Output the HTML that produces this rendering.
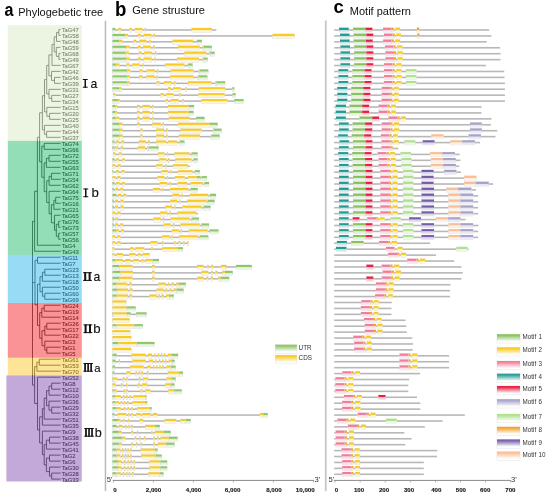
<!DOCTYPE html><html><head><meta charset="utf-8"><style>html,body{margin:0;padding:0;background:#fff;width:550px;height:496px;overflow:hidden}svg{display:block;will-change:transform}text{font-family:"Liberation Sans",sans-serif}</style></head><body>
<svg width="550" height="496" viewBox="0 0 550 496">
<defs>
<linearGradient id="m1" x1="0" y1="0" x2="0" y2="1"><stop offset="0" stop-color="#84c059"/><stop offset="0.4" stop-color="#84c059" stop-opacity="0.95"/><stop offset="0.52" stop-color="#84c059" stop-opacity="0.3"/><stop offset="0.85" stop-color="#84c059" stop-opacity="0.17"/><stop offset="1" stop-color="#84c059" stop-opacity="0.08"/></linearGradient>
<linearGradient id="m2" x1="0" y1="0" x2="0" y2="1"><stop offset="0" stop-color="#f7cb16"/><stop offset="0.4" stop-color="#f7cb16" stop-opacity="0.95"/><stop offset="0.52" stop-color="#f7cb16" stop-opacity="0.3"/><stop offset="0.85" stop-color="#f7cb16" stop-opacity="0.17"/><stop offset="1" stop-color="#f7cb16" stop-opacity="0.08"/></linearGradient>
<linearGradient id="m3" x1="0" y1="0" x2="0" y2="1"><stop offset="0" stop-color="#f07a98"/><stop offset="0.4" stop-color="#f07a98" stop-opacity="0.95"/><stop offset="0.52" stop-color="#f07a98" stop-opacity="0.3"/><stop offset="0.85" stop-color="#f07a98" stop-opacity="0.17"/><stop offset="1" stop-color="#f07a98" stop-opacity="0.08"/></linearGradient>
<linearGradient id="m4" x1="0" y1="0" x2="0" y2="1"><stop offset="0" stop-color="#1e9891"/><stop offset="0.4" stop-color="#1e9891" stop-opacity="0.95"/><stop offset="0.52" stop-color="#1e9891" stop-opacity="0.3"/><stop offset="0.85" stop-color="#1e9891" stop-opacity="0.17"/><stop offset="1" stop-color="#1e9891" stop-opacity="0.08"/></linearGradient>
<linearGradient id="m5" x1="0" y1="0" x2="0" y2="1"><stop offset="0" stop-color="#e8193c"/><stop offset="0.4" stop-color="#e8193c" stop-opacity="0.95"/><stop offset="0.52" stop-color="#e8193c" stop-opacity="0.3"/><stop offset="0.85" stop-color="#e8193c" stop-opacity="0.17"/><stop offset="1" stop-color="#e8193c" stop-opacity="0.08"/></linearGradient>
<linearGradient id="m6" x1="0" y1="0" x2="0" y2="1"><stop offset="0" stop-color="#a3a0c6"/><stop offset="0.4" stop-color="#a3a0c6" stop-opacity="0.95"/><stop offset="0.52" stop-color="#a3a0c6" stop-opacity="0.3"/><stop offset="0.85" stop-color="#a3a0c6" stop-opacity="0.17"/><stop offset="1" stop-color="#a3a0c6" stop-opacity="0.08"/></linearGradient>
<linearGradient id="m7" x1="0" y1="0" x2="0" y2="1"><stop offset="0" stop-color="#ade08a"/><stop offset="0.4" stop-color="#ade08a" stop-opacity="0.95"/><stop offset="0.52" stop-color="#ade08a" stop-opacity="0.3"/><stop offset="0.85" stop-color="#ade08a" stop-opacity="0.17"/><stop offset="1" stop-color="#ade08a" stop-opacity="0.08"/></linearGradient>
<linearGradient id="m8" x1="0" y1="0" x2="0" y2="1"><stop offset="0" stop-color="#f5a020"/><stop offset="0.4" stop-color="#f5a020" stop-opacity="0.95"/><stop offset="0.52" stop-color="#f5a020" stop-opacity="0.3"/><stop offset="0.85" stop-color="#f5a020" stop-opacity="0.17"/><stop offset="1" stop-color="#f5a020" stop-opacity="0.08"/></linearGradient>
<linearGradient id="m9" x1="0" y1="0" x2="0" y2="1"><stop offset="0" stop-color="#7259a8"/><stop offset="0.4" stop-color="#7259a8" stop-opacity="0.95"/><stop offset="0.52" stop-color="#7259a8" stop-opacity="0.3"/><stop offset="0.85" stop-color="#7259a8" stop-opacity="0.17"/><stop offset="1" stop-color="#7259a8" stop-opacity="0.08"/></linearGradient>
<linearGradient id="m10" x1="0" y1="0" x2="0" y2="1"><stop offset="0" stop-color="#fbbd92"/><stop offset="0.4" stop-color="#fbbd92" stop-opacity="0.95"/><stop offset="0.52" stop-color="#fbbd92" stop-opacity="0.3"/><stop offset="0.85" stop-color="#fbbd92" stop-opacity="0.17"/><stop offset="1" stop-color="#fbbd92" stop-opacity="0.08"/></linearGradient>
<linearGradient id="gG" x1="0" y1="0" x2="0" y2="1"><stop offset="0" stop-color="#8ac462"/><stop offset="0.36" stop-color="#8ac462" stop-opacity="0.92"/><stop offset="0.5" stop-color="#8ac462" stop-opacity="0.32"/><stop offset="0.85" stop-color="#8ac462" stop-opacity="0.14"/><stop offset="1" stop-color="#8ac462" stop-opacity="0.06"/></linearGradient>
<linearGradient id="gY" x1="0" y1="0" x2="0" y2="1"><stop offset="0" stop-color="#f8c81c"/><stop offset="0.36" stop-color="#f8c81c" stop-opacity="0.92"/><stop offset="0.5" stop-color="#f8c81c" stop-opacity="0.32"/><stop offset="0.85" stop-color="#f8c81c" stop-opacity="0.14"/><stop offset="1" stop-color="#f8c81c" stop-opacity="0.06"/></linearGradient>
<linearGradient id="l1" x1="0" y1="0" x2="0" y2="1"><stop offset="0" stop-color="#84c059"/><stop offset="0.15" stop-color="#84c059" stop-opacity="0.92"/><stop offset="0.82" stop-color="#84c059" stop-opacity="0.0"/></linearGradient>
<linearGradient id="l2" x1="0" y1="0" x2="0" y2="1"><stop offset="0" stop-color="#f7cb16"/><stop offset="0.15" stop-color="#f7cb16" stop-opacity="0.92"/><stop offset="0.82" stop-color="#f7cb16" stop-opacity="0.0"/></linearGradient>
<linearGradient id="l3" x1="0" y1="0" x2="0" y2="1"><stop offset="0" stop-color="#f07a98"/><stop offset="0.15" stop-color="#f07a98" stop-opacity="0.92"/><stop offset="0.82" stop-color="#f07a98" stop-opacity="0.0"/></linearGradient>
<linearGradient id="l4" x1="0" y1="0" x2="0" y2="1"><stop offset="0" stop-color="#1e9891"/><stop offset="0.15" stop-color="#1e9891" stop-opacity="0.92"/><stop offset="0.82" stop-color="#1e9891" stop-opacity="0.0"/></linearGradient>
<linearGradient id="l5" x1="0" y1="0" x2="0" y2="1"><stop offset="0" stop-color="#e8193c"/><stop offset="0.15" stop-color="#e8193c" stop-opacity="0.92"/><stop offset="0.82" stop-color="#e8193c" stop-opacity="0.0"/></linearGradient>
<linearGradient id="l6" x1="0" y1="0" x2="0" y2="1"><stop offset="0" stop-color="#a3a0c6"/><stop offset="0.15" stop-color="#a3a0c6" stop-opacity="0.92"/><stop offset="0.82" stop-color="#a3a0c6" stop-opacity="0.0"/></linearGradient>
<linearGradient id="l7" x1="0" y1="0" x2="0" y2="1"><stop offset="0" stop-color="#ade08a"/><stop offset="0.15" stop-color="#ade08a" stop-opacity="0.92"/><stop offset="0.82" stop-color="#ade08a" stop-opacity="0.0"/></linearGradient>
<linearGradient id="l8" x1="0" y1="0" x2="0" y2="1"><stop offset="0" stop-color="#f5a020"/><stop offset="0.15" stop-color="#f5a020" stop-opacity="0.92"/><stop offset="0.82" stop-color="#f5a020" stop-opacity="0.0"/></linearGradient>
<linearGradient id="l9" x1="0" y1="0" x2="0" y2="1"><stop offset="0" stop-color="#7259a8"/><stop offset="0.15" stop-color="#7259a8" stop-opacity="0.92"/><stop offset="0.82" stop-color="#7259a8" stop-opacity="0.0"/></linearGradient>
<linearGradient id="l10" x1="0" y1="0" x2="0" y2="1"><stop offset="0" stop-color="#fbbd92"/><stop offset="0.15" stop-color="#fbbd92" stop-opacity="0.92"/><stop offset="0.82" stop-color="#fbbd92" stop-opacity="0.0"/></linearGradient>
<linearGradient id="lgG" x1="0" y1="0" x2="0" y2="1"><stop offset="0" stop-color="#8ac462"/><stop offset="0.15" stop-color="#8ac462" stop-opacity="0.92"/><stop offset="0.82" stop-color="#8ac462" stop-opacity="0.0"/></linearGradient>
<linearGradient id="lgY" x1="0" y1="0" x2="0" y2="1"><stop offset="0" stop-color="#f8c81c"/><stop offset="0.15" stop-color="#f8c81c" stop-opacity="0.92"/><stop offset="0.82" stop-color="#f8c81c" stop-opacity="0.0"/></linearGradient>
</defs>
<text transform="translate(4.5,15.7) scale(0.93,1.06)" font-size="17.3" font-weight="bold" fill="#000">a</text>
<text x="18.2" y="15.9" font-size="11" fill="#111">Phylogebetic tree</text>
<text transform="translate(114.9,15.6) scale(0.98,1.11)" font-size="19" font-weight="bold" fill="#000">b</text>
<text x="132.2" y="13.8" font-size="11" fill="#111">Gene strusture</text>
<text x="333.4" y="12.9" font-size="18.5" font-weight="bold" fill="#000">c</text>
<text x="349.8" y="15.3" font-size="11" fill="#111">Motif pattern</text>
<rect x="104.7" y="20.8" width="1.5" height="470.2" fill="#b9b9b9"/>
<rect x="324.9" y="20.4" width="1.7" height="470.6" fill="#c4c4c4"/>
<line x1="32.50" y1="221.26" x2="32.50" y2="385.11" stroke="#262626" stroke-width="0.85"/>
<line x1="32.50" y1="221.26" x2="34.60" y2="221.26" stroke="#262626" stroke-width="0.85"/>
<line x1="34.60" y1="191.27" x2="34.60" y2="251.25" stroke="#262626" stroke-width="0.85"/>
<line x1="34.60" y1="191.27" x2="37.40" y2="191.27" stroke="#262626" stroke-width="0.85"/>
<line x1="37.40" y1="137.28" x2="37.40" y2="245.26" stroke="#262626" stroke-width="0.85"/>
<line x1="37.40" y1="137.28" x2="39.60" y2="137.28" stroke="#262626" stroke-width="0.85"/>
<line x1="39.60" y1="112.78" x2="39.60" y2="161.78" stroke="#262626" stroke-width="0.85"/>
<line x1="39.60" y1="112.78" x2="42.40" y2="112.78" stroke="#262626" stroke-width="0.85"/>
<line x1="42.40" y1="95.73" x2="42.40" y2="129.83" stroke="#262626" stroke-width="0.85"/>
<line x1="42.40" y1="95.73" x2="44.50" y2="95.73" stroke="#262626" stroke-width="0.85"/>
<line x1="44.50" y1="79.62" x2="44.50" y2="111.84" stroke="#262626" stroke-width="0.85"/>
<line x1="44.50" y1="79.62" x2="46.70" y2="79.62" stroke="#262626" stroke-width="0.85"/>
<line x1="46.70" y1="65.38" x2="46.70" y2="93.86" stroke="#262626" stroke-width="0.85"/>
<line x1="46.70" y1="65.38" x2="48.90" y2="65.38" stroke="#262626" stroke-width="0.85"/>
<line x1="48.90" y1="54.88" x2="48.90" y2="75.87" stroke="#262626" stroke-width="0.85"/>
<line x1="48.90" y1="54.88" x2="52.00" y2="54.88" stroke="#262626" stroke-width="0.85"/>
<line x1="52.00" y1="44.39" x2="52.00" y2="65.38" stroke="#262626" stroke-width="0.85"/>
<line x1="52.00" y1="44.39" x2="54.20" y2="44.39" stroke="#262626" stroke-width="0.85"/>
<line x1="54.20" y1="36.89" x2="54.20" y2="51.89" stroke="#262626" stroke-width="0.85"/>
<line x1="54.20" y1="36.89" x2="56.50" y2="36.89" stroke="#262626" stroke-width="0.85"/>
<line x1="56.50" y1="32.40" x2="56.50" y2="41.39" stroke="#262626" stroke-width="0.85"/>
<line x1="56.50" y1="32.40" x2="58.90" y2="32.40" stroke="#262626" stroke-width="0.85"/>
<line x1="58.90" y1="29.40" x2="58.90" y2="35.40" stroke="#262626" stroke-width="0.85"/>
<line x1="58.90" y1="29.40" x2="60.60" y2="29.40" stroke="#262626" stroke-width="0.85"/>
<line x1="58.90" y1="35.40" x2="60.60" y2="35.40" stroke="#262626" stroke-width="0.85"/>
<line x1="56.50" y1="41.39" x2="60.60" y2="41.39" stroke="#262626" stroke-width="0.85"/>
<line x1="54.20" y1="51.89" x2="56.30" y2="51.89" stroke="#262626" stroke-width="0.85"/>
<line x1="56.30" y1="47.39" x2="56.30" y2="56.38" stroke="#262626" stroke-width="0.85"/>
<line x1="56.30" y1="47.39" x2="60.60" y2="47.39" stroke="#262626" stroke-width="0.85"/>
<line x1="56.30" y1="56.38" x2="58.90" y2="56.38" stroke="#262626" stroke-width="0.85"/>
<line x1="58.90" y1="53.38" x2="58.90" y2="59.38" stroke="#262626" stroke-width="0.85"/>
<line x1="58.90" y1="53.38" x2="60.60" y2="53.38" stroke="#262626" stroke-width="0.85"/>
<line x1="58.90" y1="59.38" x2="60.60" y2="59.38" stroke="#262626" stroke-width="0.85"/>
<line x1="52.00" y1="65.38" x2="60.60" y2="65.38" stroke="#262626" stroke-width="0.85"/>
<line x1="48.90" y1="75.87" x2="51.50" y2="75.87" stroke="#262626" stroke-width="0.85"/>
<line x1="51.50" y1="71.37" x2="51.50" y2="80.37" stroke="#262626" stroke-width="0.85"/>
<line x1="51.50" y1="71.37" x2="60.60" y2="71.37" stroke="#262626" stroke-width="0.85"/>
<line x1="51.50" y1="80.37" x2="54.50" y2="80.37" stroke="#262626" stroke-width="0.85"/>
<line x1="54.50" y1="77.37" x2="54.50" y2="83.36" stroke="#262626" stroke-width="0.85"/>
<line x1="54.50" y1="77.37" x2="60.60" y2="77.37" stroke="#262626" stroke-width="0.85"/>
<line x1="54.50" y1="83.36" x2="60.60" y2="83.36" stroke="#262626" stroke-width="0.85"/>
<line x1="46.70" y1="93.86" x2="49.00" y2="93.86" stroke="#262626" stroke-width="0.85"/>
<line x1="49.00" y1="89.36" x2="49.00" y2="98.35" stroke="#262626" stroke-width="0.85"/>
<line x1="49.00" y1="89.36" x2="60.60" y2="89.36" stroke="#262626" stroke-width="0.85"/>
<line x1="49.00" y1="98.35" x2="51.70" y2="98.35" stroke="#262626" stroke-width="0.85"/>
<line x1="51.70" y1="95.36" x2="51.70" y2="101.35" stroke="#262626" stroke-width="0.85"/>
<line x1="51.70" y1="95.36" x2="60.60" y2="95.36" stroke="#262626" stroke-width="0.85"/>
<line x1="51.70" y1="101.35" x2="60.60" y2="101.35" stroke="#262626" stroke-width="0.85"/>
<line x1="44.50" y1="111.84" x2="46.80" y2="111.84" stroke="#262626" stroke-width="0.85"/>
<line x1="46.80" y1="107.35" x2="46.80" y2="116.34" stroke="#262626" stroke-width="0.85"/>
<line x1="46.80" y1="107.35" x2="60.60" y2="107.35" stroke="#262626" stroke-width="0.85"/>
<line x1="46.80" y1="116.34" x2="49.60" y2="116.34" stroke="#262626" stroke-width="0.85"/>
<line x1="49.60" y1="113.34" x2="49.60" y2="119.34" stroke="#262626" stroke-width="0.85"/>
<line x1="49.60" y1="113.34" x2="60.60" y2="113.34" stroke="#262626" stroke-width="0.85"/>
<line x1="49.60" y1="119.34" x2="60.60" y2="119.34" stroke="#262626" stroke-width="0.85"/>
<line x1="42.40" y1="129.83" x2="44.40" y2="129.83" stroke="#262626" stroke-width="0.85"/>
<line x1="44.40" y1="125.34" x2="44.40" y2="134.33" stroke="#262626" stroke-width="0.85"/>
<line x1="44.40" y1="125.34" x2="60.60" y2="125.34" stroke="#262626" stroke-width="0.85"/>
<line x1="44.40" y1="134.33" x2="46.60" y2="134.33" stroke="#262626" stroke-width="0.85"/>
<line x1="46.60" y1="131.33" x2="46.60" y2="137.33" stroke="#262626" stroke-width="0.85"/>
<line x1="46.60" y1="131.33" x2="60.60" y2="131.33" stroke="#262626" stroke-width="0.85"/>
<line x1="46.60" y1="137.33" x2="60.60" y2="137.33" stroke="#262626" stroke-width="0.85"/>
<line x1="39.60" y1="161.78" x2="41.80" y2="161.78" stroke="#262626" stroke-width="0.85"/>
<line x1="41.80" y1="146.32" x2="41.80" y2="177.24" stroke="#262626" stroke-width="0.85"/>
<line x1="41.80" y1="146.32" x2="44.20" y2="146.32" stroke="#262626" stroke-width="0.85"/>
<line x1="44.20" y1="143.32" x2="44.20" y2="149.32" stroke="#262626" stroke-width="0.85"/>
<line x1="44.20" y1="143.32" x2="60.60" y2="143.32" stroke="#262626" stroke-width="0.85"/>
<line x1="44.20" y1="149.32" x2="60.60" y2="149.32" stroke="#262626" stroke-width="0.85"/>
<line x1="41.80" y1="177.24" x2="44.20" y2="177.24" stroke="#262626" stroke-width="0.85"/>
<line x1="44.20" y1="162.81" x2="44.20" y2="191.67" stroke="#262626" stroke-width="0.85"/>
<line x1="44.20" y1="162.81" x2="46.40" y2="162.81" stroke="#262626" stroke-width="0.85"/>
<line x1="46.40" y1="158.31" x2="46.40" y2="167.31" stroke="#262626" stroke-width="0.85"/>
<line x1="46.40" y1="158.31" x2="49.00" y2="158.31" stroke="#262626" stroke-width="0.85"/>
<line x1="49.00" y1="155.32" x2="49.00" y2="161.31" stroke="#262626" stroke-width="0.85"/>
<line x1="49.00" y1="155.32" x2="60.60" y2="155.32" stroke="#262626" stroke-width="0.85"/>
<line x1="49.00" y1="161.31" x2="60.60" y2="161.31" stroke="#262626" stroke-width="0.85"/>
<line x1="46.40" y1="167.31" x2="60.60" y2="167.31" stroke="#262626" stroke-width="0.85"/>
<line x1="44.20" y1="191.67" x2="46.70" y2="191.67" stroke="#262626" stroke-width="0.85"/>
<line x1="46.70" y1="180.80" x2="46.70" y2="202.53" stroke="#262626" stroke-width="0.85"/>
<line x1="46.70" y1="180.80" x2="49.10" y2="180.80" stroke="#262626" stroke-width="0.85"/>
<line x1="49.10" y1="176.30" x2="49.10" y2="185.30" stroke="#262626" stroke-width="0.85"/>
<line x1="49.10" y1="176.30" x2="51.50" y2="176.30" stroke="#262626" stroke-width="0.85"/>
<line x1="51.50" y1="173.30" x2="51.50" y2="179.30" stroke="#262626" stroke-width="0.85"/>
<line x1="51.50" y1="173.30" x2="60.60" y2="173.30" stroke="#262626" stroke-width="0.85"/>
<line x1="51.50" y1="179.30" x2="60.60" y2="179.30" stroke="#262626" stroke-width="0.85"/>
<line x1="49.10" y1="185.30" x2="60.60" y2="185.30" stroke="#262626" stroke-width="0.85"/>
<line x1="46.70" y1="202.53" x2="49.10" y2="202.53" stroke="#262626" stroke-width="0.85"/>
<line x1="49.10" y1="191.29" x2="49.10" y2="213.78" stroke="#262626" stroke-width="0.85"/>
<line x1="49.10" y1="191.29" x2="60.60" y2="191.29" stroke="#262626" stroke-width="0.85"/>
<line x1="49.10" y1="213.78" x2="51.40" y2="213.78" stroke="#262626" stroke-width="0.85"/>
<line x1="51.40" y1="204.78" x2="51.40" y2="222.77" stroke="#262626" stroke-width="0.85"/>
<line x1="51.40" y1="204.78" x2="53.90" y2="204.78" stroke="#262626" stroke-width="0.85"/>
<line x1="53.90" y1="200.29" x2="53.90" y2="209.28" stroke="#262626" stroke-width="0.85"/>
<line x1="53.90" y1="200.29" x2="55.70" y2="200.29" stroke="#262626" stroke-width="0.85"/>
<line x1="55.70" y1="197.29" x2="55.70" y2="203.28" stroke="#262626" stroke-width="0.85"/>
<line x1="55.70" y1="197.29" x2="60.60" y2="197.29" stroke="#262626" stroke-width="0.85"/>
<line x1="55.70" y1="203.28" x2="60.60" y2="203.28" stroke="#262626" stroke-width="0.85"/>
<line x1="53.90" y1="209.28" x2="60.60" y2="209.28" stroke="#262626" stroke-width="0.85"/>
<line x1="51.40" y1="222.77" x2="54.50" y2="222.77" stroke="#262626" stroke-width="0.85"/>
<line x1="54.50" y1="215.28" x2="54.50" y2="230.27" stroke="#262626" stroke-width="0.85"/>
<line x1="54.50" y1="215.28" x2="60.60" y2="215.28" stroke="#262626" stroke-width="0.85"/>
<line x1="54.50" y1="230.27" x2="56.30" y2="230.27" stroke="#262626" stroke-width="0.85"/>
<line x1="56.30" y1="224.27" x2="56.30" y2="236.26" stroke="#262626" stroke-width="0.85"/>
<line x1="56.30" y1="224.27" x2="58.70" y2="224.27" stroke="#262626" stroke-width="0.85"/>
<line x1="58.70" y1="221.27" x2="58.70" y2="227.27" stroke="#262626" stroke-width="0.85"/>
<line x1="58.70" y1="221.27" x2="60.60" y2="221.27" stroke="#262626" stroke-width="0.85"/>
<line x1="58.70" y1="227.27" x2="60.60" y2="227.27" stroke="#262626" stroke-width="0.85"/>
<line x1="56.30" y1="236.26" x2="58.70" y2="236.26" stroke="#262626" stroke-width="0.85"/>
<line x1="58.70" y1="233.26" x2="58.70" y2="239.26" stroke="#262626" stroke-width="0.85"/>
<line x1="58.70" y1="233.26" x2="60.60" y2="233.26" stroke="#262626" stroke-width="0.85"/>
<line x1="58.70" y1="239.26" x2="60.60" y2="239.26" stroke="#262626" stroke-width="0.85"/>
<line x1="37.40" y1="245.26" x2="60.60" y2="245.26" stroke="#262626" stroke-width="0.85"/>
<line x1="34.60" y1="251.25" x2="60.60" y2="251.25" stroke="#262626" stroke-width="0.85"/>
<line x1="32.50" y1="282.54" x2="35.00" y2="282.54" stroke="#262626" stroke-width="0.85"/>
<line x1="35.00" y1="260.25" x2="35.00" y2="304.84" stroke="#262626" stroke-width="0.85"/>
<line x1="35.00" y1="260.25" x2="37.50" y2="260.25" stroke="#262626" stroke-width="0.85"/>
<line x1="37.50" y1="257.25" x2="37.50" y2="263.24" stroke="#262626" stroke-width="0.85"/>
<line x1="37.50" y1="257.25" x2="60.60" y2="257.25" stroke="#262626" stroke-width="0.85"/>
<line x1="37.50" y1="263.24" x2="60.60" y2="263.24" stroke="#262626" stroke-width="0.85"/>
<line x1="35.00" y1="304.84" x2="37.50" y2="304.84" stroke="#262626" stroke-width="0.85"/>
<line x1="37.50" y1="284.23" x2="37.50" y2="325.45" stroke="#262626" stroke-width="0.85"/>
<line x1="37.50" y1="284.23" x2="40.00" y2="284.23" stroke="#262626" stroke-width="0.85"/>
<line x1="40.00" y1="276.74" x2="40.00" y2="291.73" stroke="#262626" stroke-width="0.85"/>
<line x1="40.00" y1="276.74" x2="42.40" y2="276.74" stroke="#262626" stroke-width="0.85"/>
<line x1="42.40" y1="272.24" x2="42.40" y2="281.23" stroke="#262626" stroke-width="0.85"/>
<line x1="42.40" y1="272.24" x2="44.80" y2="272.24" stroke="#262626" stroke-width="0.85"/>
<line x1="44.80" y1="269.24" x2="44.80" y2="275.24" stroke="#262626" stroke-width="0.85"/>
<line x1="44.80" y1="269.24" x2="60.60" y2="269.24" stroke="#262626" stroke-width="0.85"/>
<line x1="44.80" y1="275.24" x2="60.60" y2="275.24" stroke="#262626" stroke-width="0.85"/>
<line x1="42.40" y1="281.23" x2="60.60" y2="281.23" stroke="#262626" stroke-width="0.85"/>
<line x1="40.00" y1="291.73" x2="42.40" y2="291.73" stroke="#262626" stroke-width="0.85"/>
<line x1="42.40" y1="287.23" x2="42.40" y2="296.22" stroke="#262626" stroke-width="0.85"/>
<line x1="42.40" y1="287.23" x2="60.60" y2="287.23" stroke="#262626" stroke-width="0.85"/>
<line x1="42.40" y1="296.22" x2="44.80" y2="296.22" stroke="#262626" stroke-width="0.85"/>
<line x1="44.80" y1="293.22" x2="44.80" y2="299.22" stroke="#262626" stroke-width="0.85"/>
<line x1="44.80" y1="293.22" x2="60.60" y2="293.22" stroke="#262626" stroke-width="0.85"/>
<line x1="44.80" y1="299.22" x2="60.60" y2="299.22" stroke="#262626" stroke-width="0.85"/>
<line x1="37.50" y1="325.45" x2="39.70" y2="325.45" stroke="#262626" stroke-width="0.85"/>
<line x1="39.70" y1="312.71" x2="39.70" y2="338.19" stroke="#262626" stroke-width="0.85"/>
<line x1="39.70" y1="312.71" x2="41.80" y2="312.71" stroke="#262626" stroke-width="0.85"/>
<line x1="41.80" y1="308.21" x2="41.80" y2="317.21" stroke="#262626" stroke-width="0.85"/>
<line x1="41.80" y1="308.21" x2="44.20" y2="308.21" stroke="#262626" stroke-width="0.85"/>
<line x1="44.20" y1="305.22" x2="44.20" y2="311.21" stroke="#262626" stroke-width="0.85"/>
<line x1="44.20" y1="305.22" x2="60.60" y2="305.22" stroke="#262626" stroke-width="0.85"/>
<line x1="44.20" y1="311.21" x2="60.60" y2="311.21" stroke="#262626" stroke-width="0.85"/>
<line x1="41.80" y1="317.21" x2="60.60" y2="317.21" stroke="#262626" stroke-width="0.85"/>
<line x1="39.70" y1="338.19" x2="42.00" y2="338.19" stroke="#262626" stroke-width="0.85"/>
<line x1="42.00" y1="330.70" x2="42.00" y2="345.69" stroke="#262626" stroke-width="0.85"/>
<line x1="42.00" y1="330.70" x2="44.80" y2="330.70" stroke="#262626" stroke-width="0.85"/>
<line x1="44.80" y1="326.20" x2="44.80" y2="335.20" stroke="#262626" stroke-width="0.85"/>
<line x1="44.80" y1="326.20" x2="46.80" y2="326.20" stroke="#262626" stroke-width="0.85"/>
<line x1="46.80" y1="323.20" x2="46.80" y2="329.20" stroke="#262626" stroke-width="0.85"/>
<line x1="46.80" y1="323.20" x2="60.60" y2="323.20" stroke="#262626" stroke-width="0.85"/>
<line x1="46.80" y1="329.20" x2="60.60" y2="329.20" stroke="#262626" stroke-width="0.85"/>
<line x1="44.80" y1="335.20" x2="60.60" y2="335.20" stroke="#262626" stroke-width="0.85"/>
<line x1="42.00" y1="345.69" x2="44.80" y2="345.69" stroke="#262626" stroke-width="0.85"/>
<line x1="44.80" y1="341.19" x2="44.80" y2="350.19" stroke="#262626" stroke-width="0.85"/>
<line x1="44.80" y1="341.19" x2="60.60" y2="341.19" stroke="#262626" stroke-width="0.85"/>
<line x1="44.80" y1="350.19" x2="46.80" y2="350.19" stroke="#262626" stroke-width="0.85"/>
<line x1="46.80" y1="347.19" x2="46.80" y2="353.18" stroke="#262626" stroke-width="0.85"/>
<line x1="46.80" y1="347.19" x2="60.60" y2="347.19" stroke="#262626" stroke-width="0.85"/>
<line x1="46.80" y1="353.18" x2="60.60" y2="353.18" stroke="#262626" stroke-width="0.85"/>
<line x1="32.50" y1="385.11" x2="34.60" y2="385.11" stroke="#262626" stroke-width="0.85"/>
<line x1="34.60" y1="366.68" x2="34.60" y2="403.54" stroke="#262626" stroke-width="0.85"/>
<line x1="34.60" y1="366.68" x2="36.90" y2="366.68" stroke="#262626" stroke-width="0.85"/>
<line x1="36.90" y1="362.18" x2="36.90" y2="371.17" stroke="#262626" stroke-width="0.85"/>
<line x1="36.90" y1="362.18" x2="39.30" y2="362.18" stroke="#262626" stroke-width="0.85"/>
<line x1="39.30" y1="359.18" x2="39.30" y2="365.18" stroke="#262626" stroke-width="0.85"/>
<line x1="39.30" y1="359.18" x2="60.60" y2="359.18" stroke="#262626" stroke-width="0.85"/>
<line x1="39.30" y1="365.18" x2="60.60" y2="365.18" stroke="#262626" stroke-width="0.85"/>
<line x1="36.90" y1="371.17" x2="60.60" y2="371.17" stroke="#262626" stroke-width="0.85"/>
<line x1="34.60" y1="403.54" x2="37.50" y2="403.54" stroke="#262626" stroke-width="0.85"/>
<line x1="37.50" y1="377.17" x2="37.50" y2="429.91" stroke="#262626" stroke-width="0.85"/>
<line x1="37.50" y1="377.17" x2="60.60" y2="377.17" stroke="#262626" stroke-width="0.85"/>
<line x1="37.50" y1="429.91" x2="39.60" y2="429.91" stroke="#262626" stroke-width="0.85"/>
<line x1="39.60" y1="416.89" x2="39.60" y2="442.94" stroke="#262626" stroke-width="0.85"/>
<line x1="39.60" y1="416.89" x2="42.40" y2="416.89" stroke="#262626" stroke-width="0.85"/>
<line x1="42.40" y1="408.65" x2="42.40" y2="425.14" stroke="#262626" stroke-width="0.85"/>
<line x1="42.40" y1="408.65" x2="44.20" y2="408.65" stroke="#262626" stroke-width="0.85"/>
<line x1="44.20" y1="398.15" x2="44.20" y2="419.14" stroke="#262626" stroke-width="0.85"/>
<line x1="44.20" y1="398.15" x2="46.60" y2="398.15" stroke="#262626" stroke-width="0.85"/>
<line x1="46.60" y1="390.66" x2="46.60" y2="405.65" stroke="#262626" stroke-width="0.85"/>
<line x1="46.60" y1="390.66" x2="49.00" y2="390.66" stroke="#262626" stroke-width="0.85"/>
<line x1="49.00" y1="386.16" x2="49.00" y2="395.16" stroke="#262626" stroke-width="0.85"/>
<line x1="49.00" y1="386.16" x2="51.70" y2="386.16" stroke="#262626" stroke-width="0.85"/>
<line x1="51.70" y1="383.16" x2="51.70" y2="389.16" stroke="#262626" stroke-width="0.85"/>
<line x1="51.70" y1="383.16" x2="60.60" y2="383.16" stroke="#262626" stroke-width="0.85"/>
<line x1="51.70" y1="389.16" x2="60.60" y2="389.16" stroke="#262626" stroke-width="0.85"/>
<line x1="49.00" y1="395.16" x2="60.60" y2="395.16" stroke="#262626" stroke-width="0.85"/>
<line x1="46.60" y1="405.65" x2="49.00" y2="405.65" stroke="#262626" stroke-width="0.85"/>
<line x1="49.00" y1="401.15" x2="49.00" y2="410.15" stroke="#262626" stroke-width="0.85"/>
<line x1="49.00" y1="401.15" x2="60.60" y2="401.15" stroke="#262626" stroke-width="0.85"/>
<line x1="49.00" y1="410.15" x2="51.70" y2="410.15" stroke="#262626" stroke-width="0.85"/>
<line x1="51.70" y1="407.15" x2="51.70" y2="413.14" stroke="#262626" stroke-width="0.85"/>
<line x1="51.70" y1="407.15" x2="60.60" y2="407.15" stroke="#262626" stroke-width="0.85"/>
<line x1="51.70" y1="413.14" x2="60.60" y2="413.14" stroke="#262626" stroke-width="0.85"/>
<line x1="44.20" y1="419.14" x2="60.60" y2="419.14" stroke="#262626" stroke-width="0.85"/>
<line x1="42.40" y1="425.14" x2="60.60" y2="425.14" stroke="#262626" stroke-width="0.85"/>
<line x1="39.60" y1="442.94" x2="42.40" y2="442.94" stroke="#262626" stroke-width="0.85"/>
<line x1="42.40" y1="431.13" x2="42.40" y2="454.74" stroke="#262626" stroke-width="0.85"/>
<line x1="42.40" y1="431.13" x2="60.60" y2="431.13" stroke="#262626" stroke-width="0.85"/>
<line x1="42.40" y1="454.74" x2="44.20" y2="454.74" stroke="#262626" stroke-width="0.85"/>
<line x1="44.20" y1="444.62" x2="44.20" y2="464.86" stroke="#262626" stroke-width="0.85"/>
<line x1="44.20" y1="444.62" x2="46.40" y2="444.62" stroke="#262626" stroke-width="0.85"/>
<line x1="46.40" y1="440.13" x2="46.40" y2="449.12" stroke="#262626" stroke-width="0.85"/>
<line x1="46.40" y1="440.13" x2="49.50" y2="440.13" stroke="#262626" stroke-width="0.85"/>
<line x1="49.50" y1="437.13" x2="49.50" y2="443.12" stroke="#262626" stroke-width="0.85"/>
<line x1="49.50" y1="437.13" x2="60.60" y2="437.13" stroke="#262626" stroke-width="0.85"/>
<line x1="49.50" y1="443.12" x2="60.60" y2="443.12" stroke="#262626" stroke-width="0.85"/>
<line x1="46.40" y1="449.12" x2="60.60" y2="449.12" stroke="#262626" stroke-width="0.85"/>
<line x1="44.20" y1="464.86" x2="46.40" y2="464.86" stroke="#262626" stroke-width="0.85"/>
<line x1="46.40" y1="458.11" x2="46.40" y2="471.61" stroke="#262626" stroke-width="0.85"/>
<line x1="46.40" y1="458.11" x2="49.50" y2="458.11" stroke="#262626" stroke-width="0.85"/>
<line x1="49.50" y1="455.12" x2="49.50" y2="461.11" stroke="#262626" stroke-width="0.85"/>
<line x1="49.50" y1="455.12" x2="60.60" y2="455.12" stroke="#262626" stroke-width="0.85"/>
<line x1="49.50" y1="461.11" x2="60.60" y2="461.11" stroke="#262626" stroke-width="0.85"/>
<line x1="46.40" y1="471.61" x2="49.50" y2="471.61" stroke="#262626" stroke-width="0.85"/>
<line x1="49.50" y1="467.11" x2="49.50" y2="476.10" stroke="#262626" stroke-width="0.85"/>
<line x1="49.50" y1="467.11" x2="60.60" y2="467.11" stroke="#262626" stroke-width="0.85"/>
<line x1="49.50" y1="476.10" x2="51.70" y2="476.10" stroke="#262626" stroke-width="0.85"/>
<line x1="51.70" y1="473.10" x2="51.70" y2="479.10" stroke="#262626" stroke-width="0.85"/>
<line x1="51.70" y1="473.10" x2="60.60" y2="473.10" stroke="#262626" stroke-width="0.85"/>
<line x1="51.70" y1="479.10" x2="60.60" y2="479.10" stroke="#262626" stroke-width="0.85"/>
<text x="61.7" y="32.15" font-size="5.8" fill="#262626" stroke="#262626" stroke-width="0.12">TaG47</text>
<text x="61.7" y="38.15" font-size="5.8" fill="#262626" stroke="#262626" stroke-width="0.12">TaG58</text>
<text x="61.7" y="44.14" font-size="5.8" fill="#262626" stroke="#262626" stroke-width="0.12">TaG48</text>
<text x="61.7" y="50.14" font-size="5.8" fill="#262626" stroke="#262626" stroke-width="0.12">TaG59</text>
<text x="61.7" y="56.13" font-size="5.8" fill="#262626" stroke="#262626" stroke-width="0.12">TaG68</text>
<text x="61.7" y="62.13" font-size="5.8" fill="#262626" stroke="#262626" stroke-width="0.12">TaG49</text>
<text x="61.7" y="68.13" font-size="5.8" fill="#262626" stroke="#262626" stroke-width="0.12">TaG67</text>
<text x="61.7" y="74.12" font-size="5.8" fill="#262626" stroke="#262626" stroke-width="0.12">TaG42</text>
<text x="61.7" y="80.12" font-size="5.8" fill="#262626" stroke="#262626" stroke-width="0.12">TaG46</text>
<text x="61.7" y="86.11" font-size="5.8" fill="#262626" stroke="#262626" stroke-width="0.12">TaG39</text>
<text x="61.7" y="92.11" font-size="5.8" fill="#262626" stroke="#262626" stroke-width="0.12">TaG31</text>
<text x="61.7" y="98.11" font-size="5.8" fill="#262626" stroke="#262626" stroke-width="0.12">TaG27</text>
<text x="61.7" y="104.10" font-size="5.8" fill="#262626" stroke="#262626" stroke-width="0.12">TaG34</text>
<text x="61.7" y="110.10" font-size="5.8" fill="#262626" stroke="#262626" stroke-width="0.12">TaG15</text>
<text x="61.7" y="116.09" font-size="5.8" fill="#262626" stroke="#262626" stroke-width="0.12">TaG20</text>
<text x="61.7" y="122.09" font-size="5.8" fill="#262626" stroke="#262626" stroke-width="0.12">TaG25</text>
<text x="61.7" y="128.09" font-size="5.8" fill="#262626" stroke="#262626" stroke-width="0.12">TaG40</text>
<text x="61.7" y="134.08" font-size="5.8" fill="#262626" stroke="#262626" stroke-width="0.12">TaG44</text>
<text x="61.7" y="140.08" font-size="5.8" fill="#262626" stroke="#262626" stroke-width="0.12">TaG37</text>
<text x="61.7" y="146.07" font-size="5.8" fill="#262626" stroke="#262626" stroke-width="0.12">TaG74</text>
<text x="61.7" y="152.07" font-size="5.8" fill="#262626" stroke="#262626" stroke-width="0.12">TaG66</text>
<text x="61.7" y="158.07" font-size="5.8" fill="#262626" stroke="#262626" stroke-width="0.12">TaG72</text>
<text x="61.7" y="164.06" font-size="5.8" fill="#262626" stroke="#262626" stroke-width="0.12">TaG55</text>
<text x="61.7" y="170.06" font-size="5.8" fill="#262626" stroke="#262626" stroke-width="0.12">TaG63</text>
<text x="61.7" y="176.05" font-size="5.8" fill="#262626" stroke="#262626" stroke-width="0.12">TaG71</text>
<text x="61.7" y="182.05" font-size="5.8" fill="#262626" stroke="#262626" stroke-width="0.12">TaG54</text>
<text x="61.7" y="188.05" font-size="5.8" fill="#262626" stroke="#262626" stroke-width="0.12">TaG62</text>
<text x="61.7" y="194.04" font-size="5.8" fill="#262626" stroke="#262626" stroke-width="0.12">TaG64</text>
<text x="61.7" y="200.04" font-size="5.8" fill="#262626" stroke="#262626" stroke-width="0.12">TaG75</text>
<text x="61.7" y="206.03" font-size="5.8" fill="#262626" stroke="#262626" stroke-width="0.12">TaG16</text>
<text x="61.7" y="212.03" font-size="5.8" fill="#262626" stroke="#262626" stroke-width="0.12">TaG21</text>
<text x="61.7" y="218.03" font-size="5.8" fill="#262626" stroke="#262626" stroke-width="0.12">TaG65</text>
<text x="61.7" y="224.02" font-size="5.8" fill="#262626" stroke="#262626" stroke-width="0.12">TaG76</text>
<text x="61.7" y="230.02" font-size="5.8" fill="#262626" stroke="#262626" stroke-width="0.12">TaG73</text>
<text x="61.7" y="236.01" font-size="5.8" fill="#262626" stroke="#262626" stroke-width="0.12">TaG57</text>
<text x="61.7" y="242.01" font-size="5.8" fill="#262626" stroke="#262626" stroke-width="0.12">TaG56</text>
<text x="61.7" y="248.01" font-size="5.8" fill="#262626" stroke="#262626" stroke-width="0.12">TaG4</text>
<text x="61.7" y="254.00" font-size="5.8" fill="#262626" stroke="#262626" stroke-width="0.12">TaG43</text>
<text x="61.7" y="260.00" font-size="5.8" fill="#262626" stroke="#262626" stroke-width="0.12">TaG11</text>
<text x="61.7" y="265.99" font-size="5.8" fill="#262626" stroke="#262626" stroke-width="0.12">TaG7</text>
<text x="61.7" y="271.99" font-size="5.8" fill="#262626" stroke="#262626" stroke-width="0.12">TaG23</text>
<text x="61.7" y="277.99" font-size="5.8" fill="#262626" stroke="#262626" stroke-width="0.12">TaG13</text>
<text x="61.7" y="283.98" font-size="5.8" fill="#262626" stroke="#262626" stroke-width="0.12">TaG18</text>
<text x="61.7" y="289.98" font-size="5.8" fill="#262626" stroke="#262626" stroke-width="0.12">TaG50</text>
<text x="61.7" y="295.97" font-size="5.8" fill="#262626" stroke="#262626" stroke-width="0.12">TaG60</text>
<text x="61.7" y="301.97" font-size="5.8" fill="#262626" stroke="#262626" stroke-width="0.12">TaG69</text>
<text x="61.7" y="307.97" font-size="5.8" fill="#262626" stroke="#262626" stroke-width="0.12">TaG24</text>
<text x="61.7" y="313.96" font-size="5.8" fill="#262626" stroke="#262626" stroke-width="0.12">TaG19</text>
<text x="61.7" y="319.96" font-size="5.8" fill="#262626" stroke="#262626" stroke-width="0.12">TaG14</text>
<text x="61.7" y="325.95" font-size="5.8" fill="#262626" stroke="#262626" stroke-width="0.12">TaG26</text>
<text x="61.7" y="331.95" font-size="5.8" fill="#262626" stroke="#262626" stroke-width="0.12">TaG17</text>
<text x="61.7" y="337.95" font-size="5.8" fill="#262626" stroke="#262626" stroke-width="0.12">TaG22</text>
<text x="61.7" y="343.94" font-size="5.8" fill="#262626" stroke="#262626" stroke-width="0.12">TaG3</text>
<text x="61.7" y="349.94" font-size="5.8" fill="#262626" stroke="#262626" stroke-width="0.12">TaG1</text>
<text x="61.7" y="355.93" font-size="5.8" fill="#262626" stroke="#262626" stroke-width="0.12">TaG5</text>
<text x="61.7" y="361.93" font-size="5.8" fill="#262626" stroke="#262626" stroke-width="0.12">TaG61</text>
<text x="61.7" y="367.93" font-size="5.8" fill="#262626" stroke="#262626" stroke-width="0.12">TaG53</text>
<text x="61.7" y="373.92" font-size="5.8" fill="#262626" stroke="#262626" stroke-width="0.12">TaG70</text>
<text x="61.7" y="379.92" font-size="5.8" fill="#262626" stroke="#262626" stroke-width="0.12">TaG52</text>
<text x="61.7" y="385.91" font-size="5.8" fill="#262626" stroke="#262626" stroke-width="0.12">TaG8</text>
<text x="61.7" y="391.91" font-size="5.8" fill="#262626" stroke="#262626" stroke-width="0.12">TaG12</text>
<text x="61.7" y="397.91" font-size="5.8" fill="#262626" stroke="#262626" stroke-width="0.12">TaG10</text>
<text x="61.7" y="403.90" font-size="5.8" fill="#262626" stroke="#262626" stroke-width="0.12">TaG36</text>
<text x="61.7" y="409.90" font-size="5.8" fill="#262626" stroke="#262626" stroke-width="0.12">TaG29</text>
<text x="61.7" y="415.89" font-size="5.8" fill="#262626" stroke="#262626" stroke-width="0.12">TaG32</text>
<text x="61.7" y="421.89" font-size="5.8" fill="#262626" stroke="#262626" stroke-width="0.12">TaG51</text>
<text x="61.7" y="427.89" font-size="5.8" fill="#262626" stroke="#262626" stroke-width="0.12">TaG35</text>
<text x="61.7" y="433.88" font-size="5.8" fill="#262626" stroke="#262626" stroke-width="0.12">TaG9</text>
<text x="61.7" y="439.88" font-size="5.8" fill="#262626" stroke="#262626" stroke-width="0.12">TaG38</text>
<text x="61.7" y="445.87" font-size="5.8" fill="#262626" stroke="#262626" stroke-width="0.12">TaG45</text>
<text x="61.7" y="451.87" font-size="5.8" fill="#262626" stroke="#262626" stroke-width="0.12">TaG41</text>
<text x="61.7" y="457.87" font-size="5.8" fill="#262626" stroke="#262626" stroke-width="0.12">TaG2</text>
<text x="61.7" y="463.86" font-size="5.8" fill="#262626" stroke="#262626" stroke-width="0.12">TaG6</text>
<text x="61.7" y="469.86" font-size="5.8" fill="#262626" stroke="#262626" stroke-width="0.12">TaG30</text>
<text x="61.7" y="475.85" font-size="5.8" fill="#262626" stroke="#262626" stroke-width="0.12">TaG28</text>
<text x="61.7" y="481.85" font-size="5.8" fill="#262626" stroke="#262626" stroke-width="0.12">TaG33</text>
<rect x="7.8" y="25.2" width="74.00" height="115.70" fill="#d9ebc3" fill-opacity="0.5"/>
<rect x="7.8" y="140.9" width="74.00" height="114.00" fill="#27bb6f" fill-opacity="0.5"/>
<rect x="7.8" y="254.9" width="74.00" height="48.10" fill="#31b7eb" fill-opacity="0.5"/>
<rect x="7.8" y="303.0" width="74.00" height="54.80" fill="#f5272d" fill-opacity="0.5"/>
<rect x="7.8" y="357.8" width="74.00" height="17.60" fill="#fbc92f" fill-opacity="0.5"/>
<rect x="6.4" y="375.4" width="75.40" height="106.10" fill="#8753b5" fill-opacity="0.5"/>
<rect x="82.80" y="79.00" width="4.90" height="1.0" fill="#111"/><rect x="82.80" y="86.70" width="4.90" height="1.0" fill="#111"/><rect x="84.50" y="79.00" width="1.50" height="8.70" fill="#111"/>
<text x="90.6" y="87.70" font-size="12.2" fill="#111" stroke="#111" stroke-width="0.15">a</text>
<rect x="83.30" y="188.50" width="4.90" height="1.0" fill="#111"/><rect x="83.30" y="196.20" width="4.90" height="1.0" fill="#111"/><rect x="85.00" y="188.50" width="1.50" height="8.70" fill="#111"/>
<text x="91.4" y="197.20" font-size="13.2" fill="#111" stroke="#111" stroke-width="0.15">b</text>
<rect x="83.10" y="272.20" width="8.80" height="1.0" fill="#111"/><rect x="83.10" y="279.90" width="8.80" height="1.0" fill="#111"/><rect x="84.20" y="272.20" width="2.00" height="8.70" fill="#111"/><rect x="88.60" y="272.20" width="2.00" height="8.70" fill="#111"/>
<text x="93.4" y="280.90" font-size="12.2" fill="#111" stroke="#111" stroke-width="0.15">a</text>
<rect x="83.50" y="324.40" width="8.80" height="1.0" fill="#111"/><rect x="83.50" y="332.10" width="8.80" height="1.0" fill="#111"/><rect x="84.60" y="324.40" width="2.00" height="8.70" fill="#111"/><rect x="89.00" y="324.40" width="2.00" height="8.70" fill="#111"/>
<text x="93.2" y="333.10" font-size="13.2" fill="#111" stroke="#111" stroke-width="0.15">b</text>
<rect x="83.40" y="363.00" width="9.50" height="1.0" fill="#111"/><rect x="83.40" y="370.70" width="9.50" height="1.0" fill="#111"/><rect x="84.20" y="363.00" width="1.75" height="8.70" fill="#111"/><rect x="87.30" y="363.00" width="1.65" height="8.70" fill="#111"/><rect x="90.30" y="363.00" width="1.65" height="8.70" fill="#111"/>
<text x="94.3" y="371.70" font-size="11.4" fill="#111" stroke="#111" stroke-width="0.15">a</text>
<rect x="84.30" y="428.00" width="9.50" height="1.0" fill="#111"/><rect x="84.30" y="435.70" width="9.50" height="1.0" fill="#111"/><rect x="85.10" y="428.00" width="1.75" height="8.70" fill="#111"/><rect x="88.20" y="428.00" width="1.65" height="8.70" fill="#111"/><rect x="91.20" y="428.00" width="1.65" height="8.70" fill="#111"/>
<text x="94.8" y="436.70" font-size="12.6" fill="#111" stroke="#111" stroke-width="0.15">b</text>
<rect x="112.50" y="29.25" width="103.90" height="1.5" fill="#b4b4b4"/>
<rect x="112.50" y="28.00" width="2.80" height="4.6" fill="#fff" stroke="#d3d6de" stroke-width="0.35"/>
<rect x="112.50" y="28.00" width="2.80" height="4.6" fill="url(#gG)"/>
<rect x="118.40" y="28.00" width="2.70" height="4.6" fill="#fff" stroke="#d3d6de" stroke-width="0.35"/>
<rect x="118.40" y="28.00" width="2.70" height="4.6" fill="url(#gY)"/>
<rect x="129.50" y="28.00" width="2.50" height="4.6" fill="#fff" stroke="#d3d6de" stroke-width="0.35"/>
<rect x="129.50" y="28.00" width="2.50" height="4.6" fill="url(#gY)"/>
<rect x="134.90" y="28.00" width="7.60" height="4.6" fill="#fff" stroke="#d3d6de" stroke-width="0.35"/>
<rect x="134.90" y="28.00" width="7.60" height="4.6" fill="url(#gY)"/>
<rect x="144.90" y="28.00" width="1.10" height="4.6" fill="#fff" stroke="#d3d6de" stroke-width="0.35"/>
<rect x="144.90" y="28.00" width="1.10" height="4.6" fill="url(#gY)"/>
<rect x="191.60" y="28.00" width="20.20" height="4.6" fill="#fff" stroke="#d3d6de" stroke-width="0.35"/>
<rect x="191.60" y="28.00" width="20.20" height="4.6" fill="url(#gY)"/>
<rect x="112.50" y="35.17" width="182.00" height="1.5" fill="#b4b4b4"/>
<rect x="112.50" y="33.92" width="12.80" height="4.6" fill="#fff" stroke="#d3d6de" stroke-width="0.35"/>
<rect x="112.50" y="33.92" width="12.80" height="4.6" fill="url(#gG)"/>
<rect x="125.30" y="33.92" width="2.70" height="4.6" fill="#fff" stroke="#d3d6de" stroke-width="0.35"/>
<rect x="125.30" y="33.92" width="2.70" height="4.6" fill="url(#gY)"/>
<rect x="138.00" y="33.92" width="2.70" height="4.6" fill="#fff" stroke="#d3d6de" stroke-width="0.35"/>
<rect x="138.00" y="33.92" width="2.70" height="4.6" fill="url(#gY)"/>
<rect x="143.80" y="33.92" width="7.50" height="4.6" fill="#fff" stroke="#d3d6de" stroke-width="0.35"/>
<rect x="143.80" y="33.92" width="7.50" height="4.6" fill="url(#gY)"/>
<rect x="153.50" y="33.92" width="1.50" height="4.6" fill="#fff" stroke="#d3d6de" stroke-width="0.35"/>
<rect x="153.50" y="33.92" width="1.50" height="4.6" fill="url(#gY)"/>
<rect x="272.70" y="33.92" width="21.80" height="4.6" fill="#fff" stroke="#d3d6de" stroke-width="0.35"/>
<rect x="272.70" y="33.92" width="21.80" height="4.6" fill="url(#gY)"/>
<rect x="112.50" y="41.10" width="89.30" height="1.5" fill="#b4b4b4"/>
<rect x="112.50" y="39.85" width="7.30" height="4.6" fill="#fff" stroke="#d3d6de" stroke-width="0.35"/>
<rect x="112.50" y="39.85" width="7.30" height="4.6" fill="url(#gG)"/>
<rect x="119.80" y="39.85" width="2.70" height="4.6" fill="#fff" stroke="#d3d6de" stroke-width="0.35"/>
<rect x="119.80" y="39.85" width="2.70" height="4.6" fill="url(#gY)"/>
<rect x="133.50" y="39.85" width="2.70" height="4.6" fill="#fff" stroke="#d3d6de" stroke-width="0.35"/>
<rect x="133.50" y="39.85" width="2.70" height="4.6" fill="url(#gY)"/>
<rect x="139.30" y="39.85" width="7.20" height="4.6" fill="#fff" stroke="#d3d6de" stroke-width="0.35"/>
<rect x="139.30" y="39.85" width="7.20" height="4.6" fill="url(#gY)"/>
<rect x="149.50" y="39.85" width="1.20" height="4.6" fill="#fff" stroke="#d3d6de" stroke-width="0.35"/>
<rect x="149.50" y="39.85" width="1.20" height="4.6" fill="url(#gY)"/>
<rect x="172.50" y="39.85" width="20.50" height="4.6" fill="#fff" stroke="#d3d6de" stroke-width="0.35"/>
<rect x="172.50" y="39.85" width="20.50" height="4.6" fill="url(#gY)"/>
<rect x="197.00" y="39.85" width="4.80" height="4.6" fill="#fff" stroke="#d3d6de" stroke-width="0.35"/>
<rect x="197.00" y="39.85" width="4.80" height="4.6" fill="url(#gG)"/>
<rect x="112.50" y="47.02" width="99.30" height="1.5" fill="#b4b4b4"/>
<rect x="112.50" y="45.77" width="13.70" height="4.6" fill="#fff" stroke="#d3d6de" stroke-width="0.35"/>
<rect x="112.50" y="45.77" width="13.70" height="4.6" fill="url(#gG)"/>
<rect x="126.20" y="45.77" width="3.60" height="4.6" fill="#fff" stroke="#d3d6de" stroke-width="0.35"/>
<rect x="126.20" y="45.77" width="3.60" height="4.6" fill="url(#gY)"/>
<rect x="138.00" y="45.77" width="2.70" height="4.6" fill="#fff" stroke="#d3d6de" stroke-width="0.35"/>
<rect x="138.00" y="45.77" width="2.70" height="4.6" fill="url(#gY)"/>
<rect x="143.00" y="45.77" width="7.70" height="4.6" fill="#fff" stroke="#d3d6de" stroke-width="0.35"/>
<rect x="143.00" y="45.77" width="7.70" height="4.6" fill="url(#gY)"/>
<rect x="153.00" y="45.77" width="1.50" height="4.6" fill="#fff" stroke="#d3d6de" stroke-width="0.35"/>
<rect x="153.00" y="45.77" width="1.50" height="4.6" fill="url(#gY)"/>
<rect x="178.00" y="45.77" width="21.80" height="4.6" fill="#fff" stroke="#d3d6de" stroke-width="0.35"/>
<rect x="178.00" y="45.77" width="21.80" height="4.6" fill="url(#gY)"/>
<rect x="202.70" y="45.77" width="1.30" height="4.6" fill="#fff" stroke="#d3d6de" stroke-width="0.35"/>
<rect x="202.70" y="45.77" width="1.30" height="4.6" fill="url(#gY)"/>
<rect x="204.00" y="45.77" width="7.80" height="4.6" fill="#fff" stroke="#d3d6de" stroke-width="0.35"/>
<rect x="204.00" y="45.77" width="7.80" height="4.6" fill="url(#gG)"/>
<rect x="112.50" y="52.95" width="102.00" height="1.5" fill="#b4b4b4"/>
<rect x="112.50" y="51.70" width="13.30" height="4.6" fill="#fff" stroke="#d3d6de" stroke-width="0.35"/>
<rect x="112.50" y="51.70" width="13.30" height="4.6" fill="url(#gG)"/>
<rect x="125.80" y="51.70" width="3.10" height="4.6" fill="#fff" stroke="#d3d6de" stroke-width="0.35"/>
<rect x="125.80" y="51.70" width="3.10" height="4.6" fill="url(#gY)"/>
<rect x="138.90" y="51.70" width="2.70" height="4.6" fill="#fff" stroke="#d3d6de" stroke-width="0.35"/>
<rect x="138.90" y="51.70" width="2.70" height="4.6" fill="url(#gY)"/>
<rect x="144.40" y="51.70" width="7.80" height="4.6" fill="#fff" stroke="#d3d6de" stroke-width="0.35"/>
<rect x="144.40" y="51.70" width="7.80" height="4.6" fill="url(#gY)"/>
<rect x="154.90" y="51.70" width="1.30" height="4.6" fill="#fff" stroke="#d3d6de" stroke-width="0.35"/>
<rect x="154.90" y="51.70" width="1.30" height="4.6" fill="url(#gY)"/>
<rect x="184.40" y="51.70" width="22.00" height="4.6" fill="#fff" stroke="#d3d6de" stroke-width="0.35"/>
<rect x="184.40" y="51.70" width="22.00" height="4.6" fill="url(#gY)"/>
<rect x="209.10" y="51.70" width="1.40" height="4.6" fill="#fff" stroke="#d3d6de" stroke-width="0.35"/>
<rect x="209.10" y="51.70" width="1.40" height="4.6" fill="url(#gY)"/>
<rect x="210.50" y="51.70" width="4.00" height="4.6" fill="#fff" stroke="#d3d6de" stroke-width="0.35"/>
<rect x="210.50" y="51.70" width="4.00" height="4.6" fill="url(#gG)"/>
<rect x="112.50" y="58.87" width="95.10" height="1.5" fill="#b4b4b4"/>
<rect x="112.50" y="57.62" width="13.70" height="4.6" fill="#fff" stroke="#d3d6de" stroke-width="0.35"/>
<rect x="112.50" y="57.62" width="13.70" height="4.6" fill="url(#gG)"/>
<rect x="126.20" y="57.62" width="3.60" height="4.6" fill="#fff" stroke="#d3d6de" stroke-width="0.35"/>
<rect x="126.20" y="57.62" width="3.60" height="4.6" fill="url(#gY)"/>
<rect x="138.00" y="57.62" width="2.70" height="4.6" fill="#fff" stroke="#d3d6de" stroke-width="0.35"/>
<rect x="138.00" y="57.62" width="2.70" height="4.6" fill="url(#gY)"/>
<rect x="143.80" y="57.62" width="7.80" height="4.6" fill="#fff" stroke="#d3d6de" stroke-width="0.35"/>
<rect x="143.80" y="57.62" width="7.80" height="4.6" fill="url(#gY)"/>
<rect x="154.40" y="57.62" width="1.20" height="4.6" fill="#fff" stroke="#d3d6de" stroke-width="0.35"/>
<rect x="154.40" y="57.62" width="1.20" height="4.6" fill="url(#gY)"/>
<rect x="177.10" y="57.62" width="21.80" height="4.6" fill="#fff" stroke="#d3d6de" stroke-width="0.35"/>
<rect x="177.10" y="57.62" width="21.80" height="4.6" fill="url(#gY)"/>
<rect x="202.70" y="57.62" width="0.90" height="4.6" fill="#fff" stroke="#d3d6de" stroke-width="0.35"/>
<rect x="202.70" y="57.62" width="0.90" height="4.6" fill="url(#gY)"/>
<rect x="203.60" y="57.62" width="4.00" height="4.6" fill="#fff" stroke="#d3d6de" stroke-width="0.35"/>
<rect x="203.60" y="57.62" width="4.00" height="4.6" fill="url(#gG)"/>
<rect x="112.50" y="64.79" width="80.00" height="1.5" fill="#b4b4b4"/>
<rect x="112.50" y="63.54" width="3.70" height="4.6" fill="#fff" stroke="#d3d6de" stroke-width="0.35"/>
<rect x="112.50" y="63.54" width="3.70" height="4.6" fill="url(#gG)"/>
<rect x="116.20" y="63.54" width="3.10" height="4.6" fill="#fff" stroke="#d3d6de" stroke-width="0.35"/>
<rect x="116.20" y="63.54" width="3.10" height="4.6" fill="url(#gY)"/>
<rect x="126.70" y="63.54" width="2.80" height="4.6" fill="#fff" stroke="#d3d6de" stroke-width="0.35"/>
<rect x="126.70" y="63.54" width="2.80" height="4.6" fill="url(#gY)"/>
<rect x="132.20" y="63.54" width="7.30" height="4.6" fill="#fff" stroke="#d3d6de" stroke-width="0.35"/>
<rect x="132.20" y="63.54" width="7.30" height="4.6" fill="url(#gY)"/>
<rect x="142.20" y="63.54" width="0.90" height="4.6" fill="#fff" stroke="#d3d6de" stroke-width="0.35"/>
<rect x="142.20" y="63.54" width="0.90" height="4.6" fill="url(#gY)"/>
<rect x="165.30" y="63.54" width="19.10" height="4.6" fill="#fff" stroke="#d3d6de" stroke-width="0.35"/>
<rect x="165.30" y="63.54" width="19.10" height="4.6" fill="url(#gY)"/>
<rect x="188.00" y="63.54" width="4.50" height="4.6" fill="#fff" stroke="#d3d6de" stroke-width="0.35"/>
<rect x="188.00" y="63.54" width="4.50" height="4.6" fill="url(#gG)"/>
<rect x="112.50" y="70.72" width="95.70" height="1.5" fill="#b4b4b4"/>
<rect x="112.50" y="69.47" width="15.10" height="4.6" fill="#fff" stroke="#d3d6de" stroke-width="0.35"/>
<rect x="112.50" y="69.47" width="15.10" height="4.6" fill="url(#gG)"/>
<rect x="127.60" y="69.47" width="2.60" height="4.6" fill="#fff" stroke="#d3d6de" stroke-width="0.35"/>
<rect x="127.60" y="69.47" width="2.60" height="4.6" fill="url(#gY)"/>
<rect x="139.80" y="69.47" width="2.70" height="4.6" fill="#fff" stroke="#d3d6de" stroke-width="0.35"/>
<rect x="139.80" y="69.47" width="2.70" height="4.6" fill="url(#gY)"/>
<rect x="146.70" y="69.47" width="8.20" height="4.6" fill="#fff" stroke="#d3d6de" stroke-width="0.35"/>
<rect x="146.70" y="69.47" width="8.20" height="4.6" fill="url(#gY)"/>
<rect x="157.10" y="69.47" width="1.10" height="4.6" fill="#fff" stroke="#d3d6de" stroke-width="0.35"/>
<rect x="157.10" y="69.47" width="1.10" height="4.6" fill="url(#gY)"/>
<rect x="170.70" y="69.47" width="22.80" height="4.6" fill="#fff" stroke="#d3d6de" stroke-width="0.35"/>
<rect x="170.70" y="69.47" width="22.80" height="4.6" fill="url(#gY)"/>
<rect x="198.90" y="69.47" width="0.90" height="4.6" fill="#fff" stroke="#d3d6de" stroke-width="0.35"/>
<rect x="198.90" y="69.47" width="0.90" height="4.6" fill="url(#gY)"/>
<rect x="199.80" y="69.47" width="8.40" height="4.6" fill="#fff" stroke="#d3d6de" stroke-width="0.35"/>
<rect x="199.80" y="69.47" width="8.40" height="4.6" fill="url(#gG)"/>
<rect x="112.50" y="76.64" width="94.80" height="1.5" fill="#b4b4b4"/>
<rect x="112.50" y="75.39" width="14.60" height="4.6" fill="#fff" stroke="#d3d6de" stroke-width="0.35"/>
<rect x="112.50" y="75.39" width="14.60" height="4.6" fill="url(#gG)"/>
<rect x="127.10" y="75.39" width="2.70" height="4.6" fill="#fff" stroke="#d3d6de" stroke-width="0.35"/>
<rect x="127.10" y="75.39" width="2.70" height="4.6" fill="url(#gY)"/>
<rect x="139.30" y="75.39" width="2.90" height="4.6" fill="#fff" stroke="#d3d6de" stroke-width="0.35"/>
<rect x="139.30" y="75.39" width="2.90" height="4.6" fill="url(#gY)"/>
<rect x="146.50" y="75.39" width="7.90" height="4.6" fill="#fff" stroke="#d3d6de" stroke-width="0.35"/>
<rect x="146.50" y="75.39" width="7.90" height="4.6" fill="url(#gY)"/>
<rect x="156.70" y="75.39" width="0.90" height="4.6" fill="#fff" stroke="#d3d6de" stroke-width="0.35"/>
<rect x="156.70" y="75.39" width="0.90" height="4.6" fill="url(#gY)"/>
<rect x="170.40" y="75.39" width="23.10" height="4.6" fill="#fff" stroke="#d3d6de" stroke-width="0.35"/>
<rect x="170.40" y="75.39" width="23.10" height="4.6" fill="url(#gY)"/>
<rect x="197.60" y="75.39" width="1.30" height="4.6" fill="#fff" stroke="#d3d6de" stroke-width="0.35"/>
<rect x="197.60" y="75.39" width="1.30" height="4.6" fill="url(#gY)"/>
<rect x="198.90" y="75.39" width="8.40" height="4.6" fill="#fff" stroke="#d3d6de" stroke-width="0.35"/>
<rect x="198.90" y="75.39" width="8.40" height="4.6" fill="url(#gG)"/>
<rect x="112.50" y="82.57" width="112.60" height="1.5" fill="#b4b4b4"/>
<rect x="112.50" y="81.32" width="15.10" height="4.6" fill="#fff" stroke="#d3d6de" stroke-width="0.35"/>
<rect x="112.50" y="81.32" width="15.10" height="4.6" fill="url(#gG)"/>
<rect x="127.60" y="81.32" width="2.20" height="4.6" fill="#fff" stroke="#d3d6de" stroke-width="0.35"/>
<rect x="127.60" y="81.32" width="2.20" height="4.6" fill="url(#gY)"/>
<rect x="156.70" y="81.32" width="2.80" height="4.6" fill="#fff" stroke="#d3d6de" stroke-width="0.35"/>
<rect x="156.70" y="81.32" width="2.80" height="4.6" fill="url(#gY)"/>
<rect x="164.00" y="81.32" width="7.60" height="4.6" fill="#fff" stroke="#d3d6de" stroke-width="0.35"/>
<rect x="164.00" y="81.32" width="7.60" height="4.6" fill="url(#gY)"/>
<rect x="174.00" y="81.32" width="1.30" height="4.6" fill="#fff" stroke="#d3d6de" stroke-width="0.35"/>
<rect x="174.00" y="81.32" width="1.30" height="4.6" fill="url(#gY)"/>
<rect x="188.00" y="81.32" width="23.30" height="4.6" fill="#fff" stroke="#d3d6de" stroke-width="0.35"/>
<rect x="188.00" y="81.32" width="23.30" height="4.6" fill="url(#gY)"/>
<rect x="215.50" y="81.32" width="0.90" height="4.6" fill="#fff" stroke="#d3d6de" stroke-width="0.35"/>
<rect x="215.50" y="81.32" width="0.90" height="4.6" fill="url(#gY)"/>
<rect x="216.40" y="81.32" width="8.70" height="4.6" fill="#fff" stroke="#d3d6de" stroke-width="0.35"/>
<rect x="216.40" y="81.32" width="8.70" height="4.6" fill="url(#gG)"/>
<rect x="112.50" y="88.49" width="121.70" height="1.5" fill="#b4b4b4"/>
<rect x="112.50" y="87.24" width="6.80" height="4.6" fill="#fff" stroke="#d3d6de" stroke-width="0.35"/>
<rect x="112.50" y="87.24" width="6.80" height="4.6" fill="url(#gG)"/>
<rect x="119.30" y="87.24" width="2.30" height="4.6" fill="#fff" stroke="#d3d6de" stroke-width="0.35"/>
<rect x="119.30" y="87.24" width="2.30" height="4.6" fill="url(#gY)"/>
<rect x="168.00" y="87.24" width="2.70" height="4.6" fill="#fff" stroke="#d3d6de" stroke-width="0.35"/>
<rect x="168.00" y="87.24" width="2.70" height="4.6" fill="url(#gY)"/>
<rect x="173.00" y="87.24" width="7.70" height="4.6" fill="#fff" stroke="#d3d6de" stroke-width="0.35"/>
<rect x="173.00" y="87.24" width="7.70" height="4.6" fill="url(#gY)"/>
<rect x="185.30" y="87.24" width="1.20" height="4.6" fill="#fff" stroke="#d3d6de" stroke-width="0.35"/>
<rect x="185.30" y="87.24" width="1.20" height="4.6" fill="url(#gY)"/>
<rect x="198.90" y="87.24" width="26.20" height="4.6" fill="#fff" stroke="#d3d6de" stroke-width="0.35"/>
<rect x="198.90" y="87.24" width="26.20" height="4.6" fill="url(#gY)"/>
<rect x="232.40" y="87.24" width="1.80" height="4.6" fill="#fff" stroke="#d3d6de" stroke-width="0.35"/>
<rect x="232.40" y="87.24" width="1.80" height="4.6" fill="url(#gG)"/>
<rect x="113.00" y="94.41" width="122.50" height="1.5" fill="#b4b4b4"/>
<rect x="113.00" y="93.16" width="2.30" height="4.6" fill="#fff" stroke="#d3d6de" stroke-width="0.35"/>
<rect x="113.00" y="93.16" width="2.30" height="4.6" fill="url(#gY)"/>
<rect x="160.70" y="93.16" width="2.80" height="4.6" fill="#fff" stroke="#d3d6de" stroke-width="0.35"/>
<rect x="160.70" y="93.16" width="2.80" height="4.6" fill="url(#gY)"/>
<rect x="166.20" y="93.16" width="7.30" height="4.6" fill="#fff" stroke="#d3d6de" stroke-width="0.35"/>
<rect x="166.20" y="93.16" width="7.30" height="4.6" fill="url(#gY)"/>
<rect x="179.50" y="93.16" width="1.20" height="4.6" fill="#fff" stroke="#d3d6de" stroke-width="0.35"/>
<rect x="179.50" y="93.16" width="1.20" height="4.6" fill="url(#gY)"/>
<rect x="198.40" y="93.16" width="26.10" height="4.6" fill="#fff" stroke="#d3d6de" stroke-width="0.35"/>
<rect x="198.40" y="93.16" width="26.10" height="4.6" fill="url(#gY)"/>
<rect x="232.70" y="93.16" width="2.80" height="4.6" fill="#fff" stroke="#d3d6de" stroke-width="0.35"/>
<rect x="232.70" y="93.16" width="2.80" height="4.6" fill="url(#gG)"/>
<rect x="112.50" y="100.34" width="131.10" height="1.5" fill="#b4b4b4"/>
<rect x="112.50" y="99.09" width="5.50" height="4.6" fill="#fff" stroke="#d3d6de" stroke-width="0.35"/>
<rect x="112.50" y="99.09" width="5.50" height="4.6" fill="url(#gG)"/>
<rect x="118.00" y="99.09" width="1.80" height="4.6" fill="#fff" stroke="#d3d6de" stroke-width="0.35"/>
<rect x="118.00" y="99.09" width="1.80" height="4.6" fill="url(#gY)"/>
<rect x="165.60" y="99.09" width="2.40" height="4.6" fill="#fff" stroke="#d3d6de" stroke-width="0.35"/>
<rect x="165.60" y="99.09" width="2.40" height="4.6" fill="url(#gY)"/>
<rect x="170.70" y="99.09" width="7.80" height="4.6" fill="#fff" stroke="#d3d6de" stroke-width="0.35"/>
<rect x="170.70" y="99.09" width="7.80" height="4.6" fill="url(#gY)"/>
<rect x="182.50" y="99.09" width="1.30" height="4.6" fill="#fff" stroke="#d3d6de" stroke-width="0.35"/>
<rect x="182.50" y="99.09" width="1.30" height="4.6" fill="url(#gY)"/>
<rect x="201.50" y="99.09" width="25.80" height="4.6" fill="#fff" stroke="#d3d6de" stroke-width="0.35"/>
<rect x="201.50" y="99.09" width="25.80" height="4.6" fill="url(#gY)"/>
<rect x="234.20" y="99.09" width="9.40" height="4.6" fill="#fff" stroke="#d3d6de" stroke-width="0.35"/>
<rect x="234.20" y="99.09" width="9.40" height="4.6" fill="url(#gG)"/>
<rect x="112.50" y="106.26" width="81.50" height="1.5" fill="#b4b4b4"/>
<rect x="112.50" y="105.01" width="2.80" height="4.6" fill="#fff" stroke="#d3d6de" stroke-width="0.35"/>
<rect x="112.50" y="105.01" width="2.80" height="4.6" fill="url(#gG)"/>
<rect x="115.30" y="105.01" width="1.70" height="4.6" fill="#fff" stroke="#d3d6de" stroke-width="0.35"/>
<rect x="115.30" y="105.01" width="1.70" height="4.6" fill="url(#gY)"/>
<rect x="137.00" y="105.01" width="2.80" height="4.6" fill="#fff" stroke="#d3d6de" stroke-width="0.35"/>
<rect x="137.00" y="105.01" width="2.80" height="4.6" fill="url(#gY)"/>
<rect x="142.50" y="105.01" width="7.30" height="4.6" fill="#fff" stroke="#d3d6de" stroke-width="0.35"/>
<rect x="142.50" y="105.01" width="7.30" height="4.6" fill="url(#gY)"/>
<rect x="152.20" y="105.01" width="1.30" height="4.6" fill="#fff" stroke="#d3d6de" stroke-width="0.35"/>
<rect x="152.20" y="105.01" width="1.30" height="4.6" fill="url(#gY)"/>
<rect x="168.00" y="105.01" width="20.90" height="4.6" fill="#fff" stroke="#d3d6de" stroke-width="0.35"/>
<rect x="168.00" y="105.01" width="20.90" height="4.6" fill="url(#gY)"/>
<rect x="188.90" y="105.01" width="5.10" height="4.6" fill="#fff" stroke="#d3d6de" stroke-width="0.35"/>
<rect x="188.90" y="105.01" width="5.10" height="4.6" fill="url(#gG)"/>
<rect x="112.50" y="112.19" width="81.00" height="1.5" fill="#b4b4b4"/>
<rect x="112.50" y="110.94" width="2.80" height="4.6" fill="#fff" stroke="#d3d6de" stroke-width="0.35"/>
<rect x="112.50" y="110.94" width="2.80" height="4.6" fill="url(#gG)"/>
<rect x="115.30" y="110.94" width="1.70" height="4.6" fill="#fff" stroke="#d3d6de" stroke-width="0.35"/>
<rect x="115.30" y="110.94" width="1.70" height="4.6" fill="url(#gY)"/>
<rect x="137.00" y="110.94" width="2.80" height="4.6" fill="#fff" stroke="#d3d6de" stroke-width="0.35"/>
<rect x="137.00" y="110.94" width="2.80" height="4.6" fill="url(#gY)"/>
<rect x="142.50" y="110.94" width="7.30" height="4.6" fill="#fff" stroke="#d3d6de" stroke-width="0.35"/>
<rect x="142.50" y="110.94" width="7.30" height="4.6" fill="url(#gY)"/>
<rect x="152.20" y="110.94" width="1.30" height="4.6" fill="#fff" stroke="#d3d6de" stroke-width="0.35"/>
<rect x="152.20" y="110.94" width="1.30" height="4.6" fill="url(#gY)"/>
<rect x="168.00" y="110.94" width="20.90" height="4.6" fill="#fff" stroke="#d3d6de" stroke-width="0.35"/>
<rect x="168.00" y="110.94" width="20.90" height="4.6" fill="url(#gY)"/>
<rect x="188.90" y="110.94" width="4.60" height="4.6" fill="#fff" stroke="#d3d6de" stroke-width="0.35"/>
<rect x="188.90" y="110.94" width="4.60" height="4.6" fill="url(#gG)"/>
<rect x="112.50" y="118.11" width="92.00" height="1.5" fill="#b4b4b4"/>
<rect x="112.50" y="116.86" width="2.80" height="4.6" fill="#fff" stroke="#d3d6de" stroke-width="0.35"/>
<rect x="112.50" y="116.86" width="2.80" height="4.6" fill="url(#gG)"/>
<rect x="115.30" y="116.86" width="4.00" height="4.6" fill="#fff" stroke="#d3d6de" stroke-width="0.35"/>
<rect x="115.30" y="116.86" width="4.00" height="4.6" fill="url(#gY)"/>
<rect x="137.00" y="116.86" width="2.80" height="4.6" fill="#fff" stroke="#d3d6de" stroke-width="0.35"/>
<rect x="137.00" y="116.86" width="2.80" height="4.6" fill="url(#gY)"/>
<rect x="142.50" y="116.86" width="7.30" height="4.6" fill="#fff" stroke="#d3d6de" stroke-width="0.35"/>
<rect x="142.50" y="116.86" width="7.30" height="4.6" fill="url(#gY)"/>
<rect x="152.50" y="116.86" width="1.30" height="4.6" fill="#fff" stroke="#d3d6de" stroke-width="0.35"/>
<rect x="152.50" y="116.86" width="1.30" height="4.6" fill="url(#gY)"/>
<rect x="168.90" y="116.86" width="20.90" height="4.6" fill="#fff" stroke="#d3d6de" stroke-width="0.35"/>
<rect x="168.90" y="116.86" width="20.90" height="4.6" fill="url(#gY)"/>
<rect x="196.20" y="116.86" width="8.30" height="4.6" fill="#fff" stroke="#d3d6de" stroke-width="0.35"/>
<rect x="196.20" y="116.86" width="8.30" height="4.6" fill="url(#gG)"/>
<rect x="112.50" y="124.03" width="105.10" height="1.5" fill="#b4b4b4"/>
<rect x="112.50" y="122.78" width="7.30" height="4.6" fill="#fff" stroke="#d3d6de" stroke-width="0.35"/>
<rect x="112.50" y="122.78" width="7.30" height="4.6" fill="url(#gG)"/>
<rect x="119.80" y="122.78" width="2.70" height="4.6" fill="#fff" stroke="#d3d6de" stroke-width="0.35"/>
<rect x="119.80" y="122.78" width="2.70" height="4.6" fill="url(#gY)"/>
<rect x="137.00" y="122.78" width="2.80" height="4.6" fill="#fff" stroke="#d3d6de" stroke-width="0.35"/>
<rect x="137.00" y="122.78" width="2.80" height="4.6" fill="url(#gY)"/>
<rect x="152.50" y="122.78" width="8.20" height="4.6" fill="#fff" stroke="#d3d6de" stroke-width="0.35"/>
<rect x="152.50" y="122.78" width="8.20" height="4.6" fill="url(#gY)"/>
<rect x="162.50" y="122.78" width="1.50" height="4.6" fill="#fff" stroke="#d3d6de" stroke-width="0.35"/>
<rect x="162.50" y="122.78" width="1.50" height="4.6" fill="url(#gY)"/>
<rect x="178.00" y="122.78" width="32.00" height="4.6" fill="#fff" stroke="#d3d6de" stroke-width="0.35"/>
<rect x="178.00" y="122.78" width="32.00" height="4.6" fill="url(#gY)"/>
<rect x="210.00" y="122.78" width="7.60" height="4.6" fill="#fff" stroke="#d3d6de" stroke-width="0.35"/>
<rect x="210.00" y="122.78" width="7.60" height="4.6" fill="url(#gG)"/>
<rect x="112.50" y="129.96" width="109.00" height="1.5" fill="#b4b4b4"/>
<rect x="112.50" y="128.71" width="7.30" height="4.6" fill="#fff" stroke="#d3d6de" stroke-width="0.35"/>
<rect x="112.50" y="128.71" width="7.30" height="4.6" fill="url(#gG)"/>
<rect x="119.80" y="128.71" width="2.70" height="4.6" fill="#fff" stroke="#d3d6de" stroke-width="0.35"/>
<rect x="119.80" y="128.71" width="2.70" height="4.6" fill="url(#gY)"/>
<rect x="140.40" y="128.71" width="2.10" height="4.6" fill="#fff" stroke="#d3d6de" stroke-width="0.35"/>
<rect x="140.40" y="128.71" width="2.10" height="4.6" fill="url(#gY)"/>
<rect x="156.20" y="128.71" width="7.80" height="4.6" fill="#fff" stroke="#d3d6de" stroke-width="0.35"/>
<rect x="156.20" y="128.71" width="7.80" height="4.6" fill="url(#gY)"/>
<rect x="166.20" y="128.71" width="1.30" height="4.6" fill="#fff" stroke="#d3d6de" stroke-width="0.35"/>
<rect x="166.20" y="128.71" width="1.30" height="4.6" fill="url(#gY)"/>
<rect x="180.70" y="128.71" width="20.90" height="4.6" fill="#fff" stroke="#d3d6de" stroke-width="0.35"/>
<rect x="180.70" y="128.71" width="20.90" height="4.6" fill="url(#gY)"/>
<rect x="213.10" y="128.71" width="1.10" height="4.6" fill="#fff" stroke="#d3d6de" stroke-width="0.35"/>
<rect x="213.10" y="128.71" width="1.10" height="4.6" fill="url(#gY)"/>
<rect x="214.20" y="128.71" width="7.30" height="4.6" fill="#fff" stroke="#d3d6de" stroke-width="0.35"/>
<rect x="214.20" y="128.71" width="7.30" height="4.6" fill="url(#gG)"/>
<rect x="112.50" y="135.88" width="107.00" height="1.5" fill="#b4b4b4"/>
<rect x="112.50" y="134.63" width="7.30" height="4.6" fill="#fff" stroke="#d3d6de" stroke-width="0.35"/>
<rect x="112.50" y="134.63" width="7.30" height="4.6" fill="url(#gG)"/>
<rect x="119.80" y="134.63" width="2.70" height="4.6" fill="#fff" stroke="#d3d6de" stroke-width="0.35"/>
<rect x="119.80" y="134.63" width="2.70" height="4.6" fill="url(#gY)"/>
<rect x="140.40" y="134.63" width="2.10" height="4.6" fill="#fff" stroke="#d3d6de" stroke-width="0.35"/>
<rect x="140.40" y="134.63" width="2.10" height="4.6" fill="url(#gY)"/>
<rect x="156.20" y="134.63" width="7.80" height="4.6" fill="#fff" stroke="#d3d6de" stroke-width="0.35"/>
<rect x="156.20" y="134.63" width="7.80" height="4.6" fill="url(#gY)"/>
<rect x="166.20" y="134.63" width="1.30" height="4.6" fill="#fff" stroke="#d3d6de" stroke-width="0.35"/>
<rect x="166.20" y="134.63" width="1.30" height="4.6" fill="url(#gY)"/>
<rect x="178.90" y="134.63" width="21.10" height="4.6" fill="#fff" stroke="#d3d6de" stroke-width="0.35"/>
<rect x="178.90" y="134.63" width="21.10" height="4.6" fill="url(#gY)"/>
<rect x="210.90" y="134.63" width="0.90" height="4.6" fill="#fff" stroke="#d3d6de" stroke-width="0.35"/>
<rect x="210.90" y="134.63" width="0.90" height="4.6" fill="url(#gY)"/>
<rect x="211.80" y="134.63" width="7.70" height="4.6" fill="#fff" stroke="#d3d6de" stroke-width="0.35"/>
<rect x="211.80" y="134.63" width="7.70" height="4.6" fill="url(#gG)"/>
<rect x="112.50" y="141.81" width="71.90" height="1.5" fill="#b4b4b4"/>
<rect x="112.50" y="140.56" width="1.90" height="4.6" fill="#fff" stroke="#d3d6de" stroke-width="0.35"/>
<rect x="112.50" y="140.56" width="1.90" height="4.6" fill="url(#gG)"/>
<rect x="116.20" y="140.56" width="2.70" height="4.6" fill="#fff" stroke="#d3d6de" stroke-width="0.35"/>
<rect x="116.20" y="140.56" width="2.70" height="4.6" fill="url(#gY)"/>
<rect x="121.60" y="140.56" width="2.40" height="4.6" fill="#fff" stroke="#d3d6de" stroke-width="0.35"/>
<rect x="121.60" y="140.56" width="2.40" height="4.6" fill="url(#gY)"/>
<rect x="138.90" y="140.56" width="6.90" height="4.6" fill="#fff" stroke="#d3d6de" stroke-width="0.35"/>
<rect x="138.90" y="140.56" width="6.90" height="4.6" fill="url(#gY)"/>
<rect x="148.00" y="140.56" width="1.50" height="4.6" fill="#fff" stroke="#d3d6de" stroke-width="0.35"/>
<rect x="148.00" y="140.56" width="1.50" height="4.6" fill="url(#gY)"/>
<rect x="156.20" y="140.56" width="10.00" height="4.6" fill="#fff" stroke="#d3d6de" stroke-width="0.35"/>
<rect x="156.20" y="140.56" width="10.00" height="4.6" fill="url(#gY)"/>
<rect x="168.00" y="140.56" width="9.10" height="4.6" fill="#fff" stroke="#d3d6de" stroke-width="0.35"/>
<rect x="168.00" y="140.56" width="9.10" height="4.6" fill="url(#gY)"/>
<rect x="179.80" y="140.56" width="4.60" height="4.6" fill="#fff" stroke="#d3d6de" stroke-width="0.35"/>
<rect x="179.80" y="140.56" width="4.60" height="4.6" fill="url(#gG)"/>
<rect x="112.50" y="147.73" width="46.00" height="1.5" fill="#b4b4b4"/>
<rect x="112.50" y="146.48" width="1.90" height="4.6" fill="#fff" stroke="#d3d6de" stroke-width="0.35"/>
<rect x="112.50" y="146.48" width="1.90" height="4.6" fill="url(#gG)"/>
<rect x="115.30" y="146.48" width="2.70" height="4.6" fill="#fff" stroke="#d3d6de" stroke-width="0.35"/>
<rect x="115.30" y="146.48" width="2.70" height="4.6" fill="url(#gY)"/>
<rect x="120.70" y="146.48" width="2.20" height="4.6" fill="#fff" stroke="#d3d6de" stroke-width="0.35"/>
<rect x="120.70" y="146.48" width="2.20" height="4.6" fill="url(#gY)"/>
<rect x="138.00" y="146.48" width="6.90" height="4.6" fill="#fff" stroke="#d3d6de" stroke-width="0.35"/>
<rect x="138.00" y="146.48" width="6.90" height="4.6" fill="url(#gY)"/>
<rect x="147.10" y="146.48" width="1.30" height="4.6" fill="#fff" stroke="#d3d6de" stroke-width="0.35"/>
<rect x="147.10" y="146.48" width="1.30" height="4.6" fill="url(#gY)"/>
<rect x="148.90" y="146.48" width="9.60" height="4.6" fill="#fff" stroke="#d3d6de" stroke-width="0.35"/>
<rect x="148.90" y="146.48" width="9.60" height="4.6" fill="url(#gG)"/>
<rect x="113.00" y="153.65" width="84.60" height="1.5" fill="#b4b4b4"/>
<rect x="113.00" y="152.40" width="2.30" height="4.6" fill="#fff" stroke="#d3d6de" stroke-width="0.35"/>
<rect x="113.00" y="152.40" width="2.30" height="4.6" fill="url(#gY)"/>
<rect x="118.90" y="152.40" width="2.70" height="4.6" fill="#fff" stroke="#d3d6de" stroke-width="0.35"/>
<rect x="118.90" y="152.40" width="2.70" height="4.6" fill="url(#gY)"/>
<rect x="158.00" y="152.40" width="6.40" height="4.6" fill="#fff" stroke="#d3d6de" stroke-width="0.35"/>
<rect x="158.00" y="152.40" width="6.40" height="4.6" fill="url(#gY)"/>
<rect x="167.10" y="152.40" width="0.90" height="4.6" fill="#fff" stroke="#d3d6de" stroke-width="0.35"/>
<rect x="167.10" y="152.40" width="0.90" height="4.6" fill="url(#gY)"/>
<rect x="174.40" y="152.40" width="15.40" height="4.6" fill="#fff" stroke="#d3d6de" stroke-width="0.35"/>
<rect x="174.40" y="152.40" width="15.40" height="4.6" fill="url(#gY)"/>
<rect x="191.60" y="152.40" width="6.00" height="4.6" fill="#fff" stroke="#d3d6de" stroke-width="0.35"/>
<rect x="191.60" y="152.40" width="6.00" height="4.6" fill="url(#gG)"/>
<rect x="112.50" y="159.58" width="85.10" height="1.5" fill="#b4b4b4"/>
<rect x="112.50" y="158.33" width="1.90" height="4.6" fill="#fff" stroke="#d3d6de" stroke-width="0.35"/>
<rect x="112.50" y="158.33" width="1.90" height="4.6" fill="url(#gG)"/>
<rect x="116.20" y="158.33" width="2.70" height="4.6" fill="#fff" stroke="#d3d6de" stroke-width="0.35"/>
<rect x="116.20" y="158.33" width="2.70" height="4.6" fill="url(#gY)"/>
<rect x="122.20" y="158.33" width="2.50" height="4.6" fill="#fff" stroke="#d3d6de" stroke-width="0.35"/>
<rect x="122.20" y="158.33" width="2.50" height="4.6" fill="url(#gY)"/>
<rect x="159.50" y="158.33" width="6.70" height="4.6" fill="#fff" stroke="#d3d6de" stroke-width="0.35"/>
<rect x="159.50" y="158.33" width="6.70" height="4.6" fill="url(#gY)"/>
<rect x="168.00" y="158.33" width="1.30" height="4.6" fill="#fff" stroke="#d3d6de" stroke-width="0.35"/>
<rect x="168.00" y="158.33" width="1.30" height="4.6" fill="url(#gY)"/>
<rect x="175.30" y="158.33" width="16.30" height="4.6" fill="#fff" stroke="#d3d6de" stroke-width="0.35"/>
<rect x="175.30" y="158.33" width="16.30" height="4.6" fill="url(#gY)"/>
<rect x="193.50" y="158.33" width="4.10" height="4.6" fill="#fff" stroke="#d3d6de" stroke-width="0.35"/>
<rect x="193.50" y="158.33" width="4.10" height="4.6" fill="url(#gG)"/>
<rect x="112.50" y="165.50" width="77.30" height="1.5" fill="#b4b4b4"/>
<rect x="112.50" y="164.25" width="2.80" height="4.6" fill="#fff" stroke="#d3d6de" stroke-width="0.35"/>
<rect x="112.50" y="164.25" width="2.80" height="4.6" fill="url(#gY)"/>
<rect x="118.00" y="164.25" width="2.70" height="4.6" fill="#fff" stroke="#d3d6de" stroke-width="0.35"/>
<rect x="118.00" y="164.25" width="2.70" height="4.6" fill="url(#gY)"/>
<rect x="156.20" y="164.25" width="6.30" height="4.6" fill="#fff" stroke="#d3d6de" stroke-width="0.35"/>
<rect x="156.20" y="164.25" width="6.30" height="4.6" fill="url(#gY)"/>
<rect x="165.30" y="164.25" width="0.90" height="4.6" fill="#fff" stroke="#d3d6de" stroke-width="0.35"/>
<rect x="165.30" y="164.25" width="0.90" height="4.6" fill="url(#gY)"/>
<rect x="173.00" y="164.25" width="14.60" height="4.6" fill="#fff" stroke="#d3d6de" stroke-width="0.35"/>
<rect x="173.00" y="164.25" width="14.60" height="4.6" fill="url(#gY)"/>
<rect x="112.50" y="171.43" width="87.30" height="1.5" fill="#b4b4b4"/>
<rect x="112.50" y="170.18" width="1.00" height="4.6" fill="#fff" stroke="#d3d6de" stroke-width="0.35"/>
<rect x="112.50" y="170.18" width="1.00" height="4.6" fill="url(#gG)"/>
<rect x="116.20" y="170.18" width="2.70" height="4.6" fill="#fff" stroke="#d3d6de" stroke-width="0.35"/>
<rect x="116.20" y="170.18" width="2.70" height="4.6" fill="url(#gY)"/>
<rect x="121.60" y="170.18" width="2.80" height="4.6" fill="#fff" stroke="#d3d6de" stroke-width="0.35"/>
<rect x="121.60" y="170.18" width="2.80" height="4.6" fill="url(#gY)"/>
<rect x="161.30" y="170.18" width="6.70" height="4.6" fill="#fff" stroke="#d3d6de" stroke-width="0.35"/>
<rect x="161.30" y="170.18" width="6.70" height="4.6" fill="url(#gY)"/>
<rect x="170.20" y="170.18" width="1.10" height="4.6" fill="#fff" stroke="#d3d6de" stroke-width="0.35"/>
<rect x="170.20" y="170.18" width="1.10" height="4.6" fill="url(#gY)"/>
<rect x="178.00" y="170.18" width="14.50" height="4.6" fill="#fff" stroke="#d3d6de" stroke-width="0.35"/>
<rect x="178.00" y="170.18" width="14.50" height="4.6" fill="url(#gY)"/>
<rect x="194.90" y="170.18" width="4.90" height="4.6" fill="#fff" stroke="#d3d6de" stroke-width="0.35"/>
<rect x="194.90" y="170.18" width="4.90" height="4.6" fill="url(#gG)"/>
<rect x="112.50" y="177.35" width="94.40" height="1.5" fill="#b4b4b4"/>
<rect x="112.50" y="176.10" width="3.10" height="4.6" fill="#fff" stroke="#d3d6de" stroke-width="0.35"/>
<rect x="112.50" y="176.10" width="3.10" height="4.6" fill="url(#gY)"/>
<rect x="117.50" y="176.10" width="2.90" height="4.6" fill="#fff" stroke="#d3d6de" stroke-width="0.35"/>
<rect x="117.50" y="176.10" width="2.90" height="4.6" fill="url(#gY)"/>
<rect x="157.50" y="176.10" width="6.90" height="4.6" fill="#fff" stroke="#d3d6de" stroke-width="0.35"/>
<rect x="157.50" y="176.10" width="6.90" height="4.6" fill="url(#gY)"/>
<rect x="167.10" y="176.10" width="0.90" height="4.6" fill="#fff" stroke="#d3d6de" stroke-width="0.35"/>
<rect x="167.10" y="176.10" width="0.90" height="4.6" fill="url(#gY)"/>
<rect x="174.90" y="176.10" width="9.80" height="4.6" fill="#fff" stroke="#d3d6de" stroke-width="0.35"/>
<rect x="174.90" y="176.10" width="9.80" height="4.6" fill="url(#gY)"/>
<rect x="188.00" y="176.10" width="9.00" height="4.6" fill="#fff" stroke="#d3d6de" stroke-width="0.35"/>
<rect x="188.00" y="176.10" width="9.00" height="4.6" fill="url(#gY)"/>
<rect x="197.00" y="176.10" width="3.70" height="4.6" fill="#fff" stroke="#d3d6de" stroke-width="0.35"/>
<rect x="197.00" y="176.10" width="3.70" height="4.6" fill="url(#gG)"/>
<rect x="201.80" y="176.10" width="5.10" height="4.6" fill="#fff" stroke="#d3d6de" stroke-width="0.35"/>
<rect x="201.80" y="176.10" width="5.10" height="4.6" fill="url(#gG)"/>
<rect x="112.50" y="183.27" width="96.50" height="1.5" fill="#b4b4b4"/>
<rect x="112.50" y="182.02" width="1.90" height="4.6" fill="#fff" stroke="#d3d6de" stroke-width="0.35"/>
<rect x="112.50" y="182.02" width="1.90" height="4.6" fill="url(#gG)"/>
<rect x="116.20" y="182.02" width="3.10" height="4.6" fill="#fff" stroke="#d3d6de" stroke-width="0.35"/>
<rect x="116.20" y="182.02" width="3.10" height="4.6" fill="url(#gY)"/>
<rect x="122.20" y="182.02" width="2.50" height="4.6" fill="#fff" stroke="#d3d6de" stroke-width="0.35"/>
<rect x="122.20" y="182.02" width="2.50" height="4.6" fill="url(#gY)"/>
<rect x="159.80" y="182.02" width="7.30" height="4.6" fill="#fff" stroke="#d3d6de" stroke-width="0.35"/>
<rect x="159.80" y="182.02" width="7.30" height="4.6" fill="url(#gY)"/>
<rect x="169.50" y="182.02" width="1.20" height="4.6" fill="#fff" stroke="#d3d6de" stroke-width="0.35"/>
<rect x="169.50" y="182.02" width="1.20" height="4.6" fill="url(#gY)"/>
<rect x="177.50" y="182.02" width="9.60" height="4.6" fill="#fff" stroke="#d3d6de" stroke-width="0.35"/>
<rect x="177.50" y="182.02" width="9.60" height="4.6" fill="url(#gY)"/>
<rect x="190.70" y="182.02" width="12.00" height="4.6" fill="#fff" stroke="#d3d6de" stroke-width="0.35"/>
<rect x="190.70" y="182.02" width="12.00" height="4.6" fill="url(#gY)"/>
<rect x="204.50" y="182.02" width="4.50" height="4.6" fill="#fff" stroke="#d3d6de" stroke-width="0.35"/>
<rect x="204.50" y="182.02" width="4.50" height="4.6" fill="url(#gG)"/>
<rect x="112.50" y="189.20" width="85.10" height="1.5" fill="#b4b4b4"/>
<rect x="112.50" y="187.95" width="1.30" height="4.6" fill="#fff" stroke="#d3d6de" stroke-width="0.35"/>
<rect x="112.50" y="187.95" width="1.30" height="4.6" fill="url(#gG)"/>
<rect x="115.30" y="187.95" width="2.70" height="4.6" fill="#fff" stroke="#d3d6de" stroke-width="0.35"/>
<rect x="115.30" y="187.95" width="2.70" height="4.6" fill="url(#gY)"/>
<rect x="120.40" y="187.95" width="2.50" height="4.6" fill="#fff" stroke="#d3d6de" stroke-width="0.35"/>
<rect x="120.40" y="187.95" width="2.50" height="4.6" fill="url(#gY)"/>
<rect x="153.10" y="187.95" width="7.10" height="4.6" fill="#fff" stroke="#d3d6de" stroke-width="0.35"/>
<rect x="153.10" y="187.95" width="7.10" height="4.6" fill="url(#gY)"/>
<rect x="162.20" y="187.95" width="1.10" height="4.6" fill="#fff" stroke="#d3d6de" stroke-width="0.35"/>
<rect x="162.20" y="187.95" width="1.10" height="4.6" fill="url(#gY)"/>
<rect x="170.20" y="187.95" width="18.20" height="4.6" fill="#fff" stroke="#d3d6de" stroke-width="0.35"/>
<rect x="170.20" y="187.95" width="18.20" height="4.6" fill="url(#gY)"/>
<rect x="190.70" y="187.95" width="6.90" height="4.6" fill="#fff" stroke="#d3d6de" stroke-width="0.35"/>
<rect x="190.70" y="187.95" width="6.90" height="4.6" fill="url(#gG)"/>
<rect x="112.50" y="195.12" width="103.50" height="1.5" fill="#b4b4b4"/>
<rect x="112.50" y="193.87" width="3.70" height="4.6" fill="#fff" stroke="#d3d6de" stroke-width="0.35"/>
<rect x="112.50" y="193.87" width="3.70" height="4.6" fill="url(#gG)"/>
<rect x="118.00" y="193.87" width="3.10" height="4.6" fill="#fff" stroke="#d3d6de" stroke-width="0.35"/>
<rect x="118.00" y="193.87" width="3.10" height="4.6" fill="url(#gY)"/>
<rect x="123.50" y="193.87" width="2.70" height="4.6" fill="#fff" stroke="#d3d6de" stroke-width="0.35"/>
<rect x="123.50" y="193.87" width="2.70" height="4.6" fill="url(#gY)"/>
<rect x="172.50" y="193.87" width="6.80" height="4.6" fill="#fff" stroke="#d3d6de" stroke-width="0.35"/>
<rect x="172.50" y="193.87" width="6.80" height="4.6" fill="url(#gY)"/>
<rect x="181.60" y="193.87" width="1.10" height="4.6" fill="#fff" stroke="#d3d6de" stroke-width="0.35"/>
<rect x="181.60" y="193.87" width="1.10" height="4.6" fill="url(#gY)"/>
<rect x="189.80" y="193.87" width="18.40" height="4.6" fill="#fff" stroke="#d3d6de" stroke-width="0.35"/>
<rect x="189.80" y="193.87" width="18.40" height="4.6" fill="url(#gY)"/>
<rect x="210.00" y="193.87" width="6.00" height="4.6" fill="#fff" stroke="#d3d6de" stroke-width="0.35"/>
<rect x="210.00" y="193.87" width="6.00" height="4.6" fill="url(#gG)"/>
<rect x="112.50" y="201.05" width="102.00" height="1.5" fill="#b4b4b4"/>
<rect x="112.50" y="199.80" width="1.30" height="4.6" fill="#fff" stroke="#d3d6de" stroke-width="0.35"/>
<rect x="112.50" y="199.80" width="1.30" height="4.6" fill="url(#gG)"/>
<rect x="115.30" y="199.80" width="2.70" height="4.6" fill="#fff" stroke="#d3d6de" stroke-width="0.35"/>
<rect x="115.30" y="199.80" width="2.70" height="4.6" fill="url(#gY)"/>
<rect x="120.70" y="199.80" width="2.80" height="4.6" fill="#fff" stroke="#d3d6de" stroke-width="0.35"/>
<rect x="120.70" y="199.80" width="2.80" height="4.6" fill="url(#gY)"/>
<rect x="170.40" y="199.80" width="6.70" height="4.6" fill="#fff" stroke="#d3d6de" stroke-width="0.35"/>
<rect x="170.40" y="199.80" width="6.70" height="4.6" fill="url(#gY)"/>
<rect x="179.50" y="199.80" width="1.00" height="4.6" fill="#fff" stroke="#d3d6de" stroke-width="0.35"/>
<rect x="179.50" y="199.80" width="1.00" height="4.6" fill="url(#gY)"/>
<rect x="187.10" y="199.80" width="19.30" height="4.6" fill="#fff" stroke="#d3d6de" stroke-width="0.35"/>
<rect x="187.10" y="199.80" width="19.30" height="4.6" fill="url(#gY)"/>
<rect x="207.60" y="199.80" width="6.90" height="4.6" fill="#fff" stroke="#d3d6de" stroke-width="0.35"/>
<rect x="207.60" y="199.80" width="6.90" height="4.6" fill="url(#gG)"/>
<rect x="112.50" y="206.97" width="98.00" height="1.5" fill="#b4b4b4"/>
<rect x="112.50" y="205.72" width="1.30" height="4.6" fill="#fff" stroke="#d3d6de" stroke-width="0.35"/>
<rect x="112.50" y="205.72" width="1.30" height="4.6" fill="url(#gG)"/>
<rect x="115.30" y="205.72" width="2.70" height="4.6" fill="#fff" stroke="#d3d6de" stroke-width="0.35"/>
<rect x="115.30" y="205.72" width="2.70" height="4.6" fill="url(#gY)"/>
<rect x="120.70" y="205.72" width="2.80" height="4.6" fill="#fff" stroke="#d3d6de" stroke-width="0.35"/>
<rect x="120.70" y="205.72" width="2.80" height="4.6" fill="url(#gY)"/>
<rect x="165.30" y="205.72" width="6.70" height="4.6" fill="#fff" stroke="#d3d6de" stroke-width="0.35"/>
<rect x="165.30" y="205.72" width="6.70" height="4.6" fill="url(#gY)"/>
<rect x="174.40" y="205.72" width="1.10" height="4.6" fill="#fff" stroke="#d3d6de" stroke-width="0.35"/>
<rect x="174.40" y="205.72" width="1.10" height="4.6" fill="url(#gY)"/>
<rect x="182.50" y="205.72" width="19.10" height="4.6" fill="#fff" stroke="#d3d6de" stroke-width="0.35"/>
<rect x="182.50" y="205.72" width="19.10" height="4.6" fill="url(#gY)"/>
<rect x="203.60" y="205.72" width="6.90" height="4.6" fill="#fff" stroke="#d3d6de" stroke-width="0.35"/>
<rect x="203.60" y="205.72" width="6.90" height="4.6" fill="url(#gG)"/>
<rect x="112.50" y="212.89" width="85.50" height="1.5" fill="#b4b4b4"/>
<rect x="112.50" y="211.64" width="2.80" height="4.6" fill="#fff" stroke="#d3d6de" stroke-width="0.35"/>
<rect x="112.50" y="211.64" width="2.80" height="4.6" fill="url(#gY)"/>
<rect x="117.50" y="211.64" width="2.90" height="4.6" fill="#fff" stroke="#d3d6de" stroke-width="0.35"/>
<rect x="117.50" y="211.64" width="2.90" height="4.6" fill="url(#gY)"/>
<rect x="160.20" y="211.64" width="6.90" height="4.6" fill="#fff" stroke="#d3d6de" stroke-width="0.35"/>
<rect x="160.20" y="211.64" width="6.90" height="4.6" fill="url(#gY)"/>
<rect x="169.80" y="211.64" width="0.90" height="4.6" fill="#fff" stroke="#d3d6de" stroke-width="0.35"/>
<rect x="169.80" y="211.64" width="0.90" height="4.6" fill="url(#gY)"/>
<rect x="177.50" y="211.64" width="18.70" height="4.6" fill="#fff" stroke="#d3d6de" stroke-width="0.35"/>
<rect x="177.50" y="211.64" width="18.70" height="4.6" fill="url(#gY)"/>
<rect x="112.50" y="218.82" width="86.40" height="1.5" fill="#b4b4b4"/>
<rect x="112.50" y="217.57" width="1.30" height="4.6" fill="#fff" stroke="#d3d6de" stroke-width="0.35"/>
<rect x="112.50" y="217.57" width="1.30" height="4.6" fill="url(#gG)"/>
<rect x="115.30" y="217.57" width="2.70" height="4.6" fill="#fff" stroke="#d3d6de" stroke-width="0.35"/>
<rect x="115.30" y="217.57" width="2.70" height="4.6" fill="url(#gY)"/>
<rect x="153.80" y="217.57" width="6.90" height="4.6" fill="#fff" stroke="#d3d6de" stroke-width="0.35"/>
<rect x="153.80" y="217.57" width="6.90" height="4.6" fill="url(#gY)"/>
<rect x="162.90" y="217.57" width="1.10" height="4.6" fill="#fff" stroke="#d3d6de" stroke-width="0.35"/>
<rect x="162.90" y="217.57" width="1.10" height="4.6" fill="url(#gY)"/>
<rect x="170.70" y="217.57" width="18.80" height="4.6" fill="#fff" stroke="#d3d6de" stroke-width="0.35"/>
<rect x="170.70" y="217.57" width="18.80" height="4.6" fill="url(#gY)"/>
<rect x="191.60" y="217.57" width="7.30" height="4.6" fill="#fff" stroke="#d3d6de" stroke-width="0.35"/>
<rect x="191.60" y="217.57" width="7.30" height="4.6" fill="url(#gG)"/>
<rect x="112.50" y="224.74" width="96.50" height="1.5" fill="#b4b4b4"/>
<rect x="112.50" y="223.49" width="1.30" height="4.6" fill="#fff" stroke="#d3d6de" stroke-width="0.35"/>
<rect x="112.50" y="223.49" width="1.30" height="4.6" fill="url(#gG)"/>
<rect x="115.30" y="223.49" width="2.70" height="4.6" fill="#fff" stroke="#d3d6de" stroke-width="0.35"/>
<rect x="115.30" y="223.49" width="2.70" height="4.6" fill="url(#gY)"/>
<rect x="120.40" y="223.49" width="2.50" height="4.6" fill="#fff" stroke="#d3d6de" stroke-width="0.35"/>
<rect x="120.40" y="223.49" width="2.50" height="4.6" fill="url(#gY)"/>
<rect x="163.80" y="223.49" width="6.90" height="4.6" fill="#fff" stroke="#d3d6de" stroke-width="0.35"/>
<rect x="163.80" y="223.49" width="6.90" height="4.6" fill="url(#gY)"/>
<rect x="173.10" y="223.49" width="1.10" height="4.6" fill="#fff" stroke="#d3d6de" stroke-width="0.35"/>
<rect x="173.10" y="223.49" width="1.10" height="4.6" fill="url(#gY)"/>
<rect x="180.70" y="223.49" width="19.10" height="4.6" fill="#fff" stroke="#d3d6de" stroke-width="0.35"/>
<rect x="180.70" y="223.49" width="19.10" height="4.6" fill="url(#gY)"/>
<rect x="201.50" y="223.49" width="7.50" height="4.6" fill="#fff" stroke="#d3d6de" stroke-width="0.35"/>
<rect x="201.50" y="223.49" width="7.50" height="4.6" fill="url(#gG)"/>
<rect x="112.50" y="230.67" width="106.00" height="1.5" fill="#b4b4b4"/>
<rect x="112.50" y="229.42" width="3.70" height="4.6" fill="#fff" stroke="#d3d6de" stroke-width="0.35"/>
<rect x="112.50" y="229.42" width="3.70" height="4.6" fill="url(#gG)"/>
<rect x="116.20" y="229.42" width="2.70" height="4.6" fill="#fff" stroke="#d3d6de" stroke-width="0.35"/>
<rect x="116.20" y="229.42" width="2.70" height="4.6" fill="url(#gY)"/>
<rect x="121.10" y="229.42" width="2.90" height="4.6" fill="#fff" stroke="#d3d6de" stroke-width="0.35"/>
<rect x="121.10" y="229.42" width="2.90" height="4.6" fill="url(#gY)"/>
<rect x="172.00" y="229.42" width="6.90" height="4.6" fill="#fff" stroke="#d3d6de" stroke-width="0.35"/>
<rect x="172.00" y="229.42" width="6.90" height="4.6" fill="url(#gY)"/>
<rect x="180.70" y="229.42" width="1.10" height="4.6" fill="#fff" stroke="#d3d6de" stroke-width="0.35"/>
<rect x="180.70" y="229.42" width="1.10" height="4.6" fill="url(#gY)"/>
<rect x="188.90" y="229.42" width="18.70" height="4.6" fill="#fff" stroke="#d3d6de" stroke-width="0.35"/>
<rect x="188.90" y="229.42" width="18.70" height="4.6" fill="url(#gY)"/>
<rect x="209.50" y="229.42" width="9.00" height="4.6" fill="#fff" stroke="#d3d6de" stroke-width="0.35"/>
<rect x="209.50" y="229.42" width="9.00" height="4.6" fill="url(#gG)"/>
<rect x="112.50" y="236.59" width="95.70" height="1.5" fill="#b4b4b4"/>
<rect x="112.50" y="235.34" width="2.80" height="4.6" fill="#fff" stroke="#d3d6de" stroke-width="0.35"/>
<rect x="112.50" y="235.34" width="2.80" height="4.6" fill="url(#gY)"/>
<rect x="117.50" y="235.34" width="2.90" height="4.6" fill="#fff" stroke="#d3d6de" stroke-width="0.35"/>
<rect x="117.50" y="235.34" width="2.90" height="4.6" fill="url(#gY)"/>
<rect x="162.20" y="235.34" width="7.30" height="4.6" fill="#fff" stroke="#d3d6de" stroke-width="0.35"/>
<rect x="162.20" y="235.34" width="7.30" height="4.6" fill="url(#gY)"/>
<rect x="171.60" y="235.34" width="1.10" height="4.6" fill="#fff" stroke="#d3d6de" stroke-width="0.35"/>
<rect x="171.60" y="235.34" width="1.10" height="4.6" fill="url(#gY)"/>
<rect x="179.30" y="235.34" width="18.70" height="4.6" fill="#fff" stroke="#d3d6de" stroke-width="0.35"/>
<rect x="179.30" y="235.34" width="18.70" height="4.6" fill="url(#gY)"/>
<rect x="199.80" y="235.34" width="8.40" height="4.6" fill="#fff" stroke="#d3d6de" stroke-width="0.35"/>
<rect x="199.80" y="235.34" width="8.40" height="4.6" fill="url(#gG)"/>
<rect x="112.50" y="242.51" width="76.00" height="1.5" fill="#b4b4b4"/>
<rect x="112.50" y="241.26" width="2.80" height="4.6" fill="#fff" stroke="#d3d6de" stroke-width="0.35"/>
<rect x="112.50" y="241.26" width="2.80" height="4.6" fill="url(#gY)"/>
<rect x="117.50" y="241.26" width="2.90" height="4.6" fill="#fff" stroke="#d3d6de" stroke-width="0.35"/>
<rect x="117.50" y="241.26" width="2.90" height="4.6" fill="url(#gY)"/>
<rect x="150.20" y="241.26" width="7.30" height="4.6" fill="#fff" stroke="#d3d6de" stroke-width="0.35"/>
<rect x="150.20" y="241.26" width="7.30" height="4.6" fill="url(#gY)"/>
<rect x="162.00" y="241.26" width="1.10" height="4.6" fill="#fff" stroke="#d3d6de" stroke-width="0.35"/>
<rect x="162.00" y="241.26" width="1.10" height="4.6" fill="url(#gY)"/>
<rect x="174.40" y="241.26" width="1.20" height="4.6" fill="#fff" stroke="#d3d6de" stroke-width="0.35"/>
<rect x="174.40" y="241.26" width="1.20" height="4.6" fill="url(#gY)"/>
<rect x="178.50" y="241.26" width="1.90" height="4.6" fill="#fff" stroke="#d3d6de" stroke-width="0.35"/>
<rect x="178.50" y="241.26" width="1.90" height="4.6" fill="url(#gY)"/>
<rect x="183.50" y="241.26" width="0.90" height="4.6" fill="#fff" stroke="#d3d6de" stroke-width="0.35"/>
<rect x="183.50" y="241.26" width="0.90" height="4.6" fill="url(#gY)"/>
<rect x="187.60" y="241.26" width="0.90" height="4.6" fill="#fff" stroke="#d3d6de" stroke-width="0.35"/>
<rect x="187.60" y="241.26" width="0.90" height="4.6" fill="url(#gY)"/>
<rect x="112.50" y="248.44" width="70.40" height="1.5" fill="#b4b4b4"/>
<rect x="112.50" y="247.19" width="1.90" height="4.6" fill="#fff" stroke="#d3d6de" stroke-width="0.35"/>
<rect x="112.50" y="247.19" width="1.90" height="4.6" fill="url(#gY)"/>
<rect x="130.20" y="247.19" width="3.30" height="4.6" fill="#fff" stroke="#d3d6de" stroke-width="0.35"/>
<rect x="130.20" y="247.19" width="3.30" height="4.6" fill="url(#gY)"/>
<rect x="135.30" y="247.19" width="9.10" height="4.6" fill="#fff" stroke="#d3d6de" stroke-width="0.35"/>
<rect x="135.30" y="247.19" width="9.10" height="4.6" fill="url(#gY)"/>
<rect x="151.60" y="247.19" width="1.10" height="4.6" fill="#fff" stroke="#d3d6de" stroke-width="0.35"/>
<rect x="151.60" y="247.19" width="1.10" height="4.6" fill="url(#gY)"/>
<rect x="162.20" y="247.19" width="15.80" height="4.6" fill="#fff" stroke="#d3d6de" stroke-width="0.35"/>
<rect x="162.20" y="247.19" width="15.80" height="4.6" fill="url(#gY)"/>
<rect x="178.00" y="247.19" width="4.90" height="4.6" fill="#fff" stroke="#d3d6de" stroke-width="0.35"/>
<rect x="178.00" y="247.19" width="4.90" height="4.6" fill="url(#gG)"/>
<rect x="112.50" y="254.36" width="37.00" height="1.5" fill="#b4b4b4"/>
<rect x="112.50" y="253.11" width="1.90" height="4.6" fill="#fff" stroke="#d3d6de" stroke-width="0.35"/>
<rect x="112.50" y="253.11" width="1.90" height="4.6" fill="url(#gY)"/>
<rect x="116.70" y="253.11" width="6.20" height="4.6" fill="#fff" stroke="#d3d6de" stroke-width="0.35"/>
<rect x="116.70" y="253.11" width="6.20" height="4.6" fill="url(#gY)"/>
<rect x="129.50" y="253.11" width="6.10" height="4.6" fill="#fff" stroke="#d3d6de" stroke-width="0.35"/>
<rect x="129.50" y="253.11" width="6.10" height="4.6" fill="url(#gY)"/>
<rect x="138.00" y="253.11" width="2.40" height="4.6" fill="#fff" stroke="#d3d6de" stroke-width="0.35"/>
<rect x="138.00" y="253.11" width="2.40" height="4.6" fill="url(#gY)"/>
<rect x="142.50" y="253.11" width="7.00" height="4.6" fill="#fff" stroke="#d3d6de" stroke-width="0.35"/>
<rect x="142.50" y="253.11" width="7.00" height="4.6" fill="url(#gY)"/>
<rect x="112.50" y="260.29" width="46.40" height="1.5" fill="#b4b4b4"/>
<rect x="112.50" y="259.04" width="3.10" height="4.6" fill="#fff" stroke="#d3d6de" stroke-width="0.35"/>
<rect x="112.50" y="259.04" width="3.10" height="4.6" fill="url(#gG)"/>
<rect x="115.60" y="259.04" width="7.30" height="4.6" fill="#fff" stroke="#d3d6de" stroke-width="0.35"/>
<rect x="115.60" y="259.04" width="7.30" height="4.6" fill="url(#gY)"/>
<rect x="125.30" y="259.04" width="5.40" height="4.6" fill="#fff" stroke="#d3d6de" stroke-width="0.35"/>
<rect x="125.30" y="259.04" width="5.40" height="4.6" fill="url(#gY)"/>
<rect x="133.10" y="259.04" width="5.80" height="4.6" fill="#fff" stroke="#d3d6de" stroke-width="0.35"/>
<rect x="133.10" y="259.04" width="5.80" height="4.6" fill="url(#gY)"/>
<rect x="141.60" y="259.04" width="1.90" height="4.6" fill="#fff" stroke="#d3d6de" stroke-width="0.35"/>
<rect x="141.60" y="259.04" width="1.90" height="4.6" fill="url(#gY)"/>
<rect x="145.30" y="259.04" width="7.20" height="4.6" fill="#fff" stroke="#d3d6de" stroke-width="0.35"/>
<rect x="145.30" y="259.04" width="7.20" height="4.6" fill="url(#gY)"/>
<rect x="152.50" y="259.04" width="6.40" height="4.6" fill="#fff" stroke="#d3d6de" stroke-width="0.35"/>
<rect x="152.50" y="259.04" width="6.40" height="4.6" fill="url(#gG)"/>
<rect x="112.50" y="266.21" width="139.30" height="1.5" fill="#b4b4b4"/>
<rect x="112.50" y="264.96" width="7.30" height="4.6" fill="#fff" stroke="#d3d6de" stroke-width="0.35"/>
<rect x="112.50" y="264.96" width="7.30" height="4.6" fill="url(#gG)"/>
<rect x="119.80" y="264.96" width="12.70" height="4.6" fill="#fff" stroke="#d3d6de" stroke-width="0.35"/>
<rect x="119.80" y="264.96" width="12.70" height="4.6" fill="url(#gY)"/>
<rect x="152.20" y="264.96" width="2.50" height="4.6" fill="#fff" stroke="#d3d6de" stroke-width="0.35"/>
<rect x="152.20" y="264.96" width="2.50" height="4.6" fill="url(#gY)"/>
<rect x="197.00" y="264.96" width="6.60" height="4.6" fill="#fff" stroke="#d3d6de" stroke-width="0.35"/>
<rect x="197.00" y="264.96" width="6.60" height="4.6" fill="url(#gY)"/>
<rect x="207.30" y="264.96" width="1.40" height="4.6" fill="#fff" stroke="#d3d6de" stroke-width="0.35"/>
<rect x="207.30" y="264.96" width="1.40" height="4.6" fill="url(#gY)"/>
<rect x="211.30" y="264.96" width="1.80" height="4.6" fill="#fff" stroke="#d3d6de" stroke-width="0.35"/>
<rect x="211.30" y="264.96" width="1.80" height="4.6" fill="url(#gY)"/>
<rect x="220.90" y="264.96" width="4.60" height="4.6" fill="#fff" stroke="#d3d6de" stroke-width="0.35"/>
<rect x="220.90" y="264.96" width="4.60" height="4.6" fill="url(#gY)"/>
<rect x="225.50" y="264.96" width="0.90" height="4.6" fill="#fff" stroke="#d3d6de" stroke-width="0.35"/>
<rect x="225.50" y="264.96" width="0.90" height="4.6" fill="url(#gG)"/>
<rect x="236.00" y="264.96" width="15.80" height="4.6" fill="#fff" stroke="#d3d6de" stroke-width="0.35"/>
<rect x="236.00" y="264.96" width="15.80" height="4.6" fill="url(#gG)"/>
<rect x="112.50" y="272.13" width="120.20" height="1.5" fill="#b4b4b4"/>
<rect x="112.50" y="270.88" width="8.20" height="4.6" fill="#fff" stroke="#d3d6de" stroke-width="0.35"/>
<rect x="112.50" y="270.88" width="8.20" height="4.6" fill="url(#gG)"/>
<rect x="120.70" y="270.88" width="12.20" height="4.6" fill="#fff" stroke="#d3d6de" stroke-width="0.35"/>
<rect x="120.70" y="270.88" width="12.20" height="4.6" fill="url(#gY)"/>
<rect x="152.20" y="270.88" width="2.50" height="4.6" fill="#fff" stroke="#d3d6de" stroke-width="0.35"/>
<rect x="152.20" y="270.88" width="2.50" height="4.6" fill="url(#gY)"/>
<rect x="201.60" y="270.88" width="6.60" height="4.6" fill="#fff" stroke="#d3d6de" stroke-width="0.35"/>
<rect x="201.60" y="270.88" width="6.60" height="4.6" fill="url(#gY)"/>
<rect x="211.30" y="270.88" width="1.40" height="4.6" fill="#fff" stroke="#d3d6de" stroke-width="0.35"/>
<rect x="211.30" y="270.88" width="1.40" height="4.6" fill="url(#gY)"/>
<rect x="215.50" y="270.88" width="1.80" height="4.6" fill="#fff" stroke="#d3d6de" stroke-width="0.35"/>
<rect x="215.50" y="270.88" width="1.80" height="4.6" fill="url(#gY)"/>
<rect x="222.20" y="270.88" width="2.90" height="4.6" fill="#fff" stroke="#d3d6de" stroke-width="0.35"/>
<rect x="222.20" y="270.88" width="2.90" height="4.6" fill="url(#gY)"/>
<rect x="225.10" y="270.88" width="7.60" height="4.6" fill="#fff" stroke="#d3d6de" stroke-width="0.35"/>
<rect x="225.10" y="270.88" width="7.60" height="4.6" fill="url(#gG)"/>
<rect x="112.50" y="278.06" width="116.60" height="1.5" fill="#b4b4b4"/>
<rect x="112.50" y="276.81" width="7.30" height="4.6" fill="#fff" stroke="#d3d6de" stroke-width="0.35"/>
<rect x="112.50" y="276.81" width="7.30" height="4.6" fill="url(#gG)"/>
<rect x="119.80" y="276.81" width="12.70" height="4.6" fill="#fff" stroke="#d3d6de" stroke-width="0.35"/>
<rect x="119.80" y="276.81" width="12.70" height="4.6" fill="url(#gY)"/>
<rect x="152.20" y="276.81" width="2.50" height="4.6" fill="#fff" stroke="#d3d6de" stroke-width="0.35"/>
<rect x="152.20" y="276.81" width="2.50" height="4.6" fill="url(#gY)"/>
<rect x="197.60" y="276.81" width="6.00" height="4.6" fill="#fff" stroke="#d3d6de" stroke-width="0.35"/>
<rect x="197.60" y="276.81" width="6.00" height="4.6" fill="url(#gY)"/>
<rect x="206.40" y="276.81" width="1.80" height="4.6" fill="#fff" stroke="#d3d6de" stroke-width="0.35"/>
<rect x="206.40" y="276.81" width="1.80" height="4.6" fill="url(#gY)"/>
<rect x="210.90" y="276.81" width="1.80" height="4.6" fill="#fff" stroke="#d3d6de" stroke-width="0.35"/>
<rect x="210.90" y="276.81" width="1.80" height="4.6" fill="url(#gY)"/>
<rect x="218.20" y="276.81" width="2.70" height="4.6" fill="#fff" stroke="#d3d6de" stroke-width="0.35"/>
<rect x="218.20" y="276.81" width="2.70" height="4.6" fill="url(#gY)"/>
<rect x="220.90" y="276.81" width="8.20" height="4.6" fill="#fff" stroke="#d3d6de" stroke-width="0.35"/>
<rect x="220.90" y="276.81" width="8.20" height="4.6" fill="url(#gG)"/>
<rect x="112.50" y="283.98" width="73.30" height="1.5" fill="#b4b4b4"/>
<rect x="112.50" y="282.73" width="3.70" height="4.6" fill="#fff" stroke="#d3d6de" stroke-width="0.35"/>
<rect x="112.50" y="282.73" width="3.70" height="4.6" fill="url(#gG)"/>
<rect x="116.20" y="282.73" width="10.90" height="4.6" fill="#fff" stroke="#d3d6de" stroke-width="0.35"/>
<rect x="116.20" y="282.73" width="10.90" height="4.6" fill="url(#gY)"/>
<rect x="129.30" y="282.73" width="2.30" height="4.6" fill="#fff" stroke="#d3d6de" stroke-width="0.35"/>
<rect x="129.30" y="282.73" width="2.30" height="4.6" fill="url(#gY)"/>
<rect x="158.50" y="282.73" width="7.30" height="4.6" fill="#fff" stroke="#d3d6de" stroke-width="0.35"/>
<rect x="158.50" y="282.73" width="7.30" height="4.6" fill="url(#gY)"/>
<rect x="168.00" y="282.73" width="1.10" height="4.6" fill="#fff" stroke="#d3d6de" stroke-width="0.35"/>
<rect x="168.00" y="282.73" width="1.10" height="4.6" fill="url(#gY)"/>
<rect x="171.60" y="282.73" width="2.20" height="4.6" fill="#fff" stroke="#d3d6de" stroke-width="0.35"/>
<rect x="171.60" y="282.73" width="2.20" height="4.6" fill="url(#gY)"/>
<rect x="176.20" y="282.73" width="2.70" height="4.6" fill="#fff" stroke="#d3d6de" stroke-width="0.35"/>
<rect x="176.20" y="282.73" width="2.70" height="4.6" fill="url(#gY)"/>
<rect x="178.90" y="282.73" width="6.90" height="4.6" fill="#fff" stroke="#d3d6de" stroke-width="0.35"/>
<rect x="178.90" y="282.73" width="6.90" height="4.6" fill="url(#gG)"/>
<rect x="112.50" y="289.91" width="71.00" height="1.5" fill="#b4b4b4"/>
<rect x="112.50" y="288.66" width="4.60" height="4.6" fill="#fff" stroke="#d3d6de" stroke-width="0.35"/>
<rect x="112.50" y="288.66" width="4.60" height="4.6" fill="url(#gG)"/>
<rect x="117.10" y="288.66" width="10.90" height="4.6" fill="#fff" stroke="#d3d6de" stroke-width="0.35"/>
<rect x="117.10" y="288.66" width="10.90" height="4.6" fill="url(#gY)"/>
<rect x="129.80" y="288.66" width="2.70" height="4.6" fill="#fff" stroke="#d3d6de" stroke-width="0.35"/>
<rect x="129.80" y="288.66" width="2.70" height="4.6" fill="url(#gY)"/>
<rect x="156.70" y="288.66" width="6.80" height="4.6" fill="#fff" stroke="#d3d6de" stroke-width="0.35"/>
<rect x="156.70" y="288.66" width="6.80" height="4.6" fill="url(#gY)"/>
<rect x="165.80" y="288.66" width="1.30" height="4.6" fill="#fff" stroke="#d3d6de" stroke-width="0.35"/>
<rect x="165.80" y="288.66" width="1.30" height="4.6" fill="url(#gY)"/>
<rect x="169.50" y="288.66" width="1.80" height="4.6" fill="#fff" stroke="#d3d6de" stroke-width="0.35"/>
<rect x="169.50" y="288.66" width="1.80" height="4.6" fill="url(#gY)"/>
<rect x="173.80" y="288.66" width="2.90" height="4.6" fill="#fff" stroke="#d3d6de" stroke-width="0.35"/>
<rect x="173.80" y="288.66" width="2.90" height="4.6" fill="url(#gY)"/>
<rect x="176.70" y="288.66" width="6.80" height="4.6" fill="#fff" stroke="#d3d6de" stroke-width="0.35"/>
<rect x="176.70" y="288.66" width="6.80" height="4.6" fill="url(#gG)"/>
<rect x="112.50" y="295.83" width="61.30" height="1.5" fill="#b4b4b4"/>
<rect x="112.50" y="294.58" width="3.70" height="4.6" fill="#fff" stroke="#d3d6de" stroke-width="0.35"/>
<rect x="112.50" y="294.58" width="3.70" height="4.6" fill="url(#gG)"/>
<rect x="116.20" y="294.58" width="11.80" height="4.6" fill="#fff" stroke="#d3d6de" stroke-width="0.35"/>
<rect x="116.20" y="294.58" width="11.80" height="4.6" fill="url(#gY)"/>
<rect x="129.50" y="294.58" width="2.50" height="4.6" fill="#fff" stroke="#d3d6de" stroke-width="0.35"/>
<rect x="129.50" y="294.58" width="2.50" height="4.6" fill="url(#gY)"/>
<rect x="149.50" y="294.58" width="7.20" height="4.6" fill="#fff" stroke="#d3d6de" stroke-width="0.35"/>
<rect x="149.50" y="294.58" width="7.20" height="4.6" fill="url(#gY)"/>
<rect x="158.50" y="294.58" width="1.30" height="4.6" fill="#fff" stroke="#d3d6de" stroke-width="0.35"/>
<rect x="158.50" y="294.58" width="1.30" height="4.6" fill="url(#gY)"/>
<rect x="161.60" y="294.58" width="1.90" height="4.6" fill="#fff" stroke="#d3d6de" stroke-width="0.35"/>
<rect x="161.60" y="294.58" width="1.90" height="4.6" fill="url(#gY)"/>
<rect x="166.20" y="294.58" width="3.10" height="4.6" fill="#fff" stroke="#d3d6de" stroke-width="0.35"/>
<rect x="166.20" y="294.58" width="3.10" height="4.6" fill="url(#gY)"/>
<rect x="169.30" y="294.58" width="4.50" height="4.6" fill="#fff" stroke="#d3d6de" stroke-width="0.35"/>
<rect x="169.30" y="294.58" width="4.50" height="4.6" fill="url(#gG)"/>
<rect x="112.50" y="301.75" width="13.70" height="1.5" fill="#b4b4b4"/>
<rect x="112.50" y="300.50" width="13.70" height="4.6" fill="#fff" stroke="#d3d6de" stroke-width="0.35"/>
<rect x="112.50" y="300.50" width="13.70" height="4.6" fill="url(#gY)"/>
<rect x="112.50" y="307.68" width="23.10" height="1.5" fill="#b4b4b4"/>
<rect x="112.50" y="306.43" width="14.00" height="4.6" fill="#fff" stroke="#d3d6de" stroke-width="0.35"/>
<rect x="112.50" y="306.43" width="14.00" height="4.6" fill="url(#gY)"/>
<rect x="126.50" y="306.43" width="9.10" height="4.6" fill="#fff" stroke="#d3d6de" stroke-width="0.35"/>
<rect x="126.50" y="306.43" width="9.10" height="4.6" fill="url(#gG)"/>
<rect x="112.50" y="313.60" width="34.00" height="1.5" fill="#b4b4b4"/>
<rect x="112.50" y="312.35" width="1.00" height="4.6" fill="#fff" stroke="#d3d6de" stroke-width="0.35"/>
<rect x="112.50" y="312.35" width="1.00" height="4.6" fill="url(#gG)"/>
<rect x="113.50" y="312.35" width="13.60" height="4.6" fill="#fff" stroke="#d3d6de" stroke-width="0.35"/>
<rect x="113.50" y="312.35" width="13.60" height="4.6" fill="url(#gY)"/>
<rect x="127.10" y="312.35" width="3.60" height="4.6" fill="#fff" stroke="#d3d6de" stroke-width="0.35"/>
<rect x="127.10" y="312.35" width="3.60" height="4.6" fill="url(#gG)"/>
<rect x="136.20" y="312.35" width="10.30" height="4.6" fill="#fff" stroke="#d3d6de" stroke-width="0.35"/>
<rect x="136.20" y="312.35" width="10.30" height="4.6" fill="url(#gG)"/>
<rect x="112.50" y="319.53" width="17.00" height="1.5" fill="#b4b4b4"/>
<rect x="112.50" y="318.28" width="17.00" height="4.6" fill="#fff" stroke="#d3d6de" stroke-width="0.35"/>
<rect x="112.50" y="318.28" width="17.00" height="4.6" fill="url(#gY)"/>
<rect x="112.50" y="325.45" width="30.40" height="1.5" fill="#b4b4b4"/>
<rect x="112.50" y="324.20" width="4.20" height="4.6" fill="#fff" stroke="#d3d6de" stroke-width="0.35"/>
<rect x="112.50" y="324.20" width="4.20" height="4.6" fill="url(#gG)"/>
<rect x="116.70" y="324.20" width="17.70" height="4.6" fill="#fff" stroke="#d3d6de" stroke-width="0.35"/>
<rect x="116.70" y="324.20" width="17.70" height="4.6" fill="url(#gY)"/>
<rect x="134.40" y="324.20" width="8.50" height="4.6" fill="#fff" stroke="#d3d6de" stroke-width="0.35"/>
<rect x="134.40" y="324.20" width="8.50" height="4.6" fill="url(#gG)"/>
<rect x="112.50" y="331.37" width="17.70" height="1.5" fill="#b4b4b4"/>
<rect x="112.50" y="330.12" width="17.70" height="4.6" fill="#fff" stroke="#d3d6de" stroke-width="0.35"/>
<rect x="112.50" y="330.12" width="17.70" height="4.6" fill="url(#gY)"/>
<rect x="112.50" y="337.30" width="18.80" height="1.5" fill="#b4b4b4"/>
<rect x="112.50" y="336.05" width="18.80" height="4.6" fill="#fff" stroke="#d3d6de" stroke-width="0.35"/>
<rect x="112.50" y="336.05" width="18.80" height="4.6" fill="url(#gY)"/>
<rect x="112.50" y="343.22" width="41.90" height="1.5" fill="#b4b4b4"/>
<rect x="112.50" y="341.97" width="6.00" height="4.6" fill="#fff" stroke="#d3d6de" stroke-width="0.35"/>
<rect x="112.50" y="341.97" width="6.00" height="4.6" fill="url(#gG)"/>
<rect x="118.50" y="341.97" width="18.20" height="4.6" fill="#fff" stroke="#d3d6de" stroke-width="0.35"/>
<rect x="118.50" y="341.97" width="18.20" height="4.6" fill="url(#gY)"/>
<rect x="136.70" y="341.97" width="17.70" height="4.6" fill="#fff" stroke="#d3d6de" stroke-width="0.35"/>
<rect x="136.70" y="341.97" width="17.70" height="4.6" fill="url(#gG)"/>
<rect x="112.50" y="349.15" width="18.80" height="1.5" fill="#b4b4b4"/>
<rect x="112.50" y="347.90" width="18.80" height="4.6" fill="#fff" stroke="#d3d6de" stroke-width="0.35"/>
<rect x="112.50" y="347.90" width="18.80" height="4.6" fill="url(#gY)"/>
<rect x="112.50" y="355.07" width="65.50" height="1.5" fill="#b4b4b4"/>
<rect x="112.50" y="353.82" width="4.20" height="4.6" fill="#fff" stroke="#d3d6de" stroke-width="0.35"/>
<rect x="112.50" y="353.82" width="4.20" height="4.6" fill="url(#gG)"/>
<rect x="131.60" y="353.82" width="13.70" height="4.6" fill="#fff" stroke="#d3d6de" stroke-width="0.35"/>
<rect x="131.60" y="353.82" width="13.70" height="4.6" fill="url(#gY)"/>
<rect x="148.00" y="353.82" width="4.00" height="4.6" fill="#fff" stroke="#d3d6de" stroke-width="0.35"/>
<rect x="148.00" y="353.82" width="4.00" height="4.6" fill="url(#gY)"/>
<rect x="154.40" y="353.82" width="1.20" height="4.6" fill="#fff" stroke="#d3d6de" stroke-width="0.35"/>
<rect x="154.40" y="353.82" width="1.20" height="4.6" fill="url(#gY)"/>
<rect x="158.00" y="353.82" width="1.30" height="4.6" fill="#fff" stroke="#d3d6de" stroke-width="0.35"/>
<rect x="158.00" y="353.82" width="1.30" height="4.6" fill="url(#gY)"/>
<rect x="161.10" y="353.82" width="1.10" height="4.6" fill="#fff" stroke="#d3d6de" stroke-width="0.35"/>
<rect x="161.10" y="353.82" width="1.10" height="4.6" fill="url(#gY)"/>
<rect x="164.00" y="353.82" width="1.30" height="4.6" fill="#fff" stroke="#d3d6de" stroke-width="0.35"/>
<rect x="164.00" y="353.82" width="1.30" height="4.6" fill="url(#gY)"/>
<rect x="168.00" y="353.82" width="3.60" height="4.6" fill="#fff" stroke="#d3d6de" stroke-width="0.35"/>
<rect x="168.00" y="353.82" width="3.60" height="4.6" fill="url(#gY)"/>
<rect x="171.60" y="353.82" width="6.40" height="4.6" fill="#fff" stroke="#d3d6de" stroke-width="0.35"/>
<rect x="171.60" y="353.82" width="6.40" height="4.6" fill="url(#gG)"/>
<rect x="112.50" y="360.99" width="61.90" height="1.5" fill="#b4b4b4"/>
<rect x="112.50" y="359.74" width="3.10" height="4.6" fill="#fff" stroke="#d3d6de" stroke-width="0.35"/>
<rect x="112.50" y="359.74" width="3.10" height="4.6" fill="url(#gG)"/>
<rect x="118.90" y="359.74" width="1.10" height="4.6" fill="#fff" stroke="#d3d6de" stroke-width="0.35"/>
<rect x="118.90" y="359.74" width="1.10" height="4.6" fill="url(#gY)"/>
<rect x="132.50" y="359.74" width="13.30" height="4.6" fill="#fff" stroke="#d3d6de" stroke-width="0.35"/>
<rect x="132.50" y="359.74" width="13.30" height="4.6" fill="url(#gY)"/>
<rect x="148.90" y="359.74" width="4.00" height="4.6" fill="#fff" stroke="#d3d6de" stroke-width="0.35"/>
<rect x="148.90" y="359.74" width="4.00" height="4.6" fill="url(#gY)"/>
<rect x="155.30" y="359.74" width="1.20" height="4.6" fill="#fff" stroke="#d3d6de" stroke-width="0.35"/>
<rect x="155.30" y="359.74" width="1.20" height="4.6" fill="url(#gY)"/>
<rect x="158.90" y="359.74" width="1.30" height="4.6" fill="#fff" stroke="#d3d6de" stroke-width="0.35"/>
<rect x="158.90" y="359.74" width="1.30" height="4.6" fill="url(#gY)"/>
<rect x="162.20" y="359.74" width="1.30" height="4.6" fill="#fff" stroke="#d3d6de" stroke-width="0.35"/>
<rect x="162.20" y="359.74" width="1.30" height="4.6" fill="url(#gY)"/>
<rect x="165.30" y="359.74" width="1.20" height="4.6" fill="#fff" stroke="#d3d6de" stroke-width="0.35"/>
<rect x="165.30" y="359.74" width="1.20" height="4.6" fill="url(#gY)"/>
<rect x="168.90" y="359.74" width="3.10" height="4.6" fill="#fff" stroke="#d3d6de" stroke-width="0.35"/>
<rect x="168.90" y="359.74" width="3.10" height="4.6" fill="url(#gY)"/>
<rect x="172.00" y="359.74" width="2.40" height="4.6" fill="#fff" stroke="#d3d6de" stroke-width="0.35"/>
<rect x="172.00" y="359.74" width="2.40" height="4.6" fill="url(#gG)"/>
<rect x="112.50" y="366.92" width="63.10" height="1.5" fill="#b4b4b4"/>
<rect x="112.50" y="365.67" width="2.40" height="4.6" fill="#fff" stroke="#d3d6de" stroke-width="0.35"/>
<rect x="112.50" y="365.67" width="2.40" height="4.6" fill="url(#gG)"/>
<rect x="130.20" y="365.67" width="13.30" height="4.6" fill="#fff" stroke="#d3d6de" stroke-width="0.35"/>
<rect x="130.20" y="365.67" width="13.30" height="4.6" fill="url(#gY)"/>
<rect x="147.10" y="365.67" width="3.60" height="4.6" fill="#fff" stroke="#d3d6de" stroke-width="0.35"/>
<rect x="147.10" y="365.67" width="3.60" height="4.6" fill="url(#gY)"/>
<rect x="153.10" y="365.67" width="1.30" height="4.6" fill="#fff" stroke="#d3d6de" stroke-width="0.35"/>
<rect x="153.10" y="365.67" width="1.30" height="4.6" fill="url(#gY)"/>
<rect x="156.20" y="365.67" width="1.30" height="4.6" fill="#fff" stroke="#d3d6de" stroke-width="0.35"/>
<rect x="156.20" y="365.67" width="1.30" height="4.6" fill="url(#gY)"/>
<rect x="159.50" y="365.67" width="1.20" height="4.6" fill="#fff" stroke="#d3d6de" stroke-width="0.35"/>
<rect x="159.50" y="365.67" width="1.20" height="4.6" fill="url(#gY)"/>
<rect x="162.50" y="365.67" width="1.30" height="4.6" fill="#fff" stroke="#d3d6de" stroke-width="0.35"/>
<rect x="162.50" y="365.67" width="1.30" height="4.6" fill="url(#gY)"/>
<rect x="166.50" y="365.67" width="4.20" height="4.6" fill="#fff" stroke="#d3d6de" stroke-width="0.35"/>
<rect x="166.50" y="365.67" width="4.20" height="4.6" fill="url(#gY)"/>
<rect x="170.70" y="365.67" width="4.90" height="4.6" fill="#fff" stroke="#d3d6de" stroke-width="0.35"/>
<rect x="170.70" y="365.67" width="4.90" height="4.6" fill="url(#gG)"/>
<rect x="112.50" y="372.84" width="70.40" height="1.5" fill="#b4b4b4"/>
<rect x="112.50" y="371.59" width="1.90" height="4.6" fill="#fff" stroke="#d3d6de" stroke-width="0.35"/>
<rect x="112.50" y="371.59" width="1.90" height="4.6" fill="url(#gG)"/>
<rect x="126.50" y="371.59" width="4.20" height="4.6" fill="#fff" stroke="#d3d6de" stroke-width="0.35"/>
<rect x="126.50" y="371.59" width="4.20" height="4.6" fill="url(#gY)"/>
<rect x="135.60" y="371.59" width="1.50" height="4.6" fill="#fff" stroke="#d3d6de" stroke-width="0.35"/>
<rect x="135.60" y="371.59" width="1.50" height="4.6" fill="url(#gY)"/>
<rect x="138.90" y="371.59" width="1.30" height="4.6" fill="#fff" stroke="#d3d6de" stroke-width="0.35"/>
<rect x="138.90" y="371.59" width="1.30" height="4.6" fill="url(#gY)"/>
<rect x="141.60" y="371.59" width="1.30" height="4.6" fill="#fff" stroke="#d3d6de" stroke-width="0.35"/>
<rect x="141.60" y="371.59" width="1.30" height="4.6" fill="url(#gY)"/>
<rect x="147.10" y="371.59" width="1.30" height="4.6" fill="#fff" stroke="#d3d6de" stroke-width="0.35"/>
<rect x="147.10" y="371.59" width="1.30" height="4.6" fill="url(#gY)"/>
<rect x="168.00" y="371.59" width="11.30" height="4.6" fill="#fff" stroke="#d3d6de" stroke-width="0.35"/>
<rect x="168.00" y="371.59" width="11.30" height="4.6" fill="url(#gY)"/>
<rect x="179.30" y="371.59" width="3.60" height="4.6" fill="#fff" stroke="#d3d6de" stroke-width="0.35"/>
<rect x="179.30" y="371.59" width="3.60" height="4.6" fill="url(#gG)"/>
<rect x="112.50" y="378.77" width="63.10" height="1.5" fill="#b4b4b4"/>
<rect x="112.50" y="377.52" width="1.00" height="4.6" fill="#fff" stroke="#d3d6de" stroke-width="0.35"/>
<rect x="112.50" y="377.52" width="1.00" height="4.6" fill="url(#gG)"/>
<rect x="113.50" y="377.52" width="3.60" height="4.6" fill="#fff" stroke="#d3d6de" stroke-width="0.35"/>
<rect x="113.50" y="377.52" width="3.60" height="4.6" fill="url(#gY)"/>
<rect x="122.90" y="377.52" width="1.80" height="4.6" fill="#fff" stroke="#d3d6de" stroke-width="0.35"/>
<rect x="122.90" y="377.52" width="1.80" height="4.6" fill="url(#gY)"/>
<rect x="126.50" y="377.52" width="1.50" height="4.6" fill="#fff" stroke="#d3d6de" stroke-width="0.35"/>
<rect x="126.50" y="377.52" width="1.50" height="4.6" fill="url(#gY)"/>
<rect x="138.90" y="377.52" width="1.50" height="4.6" fill="#fff" stroke="#d3d6de" stroke-width="0.35"/>
<rect x="138.90" y="377.52" width="1.50" height="4.6" fill="url(#gY)"/>
<rect x="143.10" y="377.52" width="4.90" height="4.6" fill="#fff" stroke="#d3d6de" stroke-width="0.35"/>
<rect x="143.10" y="377.52" width="4.90" height="4.6" fill="url(#gY)"/>
<rect x="166.50" y="377.52" width="5.10" height="4.6" fill="#fff" stroke="#d3d6de" stroke-width="0.35"/>
<rect x="166.50" y="377.52" width="5.10" height="4.6" fill="url(#gY)"/>
<rect x="171.60" y="377.52" width="4.00" height="4.6" fill="#fff" stroke="#d3d6de" stroke-width="0.35"/>
<rect x="171.60" y="377.52" width="4.00" height="4.6" fill="url(#gG)"/>
<rect x="112.50" y="384.69" width="61.90" height="1.5" fill="#b4b4b4"/>
<rect x="112.50" y="383.44" width="3.10" height="4.6" fill="#fff" stroke="#d3d6de" stroke-width="0.35"/>
<rect x="112.50" y="383.44" width="3.10" height="4.6" fill="url(#gY)"/>
<rect x="121.10" y="383.44" width="1.40" height="4.6" fill="#fff" stroke="#d3d6de" stroke-width="0.35"/>
<rect x="121.10" y="383.44" width="1.40" height="4.6" fill="url(#gY)"/>
<rect x="126.20" y="383.44" width="0.90" height="4.6" fill="#fff" stroke="#d3d6de" stroke-width="0.35"/>
<rect x="126.20" y="383.44" width="0.90" height="4.6" fill="url(#gY)"/>
<rect x="138.00" y="383.44" width="1.80" height="4.6" fill="#fff" stroke="#d3d6de" stroke-width="0.35"/>
<rect x="138.00" y="383.44" width="1.80" height="4.6" fill="url(#gY)"/>
<rect x="142.20" y="383.44" width="4.90" height="4.6" fill="#fff" stroke="#d3d6de" stroke-width="0.35"/>
<rect x="142.20" y="383.44" width="4.90" height="4.6" fill="url(#gY)"/>
<rect x="165.30" y="383.44" width="5.40" height="4.6" fill="#fff" stroke="#d3d6de" stroke-width="0.35"/>
<rect x="165.30" y="383.44" width="5.40" height="4.6" fill="url(#gY)"/>
<rect x="170.70" y="383.44" width="3.70" height="4.6" fill="#fff" stroke="#d3d6de" stroke-width="0.35"/>
<rect x="170.70" y="383.44" width="3.70" height="4.6" fill="url(#gG)"/>
<rect x="112.50" y="390.61" width="69.10" height="1.5" fill="#b4b4b4"/>
<rect x="112.50" y="389.36" width="1.90" height="4.6" fill="#fff" stroke="#d3d6de" stroke-width="0.35"/>
<rect x="112.50" y="389.36" width="1.90" height="4.6" fill="url(#gG)"/>
<rect x="114.40" y="389.36" width="2.30" height="4.6" fill="#fff" stroke="#d3d6de" stroke-width="0.35"/>
<rect x="114.40" y="389.36" width="2.30" height="4.6" fill="url(#gY)"/>
<rect x="124.00" y="389.36" width="1.30" height="4.6" fill="#fff" stroke="#d3d6de" stroke-width="0.35"/>
<rect x="124.00" y="389.36" width="1.30" height="4.6" fill="url(#gY)"/>
<rect x="126.70" y="389.36" width="1.30" height="4.6" fill="#fff" stroke="#d3d6de" stroke-width="0.35"/>
<rect x="126.70" y="389.36" width="1.30" height="4.6" fill="url(#gY)"/>
<rect x="140.70" y="389.36" width="1.80" height="4.6" fill="#fff" stroke="#d3d6de" stroke-width="0.35"/>
<rect x="140.70" y="389.36" width="1.80" height="4.6" fill="url(#gY)"/>
<rect x="145.30" y="389.36" width="4.90" height="4.6" fill="#fff" stroke="#d3d6de" stroke-width="0.35"/>
<rect x="145.30" y="389.36" width="4.90" height="4.6" fill="url(#gY)"/>
<rect x="168.40" y="389.36" width="6.00" height="4.6" fill="#fff" stroke="#d3d6de" stroke-width="0.35"/>
<rect x="168.40" y="389.36" width="6.00" height="4.6" fill="url(#gY)"/>
<rect x="174.40" y="389.36" width="7.20" height="4.6" fill="#fff" stroke="#d3d6de" stroke-width="0.35"/>
<rect x="174.40" y="389.36" width="7.20" height="4.6" fill="url(#gG)"/>
<rect x="112.50" y="396.54" width="34.00" height="1.5" fill="#b4b4b4"/>
<rect x="112.50" y="395.29" width="2.80" height="4.6" fill="#fff" stroke="#d3d6de" stroke-width="0.35"/>
<rect x="112.50" y="395.29" width="2.80" height="4.6" fill="url(#gG)"/>
<rect x="115.30" y="395.29" width="5.40" height="4.6" fill="#fff" stroke="#d3d6de" stroke-width="0.35"/>
<rect x="115.30" y="395.29" width="5.40" height="4.6" fill="url(#gY)"/>
<rect x="122.90" y="395.29" width="1.50" height="4.6" fill="#fff" stroke="#d3d6de" stroke-width="0.35"/>
<rect x="122.90" y="395.29" width="1.50" height="4.6" fill="url(#gY)"/>
<rect x="126.20" y="395.29" width="1.40" height="4.6" fill="#fff" stroke="#d3d6de" stroke-width="0.35"/>
<rect x="126.20" y="395.29" width="1.40" height="4.6" fill="url(#gY)"/>
<rect x="129.50" y="395.29" width="1.40" height="4.6" fill="#fff" stroke="#d3d6de" stroke-width="0.35"/>
<rect x="129.50" y="395.29" width="1.40" height="4.6" fill="url(#gY)"/>
<rect x="133.50" y="395.29" width="11.80" height="4.6" fill="#fff" stroke="#d3d6de" stroke-width="0.35"/>
<rect x="133.50" y="395.29" width="11.80" height="4.6" fill="url(#gY)"/>
<rect x="145.30" y="395.29" width="1.20" height="4.6" fill="#fff" stroke="#d3d6de" stroke-width="0.35"/>
<rect x="145.30" y="395.29" width="1.20" height="4.6" fill="url(#gG)"/>
<rect x="112.50" y="402.46" width="34.60" height="1.5" fill="#b4b4b4"/>
<rect x="112.50" y="401.21" width="2.80" height="4.6" fill="#fff" stroke="#d3d6de" stroke-width="0.35"/>
<rect x="112.50" y="401.21" width="2.80" height="4.6" fill="url(#gG)"/>
<rect x="115.30" y="401.21" width="3.60" height="4.6" fill="#fff" stroke="#d3d6de" stroke-width="0.35"/>
<rect x="115.30" y="401.21" width="3.60" height="4.6" fill="url(#gY)"/>
<rect x="120.70" y="401.21" width="1.50" height="4.6" fill="#fff" stroke="#d3d6de" stroke-width="0.35"/>
<rect x="120.70" y="401.21" width="1.50" height="4.6" fill="url(#gY)"/>
<rect x="124.00" y="401.21" width="1.30" height="4.6" fill="#fff" stroke="#d3d6de" stroke-width="0.35"/>
<rect x="124.00" y="401.21" width="1.30" height="4.6" fill="url(#gY)"/>
<rect x="127.10" y="401.21" width="1.30" height="4.6" fill="#fff" stroke="#d3d6de" stroke-width="0.35"/>
<rect x="127.10" y="401.21" width="1.30" height="4.6" fill="url(#gY)"/>
<rect x="132.50" y="401.21" width="12.80" height="4.6" fill="#fff" stroke="#d3d6de" stroke-width="0.35"/>
<rect x="132.50" y="401.21" width="12.80" height="4.6" fill="url(#gY)"/>
<rect x="145.30" y="401.21" width="1.80" height="4.6" fill="#fff" stroke="#d3d6de" stroke-width="0.35"/>
<rect x="145.30" y="401.21" width="1.80" height="4.6" fill="url(#gG)"/>
<rect x="112.50" y="408.39" width="39.10" height="1.5" fill="#b4b4b4"/>
<rect x="112.50" y="407.14" width="4.20" height="4.6" fill="#fff" stroke="#d3d6de" stroke-width="0.35"/>
<rect x="112.50" y="407.14" width="4.20" height="4.6" fill="url(#gG)"/>
<rect x="116.70" y="407.14" width="4.00" height="4.6" fill="#fff" stroke="#d3d6de" stroke-width="0.35"/>
<rect x="116.70" y="407.14" width="4.00" height="4.6" fill="url(#gY)"/>
<rect x="124.00" y="407.14" width="1.50" height="4.6" fill="#fff" stroke="#d3d6de" stroke-width="0.35"/>
<rect x="124.00" y="407.14" width="1.50" height="4.6" fill="url(#gY)"/>
<rect x="127.60" y="407.14" width="1.50" height="4.6" fill="#fff" stroke="#d3d6de" stroke-width="0.35"/>
<rect x="127.60" y="407.14" width="1.50" height="4.6" fill="url(#gY)"/>
<rect x="131.30" y="407.14" width="1.40" height="4.6" fill="#fff" stroke="#d3d6de" stroke-width="0.35"/>
<rect x="131.30" y="407.14" width="1.40" height="4.6" fill="url(#gY)"/>
<rect x="137.10" y="407.14" width="12.40" height="4.6" fill="#fff" stroke="#d3d6de" stroke-width="0.35"/>
<rect x="137.10" y="407.14" width="12.40" height="4.6" fill="url(#gY)"/>
<rect x="149.50" y="407.14" width="2.10" height="4.6" fill="#fff" stroke="#d3d6de" stroke-width="0.35"/>
<rect x="149.50" y="407.14" width="2.10" height="4.6" fill="url(#gG)"/>
<rect x="112.50" y="414.31" width="155.10" height="1.5" fill="#b4b4b4"/>
<rect x="112.50" y="413.06" width="1.90" height="4.6" fill="#fff" stroke="#d3d6de" stroke-width="0.35"/>
<rect x="112.50" y="413.06" width="1.90" height="4.6" fill="url(#gG)"/>
<rect x="117.50" y="413.06" width="8.70" height="4.6" fill="#fff" stroke="#d3d6de" stroke-width="0.35"/>
<rect x="117.50" y="413.06" width="8.70" height="4.6" fill="url(#gY)"/>
<rect x="128.40" y="413.06" width="1.40" height="4.6" fill="#fff" stroke="#d3d6de" stroke-width="0.35"/>
<rect x="128.40" y="413.06" width="1.40" height="4.6" fill="url(#gY)"/>
<rect x="131.60" y="413.06" width="1.50" height="4.6" fill="#fff" stroke="#d3d6de" stroke-width="0.35"/>
<rect x="131.60" y="413.06" width="1.50" height="4.6" fill="url(#gY)"/>
<rect x="136.20" y="413.06" width="4.50" height="4.6" fill="#fff" stroke="#d3d6de" stroke-width="0.35"/>
<rect x="136.20" y="413.06" width="4.50" height="4.6" fill="url(#gY)"/>
<rect x="142.20" y="413.06" width="8.50" height="4.6" fill="#fff" stroke="#d3d6de" stroke-width="0.35"/>
<rect x="142.20" y="413.06" width="8.50" height="4.6" fill="url(#gY)"/>
<rect x="153.10" y="413.06" width="4.00" height="4.6" fill="#fff" stroke="#d3d6de" stroke-width="0.35"/>
<rect x="153.10" y="413.06" width="4.00" height="4.6" fill="url(#gY)"/>
<rect x="260.00" y="413.06" width="3.30" height="4.6" fill="#fff" stroke="#d3d6de" stroke-width="0.35"/>
<rect x="260.00" y="413.06" width="3.30" height="4.6" fill="url(#gY)"/>
<rect x="263.30" y="413.06" width="4.30" height="4.6" fill="#fff" stroke="#d3d6de" stroke-width="0.35"/>
<rect x="263.30" y="413.06" width="4.30" height="4.6" fill="url(#gG)"/>
<rect x="112.50" y="420.23" width="78.20" height="1.5" fill="#b4b4b4"/>
<rect x="112.50" y="418.98" width="5.50" height="4.6" fill="#fff" stroke="#d3d6de" stroke-width="0.35"/>
<rect x="112.50" y="418.98" width="5.50" height="4.6" fill="url(#gG)"/>
<rect x="118.00" y="418.98" width="2.40" height="4.6" fill="#fff" stroke="#d3d6de" stroke-width="0.35"/>
<rect x="118.00" y="418.98" width="2.40" height="4.6" fill="url(#gY)"/>
<rect x="122.90" y="418.98" width="1.50" height="4.6" fill="#fff" stroke="#d3d6de" stroke-width="0.35"/>
<rect x="122.90" y="418.98" width="1.50" height="4.6" fill="url(#gY)"/>
<rect x="128.00" y="418.98" width="0.90" height="4.6" fill="#fff" stroke="#d3d6de" stroke-width="0.35"/>
<rect x="128.00" y="418.98" width="0.90" height="4.6" fill="url(#gY)"/>
<rect x="139.80" y="418.98" width="3.30" height="4.6" fill="#fff" stroke="#d3d6de" stroke-width="0.35"/>
<rect x="139.80" y="418.98" width="3.30" height="4.6" fill="url(#gY)"/>
<rect x="164.70" y="418.98" width="11.50" height="4.6" fill="#fff" stroke="#d3d6de" stroke-width="0.35"/>
<rect x="164.70" y="418.98" width="11.50" height="4.6" fill="url(#gY)"/>
<rect x="180.70" y="418.98" width="5.10" height="4.6" fill="#fff" stroke="#d3d6de" stroke-width="0.35"/>
<rect x="180.70" y="418.98" width="5.10" height="4.6" fill="url(#gY)"/>
<rect x="185.80" y="418.98" width="4.90" height="4.6" fill="#fff" stroke="#d3d6de" stroke-width="0.35"/>
<rect x="185.80" y="418.98" width="4.90" height="4.6" fill="url(#gG)"/>
<rect x="112.50" y="426.16" width="47.30" height="1.5" fill="#b4b4b4"/>
<rect x="112.50" y="424.91" width="4.20" height="4.6" fill="#fff" stroke="#d3d6de" stroke-width="0.35"/>
<rect x="112.50" y="424.91" width="4.20" height="4.6" fill="url(#gG)"/>
<rect x="118.90" y="424.91" width="3.60" height="4.6" fill="#fff" stroke="#d3d6de" stroke-width="0.35"/>
<rect x="118.90" y="424.91" width="3.60" height="4.6" fill="url(#gY)"/>
<rect x="125.30" y="424.91" width="1.20" height="4.6" fill="#fff" stroke="#d3d6de" stroke-width="0.35"/>
<rect x="125.30" y="424.91" width="1.20" height="4.6" fill="url(#gY)"/>
<rect x="128.40" y="424.91" width="1.10" height="4.6" fill="#fff" stroke="#d3d6de" stroke-width="0.35"/>
<rect x="128.40" y="424.91" width="1.10" height="4.6" fill="url(#gY)"/>
<rect x="131.30" y="424.91" width="1.20" height="4.6" fill="#fff" stroke="#d3d6de" stroke-width="0.35"/>
<rect x="131.30" y="424.91" width="1.20" height="4.6" fill="url(#gY)"/>
<rect x="145.30" y="424.91" width="10.00" height="4.6" fill="#fff" stroke="#d3d6de" stroke-width="0.35"/>
<rect x="145.30" y="424.91" width="10.00" height="4.6" fill="url(#gY)"/>
<rect x="155.30" y="424.91" width="4.50" height="4.6" fill="#fff" stroke="#d3d6de" stroke-width="0.35"/>
<rect x="155.30" y="424.91" width="4.50" height="4.6" fill="url(#gG)"/>
<rect x="112.50" y="432.08" width="58.20" height="1.5" fill="#b4b4b4"/>
<rect x="112.50" y="430.83" width="6.40" height="4.6" fill="#fff" stroke="#d3d6de" stroke-width="0.35"/>
<rect x="112.50" y="430.83" width="6.40" height="4.6" fill="url(#gG)"/>
<rect x="118.90" y="430.83" width="2.70" height="4.6" fill="#fff" stroke="#d3d6de" stroke-width="0.35"/>
<rect x="118.90" y="430.83" width="2.70" height="4.6" fill="url(#gY)"/>
<rect x="131.30" y="430.83" width="1.80" height="4.6" fill="#fff" stroke="#d3d6de" stroke-width="0.35"/>
<rect x="131.30" y="430.83" width="1.80" height="4.6" fill="url(#gY)"/>
<rect x="137.10" y="430.83" width="0.90" height="4.6" fill="#fff" stroke="#d3d6de" stroke-width="0.35"/>
<rect x="137.10" y="430.83" width="0.90" height="4.6" fill="url(#gY)"/>
<rect x="151.60" y="430.83" width="0.90" height="4.6" fill="#fff" stroke="#d3d6de" stroke-width="0.35"/>
<rect x="151.60" y="430.83" width="0.90" height="4.6" fill="url(#gY)"/>
<rect x="154.90" y="430.83" width="8.60" height="4.6" fill="#fff" stroke="#d3d6de" stroke-width="0.35"/>
<rect x="154.90" y="430.83" width="8.60" height="4.6" fill="url(#gY)"/>
<rect x="163.50" y="430.83" width="7.20" height="4.6" fill="#fff" stroke="#d3d6de" stroke-width="0.35"/>
<rect x="163.50" y="430.83" width="7.20" height="4.6" fill="url(#gG)"/>
<rect x="112.50" y="438.01" width="65.00" height="1.5" fill="#b4b4b4"/>
<rect x="112.50" y="436.76" width="10.00" height="4.6" fill="#fff" stroke="#d3d6de" stroke-width="0.35"/>
<rect x="112.50" y="436.76" width="10.00" height="4.6" fill="url(#gG)"/>
<rect x="122.50" y="436.76" width="2.80" height="4.6" fill="#fff" stroke="#d3d6de" stroke-width="0.35"/>
<rect x="122.50" y="436.76" width="2.80" height="4.6" fill="url(#gY)"/>
<rect x="134.90" y="436.76" width="1.30" height="4.6" fill="#fff" stroke="#d3d6de" stroke-width="0.35"/>
<rect x="134.90" y="436.76" width="1.30" height="4.6" fill="url(#gY)"/>
<rect x="139.30" y="436.76" width="1.10" height="4.6" fill="#fff" stroke="#d3d6de" stroke-width="0.35"/>
<rect x="139.30" y="436.76" width="1.10" height="4.6" fill="url(#gY)"/>
<rect x="144.00" y="436.76" width="1.30" height="4.6" fill="#fff" stroke="#d3d6de" stroke-width="0.35"/>
<rect x="144.00" y="436.76" width="1.30" height="4.6" fill="url(#gY)"/>
<rect x="153.50" y="436.76" width="1.40" height="4.6" fill="#fff" stroke="#d3d6de" stroke-width="0.35"/>
<rect x="153.50" y="436.76" width="1.40" height="4.6" fill="url(#gY)"/>
<rect x="157.10" y="436.76" width="1.30" height="4.6" fill="#fff" stroke="#d3d6de" stroke-width="0.35"/>
<rect x="157.10" y="436.76" width="1.30" height="4.6" fill="url(#gY)"/>
<rect x="160.70" y="436.76" width="8.20" height="4.6" fill="#fff" stroke="#d3d6de" stroke-width="0.35"/>
<rect x="160.70" y="436.76" width="8.20" height="4.6" fill="url(#gY)"/>
<rect x="168.90" y="436.76" width="8.60" height="4.6" fill="#fff" stroke="#d3d6de" stroke-width="0.35"/>
<rect x="168.90" y="436.76" width="8.60" height="4.6" fill="url(#gG)"/>
<rect x="112.50" y="443.93" width="61.90" height="1.5" fill="#b4b4b4"/>
<rect x="112.50" y="442.68" width="6.40" height="4.6" fill="#fff" stroke="#d3d6de" stroke-width="0.35"/>
<rect x="112.50" y="442.68" width="6.40" height="4.6" fill="url(#gG)"/>
<rect x="118.90" y="442.68" width="2.70" height="4.6" fill="#fff" stroke="#d3d6de" stroke-width="0.35"/>
<rect x="118.90" y="442.68" width="2.70" height="4.6" fill="url(#gY)"/>
<rect x="131.60" y="442.68" width="1.30" height="4.6" fill="#fff" stroke="#d3d6de" stroke-width="0.35"/>
<rect x="131.60" y="442.68" width="1.30" height="4.6" fill="url(#gY)"/>
<rect x="136.20" y="442.68" width="1.30" height="4.6" fill="#fff" stroke="#d3d6de" stroke-width="0.35"/>
<rect x="136.20" y="442.68" width="1.30" height="4.6" fill="url(#gY)"/>
<rect x="140.70" y="442.68" width="1.30" height="4.6" fill="#fff" stroke="#d3d6de" stroke-width="0.35"/>
<rect x="140.70" y="442.68" width="1.30" height="4.6" fill="url(#gY)"/>
<rect x="153.50" y="442.68" width="1.40" height="4.6" fill="#fff" stroke="#d3d6de" stroke-width="0.35"/>
<rect x="153.50" y="442.68" width="1.40" height="4.6" fill="url(#gY)"/>
<rect x="158.00" y="442.68" width="8.20" height="4.6" fill="#fff" stroke="#d3d6de" stroke-width="0.35"/>
<rect x="158.00" y="442.68" width="8.20" height="4.6" fill="url(#gY)"/>
<rect x="166.20" y="442.68" width="8.20" height="4.6" fill="#fff" stroke="#d3d6de" stroke-width="0.35"/>
<rect x="166.20" y="442.68" width="8.20" height="4.6" fill="url(#gG)"/>
<rect x="112.50" y="449.85" width="45.00" height="1.5" fill="#b4b4b4"/>
<rect x="112.50" y="448.60" width="4.20" height="4.6" fill="#fff" stroke="#d3d6de" stroke-width="0.35"/>
<rect x="112.50" y="448.60" width="4.20" height="4.6" fill="url(#gG)"/>
<rect x="116.70" y="448.60" width="3.70" height="4.6" fill="#fff" stroke="#d3d6de" stroke-width="0.35"/>
<rect x="116.70" y="448.60" width="3.70" height="4.6" fill="url(#gY)"/>
<rect x="122.20" y="448.60" width="1.40" height="4.6" fill="#fff" stroke="#d3d6de" stroke-width="0.35"/>
<rect x="122.20" y="448.60" width="1.40" height="4.6" fill="url(#gY)"/>
<rect x="124.90" y="448.60" width="1.30" height="4.6" fill="#fff" stroke="#d3d6de" stroke-width="0.35"/>
<rect x="124.90" y="448.60" width="1.30" height="4.6" fill="url(#gY)"/>
<rect x="127.60" y="448.60" width="1.30" height="4.6" fill="#fff" stroke="#d3d6de" stroke-width="0.35"/>
<rect x="127.60" y="448.60" width="1.30" height="4.6" fill="url(#gY)"/>
<rect x="130.40" y="448.60" width="1.20" height="4.6" fill="#fff" stroke="#d3d6de" stroke-width="0.35"/>
<rect x="130.40" y="448.60" width="1.20" height="4.6" fill="url(#gY)"/>
<rect x="140.70" y="448.60" width="14.20" height="4.6" fill="#fff" stroke="#d3d6de" stroke-width="0.35"/>
<rect x="140.70" y="448.60" width="14.20" height="4.6" fill="url(#gY)"/>
<rect x="154.90" y="448.60" width="2.60" height="4.6" fill="#fff" stroke="#d3d6de" stroke-width="0.35"/>
<rect x="154.90" y="448.60" width="2.60" height="4.6" fill="url(#gG)"/>
<rect x="112.50" y="455.78" width="49.10" height="1.5" fill="#b4b4b4"/>
<rect x="112.50" y="454.53" width="4.20" height="4.6" fill="#fff" stroke="#d3d6de" stroke-width="0.35"/>
<rect x="112.50" y="454.53" width="4.20" height="4.6" fill="url(#gG)"/>
<rect x="116.70" y="454.53" width="3.70" height="4.6" fill="#fff" stroke="#d3d6de" stroke-width="0.35"/>
<rect x="116.70" y="454.53" width="3.70" height="4.6" fill="url(#gY)"/>
<rect x="122.20" y="454.53" width="1.40" height="4.6" fill="#fff" stroke="#d3d6de" stroke-width="0.35"/>
<rect x="122.20" y="454.53" width="1.40" height="4.6" fill="url(#gY)"/>
<rect x="124.90" y="454.53" width="1.30" height="4.6" fill="#fff" stroke="#d3d6de" stroke-width="0.35"/>
<rect x="124.90" y="454.53" width="1.30" height="4.6" fill="url(#gY)"/>
<rect x="127.60" y="454.53" width="1.30" height="4.6" fill="#fff" stroke="#d3d6de" stroke-width="0.35"/>
<rect x="127.60" y="454.53" width="1.30" height="4.6" fill="url(#gY)"/>
<rect x="130.40" y="454.53" width="1.20" height="4.6" fill="#fff" stroke="#d3d6de" stroke-width="0.35"/>
<rect x="130.40" y="454.53" width="1.20" height="4.6" fill="url(#gY)"/>
<rect x="141.30" y="454.53" width="14.30" height="4.6" fill="#fff" stroke="#d3d6de" stroke-width="0.35"/>
<rect x="141.30" y="454.53" width="14.30" height="4.6" fill="url(#gY)"/>
<rect x="155.60" y="454.53" width="6.00" height="4.6" fill="#fff" stroke="#d3d6de" stroke-width="0.35"/>
<rect x="155.60" y="454.53" width="6.00" height="4.6" fill="url(#gG)"/>
<rect x="112.50" y="461.70" width="54.60" height="1.5" fill="#b4b4b4"/>
<rect x="112.50" y="460.45" width="5.50" height="4.6" fill="#fff" stroke="#d3d6de" stroke-width="0.35"/>
<rect x="112.50" y="460.45" width="5.50" height="4.6" fill="url(#gG)"/>
<rect x="118.00" y="460.45" width="3.60" height="4.6" fill="#fff" stroke="#d3d6de" stroke-width="0.35"/>
<rect x="118.00" y="460.45" width="3.60" height="4.6" fill="url(#gY)"/>
<rect x="124.00" y="460.45" width="1.30" height="4.6" fill="#fff" stroke="#d3d6de" stroke-width="0.35"/>
<rect x="124.00" y="460.45" width="1.30" height="4.6" fill="url(#gY)"/>
<rect x="127.60" y="460.45" width="1.30" height="4.6" fill="#fff" stroke="#d3d6de" stroke-width="0.35"/>
<rect x="127.60" y="460.45" width="1.30" height="4.6" fill="url(#gY)"/>
<rect x="130.70" y="460.45" width="1.30" height="4.6" fill="#fff" stroke="#d3d6de" stroke-width="0.35"/>
<rect x="130.70" y="460.45" width="1.30" height="4.6" fill="url(#gY)"/>
<rect x="133.50" y="460.45" width="1.40" height="4.6" fill="#fff" stroke="#d3d6de" stroke-width="0.35"/>
<rect x="133.50" y="460.45" width="1.40" height="4.6" fill="url(#gY)"/>
<rect x="149.50" y="460.45" width="10.90" height="4.6" fill="#fff" stroke="#d3d6de" stroke-width="0.35"/>
<rect x="149.50" y="460.45" width="10.90" height="4.6" fill="url(#gY)"/>
<rect x="160.40" y="460.45" width="6.70" height="4.6" fill="#fff" stroke="#d3d6de" stroke-width="0.35"/>
<rect x="160.40" y="460.45" width="6.70" height="4.6" fill="url(#gG)"/>
<rect x="112.50" y="467.63" width="54.60" height="1.5" fill="#b4b4b4"/>
<rect x="112.50" y="466.38" width="5.50" height="4.6" fill="#fff" stroke="#d3d6de" stroke-width="0.35"/>
<rect x="112.50" y="466.38" width="5.50" height="4.6" fill="url(#gG)"/>
<rect x="118.00" y="466.38" width="3.60" height="4.6" fill="#fff" stroke="#d3d6de" stroke-width="0.35"/>
<rect x="118.00" y="466.38" width="3.60" height="4.6" fill="url(#gY)"/>
<rect x="124.00" y="466.38" width="1.30" height="4.6" fill="#fff" stroke="#d3d6de" stroke-width="0.35"/>
<rect x="124.00" y="466.38" width="1.30" height="4.6" fill="url(#gY)"/>
<rect x="127.60" y="466.38" width="1.30" height="4.6" fill="#fff" stroke="#d3d6de" stroke-width="0.35"/>
<rect x="127.60" y="466.38" width="1.30" height="4.6" fill="url(#gY)"/>
<rect x="130.70" y="466.38" width="1.30" height="4.6" fill="#fff" stroke="#d3d6de" stroke-width="0.35"/>
<rect x="130.70" y="466.38" width="1.30" height="4.6" fill="url(#gY)"/>
<rect x="133.50" y="466.38" width="1.40" height="4.6" fill="#fff" stroke="#d3d6de" stroke-width="0.35"/>
<rect x="133.50" y="466.38" width="1.40" height="4.6" fill="url(#gY)"/>
<rect x="149.50" y="466.38" width="10.90" height="4.6" fill="#fff" stroke="#d3d6de" stroke-width="0.35"/>
<rect x="149.50" y="466.38" width="10.90" height="4.6" fill="url(#gY)"/>
<rect x="160.40" y="466.38" width="6.70" height="4.6" fill="#fff" stroke="#d3d6de" stroke-width="0.35"/>
<rect x="160.40" y="466.38" width="6.70" height="4.6" fill="url(#gG)"/>
<rect x="112.50" y="473.55" width="51.00" height="1.5" fill="#b4b4b4"/>
<rect x="112.50" y="472.30" width="4.20" height="4.6" fill="#fff" stroke="#d3d6de" stroke-width="0.35"/>
<rect x="112.50" y="472.30" width="4.20" height="4.6" fill="url(#gG)"/>
<rect x="116.70" y="472.30" width="4.00" height="4.6" fill="#fff" stroke="#d3d6de" stroke-width="0.35"/>
<rect x="116.70" y="472.30" width="4.00" height="4.6" fill="url(#gY)"/>
<rect x="122.90" y="472.30" width="1.50" height="4.6" fill="#fff" stroke="#d3d6de" stroke-width="0.35"/>
<rect x="122.90" y="472.30" width="1.50" height="4.6" fill="url(#gY)"/>
<rect x="126.20" y="472.30" width="1.30" height="4.6" fill="#fff" stroke="#d3d6de" stroke-width="0.35"/>
<rect x="126.20" y="472.30" width="1.30" height="4.6" fill="url(#gY)"/>
<rect x="128.90" y="472.30" width="1.30" height="4.6" fill="#fff" stroke="#d3d6de" stroke-width="0.35"/>
<rect x="128.90" y="472.30" width="1.30" height="4.6" fill="url(#gY)"/>
<rect x="132.00" y="472.30" width="1.50" height="4.6" fill="#fff" stroke="#d3d6de" stroke-width="0.35"/>
<rect x="132.00" y="472.30" width="1.50" height="4.6" fill="url(#gY)"/>
<rect x="148.40" y="472.30" width="11.40" height="4.6" fill="#fff" stroke="#d3d6de" stroke-width="0.35"/>
<rect x="148.40" y="472.30" width="11.40" height="4.6" fill="url(#gY)"/>
<rect x="159.80" y="472.30" width="3.70" height="4.6" fill="#fff" stroke="#d3d6de" stroke-width="0.35"/>
<rect x="159.80" y="472.30" width="3.70" height="4.6" fill="url(#gG)"/>
<rect x="112.6" y="479.9" width="201.4" height="1.0" fill="#8a8a8a"/>
<rect x="113.00" y="480.4" width="0.8" height="2.0" fill="#999"/>
<rect x="153.00" y="480.4" width="0.8" height="2.0" fill="#999"/>
<rect x="193.00" y="480.4" width="0.8" height="2.0" fill="#999"/>
<rect x="233.00" y="480.4" width="0.8" height="2.0" fill="#999"/>
<rect x="273.00" y="480.4" width="0.8" height="2.0" fill="#999"/>
<rect x="313.00" y="480.4" width="0.8" height="2.0" fill="#999"/>
<text x="115.00" y="492.4" font-size="6.2" font-weight="bold" fill="#222" stroke="#222" stroke-width="0.16" text-anchor="middle">0</text>
<text x="153.50" y="492.4" font-size="6.2" font-weight="bold" fill="#222" stroke="#222" stroke-width="0.16" text-anchor="middle">2,000</text>
<text x="193.50" y="492.4" font-size="6.2" font-weight="bold" fill="#222" stroke="#222" stroke-width="0.16" text-anchor="middle">4,000</text>
<text x="232.60" y="492.4" font-size="6.2" font-weight="bold" fill="#222" stroke="#222" stroke-width="0.16" text-anchor="middle">6,000</text>
<text x="273.90" y="492.4" font-size="6.2" font-weight="bold" fill="#222" stroke="#222" stroke-width="0.16" text-anchor="middle">8,000</text>
<text x="305.30" y="492.4" font-size="6.2" font-weight="bold" fill="#222" stroke="#222" stroke-width="0.16" text-anchor="middle">10,000</text>
<text x="106.7" y="481.6" font-size="7.6" fill="#333">5'</text>
<text x="314.6" y="481.6" font-size="7.6" fill="#333">3'</text>
<rect x="334.20" y="29.20" width="154.90" height="1.6" fill="#b8b8b8"/>
<rect x="339.10" y="27.70" width="9.60" height="4.7" fill="#fff" stroke="#d8dae0" stroke-width="0.3"/>
<rect x="339.10" y="27.70" width="9.60" height="4.7" fill="url(#m4)"/>
<rect x="353.10" y="27.70" width="12.40" height="4.7" fill="#fff" stroke="#d8dae0" stroke-width="0.3"/>
<rect x="353.10" y="27.70" width="12.40" height="4.7" fill="url(#m1)"/>
<rect x="365.50" y="27.70" width="6.90" height="4.7" fill="#fff" stroke="#d8dae0" stroke-width="0.3"/>
<rect x="365.50" y="27.70" width="6.90" height="4.7" fill="url(#m5)"/>
<rect x="383.10" y="27.70" width="8.70" height="4.7" fill="#fff" stroke="#d8dae0" stroke-width="0.3"/>
<rect x="383.10" y="27.70" width="8.70" height="4.7" fill="url(#m3)"/>
<rect x="391.80" y="27.70" width="2.00" height="4.7" fill="#fff" stroke="#d8dae0" stroke-width="0.3"/>
<rect x="391.80" y="27.70" width="2.00" height="4.7" fill="url(#m8)"/>
<rect x="395.50" y="27.70" width="4.50" height="4.7" fill="#fff" stroke="#d8dae0" stroke-width="0.3"/>
<rect x="395.50" y="27.70" width="4.50" height="4.7" fill="url(#m2)"/>
<rect x="416.90" y="27.70" width="2.20" height="4.7" fill="#fff" stroke="#d8dae0" stroke-width="0.3"/>
<rect x="416.90" y="27.70" width="2.20" height="4.7" fill="url(#m8)"/>
<rect x="334.20" y="35.12" width="157.30" height="1.6" fill="#b8b8b8"/>
<rect x="340.00" y="33.62" width="9.60" height="4.7" fill="#fff" stroke="#d8dae0" stroke-width="0.3"/>
<rect x="340.00" y="33.62" width="9.60" height="4.7" fill="url(#m4)"/>
<rect x="353.60" y="33.62" width="12.80" height="4.7" fill="#fff" stroke="#d8dae0" stroke-width="0.3"/>
<rect x="353.60" y="33.62" width="12.80" height="4.7" fill="url(#m1)"/>
<rect x="366.40" y="33.62" width="6.90" height="4.7" fill="#fff" stroke="#d8dae0" stroke-width="0.3"/>
<rect x="366.40" y="33.62" width="6.90" height="4.7" fill="url(#m5)"/>
<rect x="384.00" y="33.62" width="8.70" height="4.7" fill="#fff" stroke="#d8dae0" stroke-width="0.3"/>
<rect x="384.00" y="33.62" width="8.70" height="4.7" fill="url(#m3)"/>
<rect x="392.70" y="33.62" width="2.00" height="4.7" fill="#fff" stroke="#d8dae0" stroke-width="0.3"/>
<rect x="392.70" y="33.62" width="2.00" height="4.7" fill="url(#m8)"/>
<rect x="396.20" y="33.62" width="4.70" height="4.7" fill="#fff" stroke="#d8dae0" stroke-width="0.3"/>
<rect x="396.20" y="33.62" width="4.70" height="4.7" fill="url(#m2)"/>
<rect x="417.30" y="33.62" width="2.20" height="4.7" fill="#fff" stroke="#d8dae0" stroke-width="0.3"/>
<rect x="417.30" y="33.62" width="2.20" height="4.7" fill="url(#m8)"/>
<rect x="334.20" y="41.05" width="152.50" height="1.6" fill="#b8b8b8"/>
<rect x="340.00" y="39.55" width="9.60" height="4.7" fill="#fff" stroke="#d8dae0" stroke-width="0.3"/>
<rect x="340.00" y="39.55" width="9.60" height="4.7" fill="url(#m4)"/>
<rect x="353.60" y="39.55" width="12.40" height="4.7" fill="#fff" stroke="#d8dae0" stroke-width="0.3"/>
<rect x="353.60" y="39.55" width="12.40" height="4.7" fill="url(#m1)"/>
<rect x="366.00" y="39.55" width="6.70" height="4.7" fill="#fff" stroke="#d8dae0" stroke-width="0.3"/>
<rect x="366.00" y="39.55" width="6.70" height="4.7" fill="url(#m5)"/>
<rect x="383.10" y="39.55" width="8.70" height="4.7" fill="#fff" stroke="#d8dae0" stroke-width="0.3"/>
<rect x="383.10" y="39.55" width="8.70" height="4.7" fill="url(#m3)"/>
<rect x="391.80" y="39.55" width="2.00" height="4.7" fill="#fff" stroke="#d8dae0" stroke-width="0.3"/>
<rect x="391.80" y="39.55" width="2.00" height="4.7" fill="url(#m8)"/>
<rect x="395.30" y="39.55" width="4.70" height="4.7" fill="#fff" stroke="#d8dae0" stroke-width="0.3"/>
<rect x="395.30" y="39.55" width="4.70" height="4.7" fill="url(#m2)"/>
<rect x="334.20" y="46.97" width="165.80" height="1.6" fill="#b8b8b8"/>
<rect x="340.50" y="45.47" width="9.50" height="4.7" fill="#fff" stroke="#d8dae0" stroke-width="0.3"/>
<rect x="340.50" y="45.47" width="9.50" height="4.7" fill="url(#m4)"/>
<rect x="354.20" y="45.47" width="12.20" height="4.7" fill="#fff" stroke="#d8dae0" stroke-width="0.3"/>
<rect x="354.20" y="45.47" width="12.20" height="4.7" fill="url(#m1)"/>
<rect x="366.40" y="45.47" width="6.90" height="4.7" fill="#fff" stroke="#d8dae0" stroke-width="0.3"/>
<rect x="366.40" y="45.47" width="6.90" height="4.7" fill="url(#m5)"/>
<rect x="385.10" y="45.47" width="8.50" height="4.7" fill="#fff" stroke="#d8dae0" stroke-width="0.3"/>
<rect x="385.10" y="45.47" width="8.50" height="4.7" fill="url(#m3)"/>
<rect x="393.60" y="45.47" width="2.00" height="4.7" fill="#fff" stroke="#d8dae0" stroke-width="0.3"/>
<rect x="393.60" y="45.47" width="2.00" height="4.7" fill="url(#m8)"/>
<rect x="397.30" y="45.47" width="5.10" height="4.7" fill="#fff" stroke="#d8dae0" stroke-width="0.3"/>
<rect x="397.30" y="45.47" width="5.10" height="4.7" fill="url(#m2)"/>
<rect x="334.20" y="52.90" width="166.30" height="1.6" fill="#b8b8b8"/>
<rect x="340.50" y="51.40" width="9.50" height="4.7" fill="#fff" stroke="#d8dae0" stroke-width="0.3"/>
<rect x="340.50" y="51.40" width="9.50" height="4.7" fill="url(#m4)"/>
<rect x="354.20" y="51.40" width="12.20" height="4.7" fill="#fff" stroke="#d8dae0" stroke-width="0.3"/>
<rect x="354.20" y="51.40" width="12.20" height="4.7" fill="url(#m1)"/>
<rect x="366.40" y="51.40" width="6.90" height="4.7" fill="#fff" stroke="#d8dae0" stroke-width="0.3"/>
<rect x="366.40" y="51.40" width="6.90" height="4.7" fill="url(#m5)"/>
<rect x="385.50" y="51.40" width="8.50" height="4.7" fill="#fff" stroke="#d8dae0" stroke-width="0.3"/>
<rect x="385.50" y="51.40" width="8.50" height="4.7" fill="url(#m3)"/>
<rect x="394.00" y="51.40" width="2.00" height="4.7" fill="#fff" stroke="#d8dae0" stroke-width="0.3"/>
<rect x="394.00" y="51.40" width="2.00" height="4.7" fill="url(#m8)"/>
<rect x="397.70" y="51.40" width="5.00" height="4.7" fill="#fff" stroke="#d8dae0" stroke-width="0.3"/>
<rect x="397.70" y="51.40" width="5.00" height="4.7" fill="url(#m2)"/>
<rect x="334.20" y="58.82" width="166.30" height="1.6" fill="#b8b8b8"/>
<rect x="340.50" y="57.32" width="9.50" height="4.7" fill="#fff" stroke="#d8dae0" stroke-width="0.3"/>
<rect x="340.50" y="57.32" width="9.50" height="4.7" fill="url(#m4)"/>
<rect x="354.20" y="57.32" width="12.20" height="4.7" fill="#fff" stroke="#d8dae0" stroke-width="0.3"/>
<rect x="354.20" y="57.32" width="12.20" height="4.7" fill="url(#m1)"/>
<rect x="366.40" y="57.32" width="6.90" height="4.7" fill="#fff" stroke="#d8dae0" stroke-width="0.3"/>
<rect x="366.40" y="57.32" width="6.90" height="4.7" fill="url(#m5)"/>
<rect x="385.50" y="57.32" width="8.50" height="4.7" fill="#fff" stroke="#d8dae0" stroke-width="0.3"/>
<rect x="385.50" y="57.32" width="8.50" height="4.7" fill="url(#m3)"/>
<rect x="394.00" y="57.32" width="2.00" height="4.7" fill="#fff" stroke="#d8dae0" stroke-width="0.3"/>
<rect x="394.00" y="57.32" width="2.00" height="4.7" fill="url(#m8)"/>
<rect x="397.70" y="57.32" width="5.00" height="4.7" fill="#fff" stroke="#d8dae0" stroke-width="0.3"/>
<rect x="397.70" y="57.32" width="5.00" height="4.7" fill="url(#m2)"/>
<rect x="334.20" y="64.74" width="151.60" height="1.6" fill="#b8b8b8"/>
<rect x="340.50" y="63.24" width="9.50" height="4.7" fill="#fff" stroke="#d8dae0" stroke-width="0.3"/>
<rect x="340.50" y="63.24" width="9.50" height="4.7" fill="url(#m4)"/>
<rect x="354.20" y="63.24" width="12.20" height="4.7" fill="#fff" stroke="#d8dae0" stroke-width="0.3"/>
<rect x="354.20" y="63.24" width="12.20" height="4.7" fill="url(#m1)"/>
<rect x="366.40" y="63.24" width="6.90" height="4.7" fill="#fff" stroke="#d8dae0" stroke-width="0.3"/>
<rect x="366.40" y="63.24" width="6.90" height="4.7" fill="url(#m5)"/>
<rect x="384.00" y="63.24" width="8.70" height="4.7" fill="#fff" stroke="#d8dae0" stroke-width="0.3"/>
<rect x="384.00" y="63.24" width="8.70" height="4.7" fill="url(#m3)"/>
<rect x="392.70" y="63.24" width="2.00" height="4.7" fill="#fff" stroke="#d8dae0" stroke-width="0.3"/>
<rect x="392.70" y="63.24" width="2.00" height="4.7" fill="url(#m8)"/>
<rect x="396.40" y="63.24" width="4.90" height="4.7" fill="#fff" stroke="#d8dae0" stroke-width="0.3"/>
<rect x="396.40" y="63.24" width="4.90" height="4.7" fill="url(#m2)"/>
<rect x="334.20" y="70.67" width="170.00" height="1.6" fill="#b8b8b8"/>
<rect x="338.50" y="69.17" width="9.70" height="4.7" fill="#fff" stroke="#d8dae0" stroke-width="0.3"/>
<rect x="338.50" y="69.17" width="9.70" height="4.7" fill="url(#m4)"/>
<rect x="352.40" y="69.17" width="12.10" height="4.7" fill="#fff" stroke="#d8dae0" stroke-width="0.3"/>
<rect x="352.40" y="69.17" width="12.10" height="4.7" fill="url(#m1)"/>
<rect x="364.50" y="69.17" width="7.00" height="4.7" fill="#fff" stroke="#d8dae0" stroke-width="0.3"/>
<rect x="364.50" y="69.17" width="7.00" height="4.7" fill="url(#m5)"/>
<rect x="384.00" y="69.17" width="8.70" height="4.7" fill="#fff" stroke="#d8dae0" stroke-width="0.3"/>
<rect x="384.00" y="69.17" width="8.70" height="4.7" fill="url(#m3)"/>
<rect x="392.70" y="69.17" width="2.00" height="4.7" fill="#fff" stroke="#d8dae0" stroke-width="0.3"/>
<rect x="392.70" y="69.17" width="2.00" height="4.7" fill="url(#m8)"/>
<rect x="396.40" y="69.17" width="4.90" height="4.7" fill="#fff" stroke="#d8dae0" stroke-width="0.3"/>
<rect x="396.40" y="69.17" width="4.90" height="4.7" fill="url(#m2)"/>
<rect x="406.00" y="69.17" width="10.40" height="4.7" fill="#fff" stroke="#d8dae0" stroke-width="0.3"/>
<rect x="406.00" y="69.17" width="10.40" height="4.7" fill="url(#m7)"/>
<rect x="334.20" y="76.59" width="170.30" height="1.6" fill="#b8b8b8"/>
<rect x="338.50" y="75.09" width="9.70" height="4.7" fill="#fff" stroke="#d8dae0" stroke-width="0.3"/>
<rect x="338.50" y="75.09" width="9.70" height="4.7" fill="url(#m4)"/>
<rect x="352.40" y="75.09" width="12.10" height="4.7" fill="#fff" stroke="#d8dae0" stroke-width="0.3"/>
<rect x="352.40" y="75.09" width="12.10" height="4.7" fill="url(#m1)"/>
<rect x="364.50" y="75.09" width="7.00" height="4.7" fill="#fff" stroke="#d8dae0" stroke-width="0.3"/>
<rect x="364.50" y="75.09" width="7.00" height="4.7" fill="url(#m5)"/>
<rect x="384.00" y="75.09" width="8.70" height="4.7" fill="#fff" stroke="#d8dae0" stroke-width="0.3"/>
<rect x="384.00" y="75.09" width="8.70" height="4.7" fill="url(#m3)"/>
<rect x="392.70" y="75.09" width="2.00" height="4.7" fill="#fff" stroke="#d8dae0" stroke-width="0.3"/>
<rect x="392.70" y="75.09" width="2.00" height="4.7" fill="url(#m8)"/>
<rect x="396.40" y="75.09" width="4.90" height="4.7" fill="#fff" stroke="#d8dae0" stroke-width="0.3"/>
<rect x="396.40" y="75.09" width="4.90" height="4.7" fill="url(#m2)"/>
<rect x="406.00" y="75.09" width="10.40" height="4.7" fill="#fff" stroke="#d8dae0" stroke-width="0.3"/>
<rect x="406.00" y="75.09" width="10.40" height="4.7" fill="url(#m7)"/>
<rect x="334.20" y="82.52" width="170.70" height="1.6" fill="#b8b8b8"/>
<rect x="338.50" y="81.02" width="9.70" height="4.7" fill="#fff" stroke="#d8dae0" stroke-width="0.3"/>
<rect x="338.50" y="81.02" width="9.70" height="4.7" fill="url(#m4)"/>
<rect x="352.40" y="81.02" width="12.10" height="4.7" fill="#fff" stroke="#d8dae0" stroke-width="0.3"/>
<rect x="352.40" y="81.02" width="12.10" height="4.7" fill="url(#m1)"/>
<rect x="364.50" y="81.02" width="7.00" height="4.7" fill="#fff" stroke="#d8dae0" stroke-width="0.3"/>
<rect x="364.50" y="81.02" width="7.00" height="4.7" fill="url(#m5)"/>
<rect x="384.00" y="81.02" width="8.70" height="4.7" fill="#fff" stroke="#d8dae0" stroke-width="0.3"/>
<rect x="384.00" y="81.02" width="8.70" height="4.7" fill="url(#m3)"/>
<rect x="392.70" y="81.02" width="2.00" height="4.7" fill="#fff" stroke="#d8dae0" stroke-width="0.3"/>
<rect x="392.70" y="81.02" width="2.00" height="4.7" fill="url(#m8)"/>
<rect x="396.40" y="81.02" width="4.90" height="4.7" fill="#fff" stroke="#d8dae0" stroke-width="0.3"/>
<rect x="396.40" y="81.02" width="4.90" height="4.7" fill="url(#m2)"/>
<rect x="406.00" y="81.02" width="10.40" height="4.7" fill="#fff" stroke="#d8dae0" stroke-width="0.3"/>
<rect x="406.00" y="81.02" width="10.40" height="4.7" fill="url(#m7)"/>
<rect x="334.20" y="88.44" width="170.70" height="1.6" fill="#b8b8b8"/>
<rect x="337.30" y="86.94" width="10.00" height="4.7" fill="#fff" stroke="#d8dae0" stroke-width="0.3"/>
<rect x="337.30" y="86.94" width="10.00" height="4.7" fill="url(#m4)"/>
<rect x="351.30" y="86.94" width="12.00" height="4.7" fill="#fff" stroke="#d8dae0" stroke-width="0.3"/>
<rect x="351.30" y="86.94" width="12.00" height="4.7" fill="url(#m1)"/>
<rect x="363.30" y="86.94" width="7.10" height="4.7" fill="#fff" stroke="#d8dae0" stroke-width="0.3"/>
<rect x="363.30" y="86.94" width="7.10" height="4.7" fill="url(#m5)"/>
<rect x="381.80" y="86.94" width="8.60" height="4.7" fill="#fff" stroke="#d8dae0" stroke-width="0.3"/>
<rect x="381.80" y="86.94" width="8.60" height="4.7" fill="url(#m3)"/>
<rect x="390.40" y="86.94" width="2.00" height="4.7" fill="#fff" stroke="#d8dae0" stroke-width="0.3"/>
<rect x="390.40" y="86.94" width="2.00" height="4.7" fill="url(#m8)"/>
<rect x="394.10" y="86.94" width="4.60" height="4.7" fill="#fff" stroke="#d8dae0" stroke-width="0.3"/>
<rect x="394.10" y="86.94" width="4.60" height="4.7" fill="url(#m2)"/>
<rect x="334.20" y="94.36" width="170.70" height="1.6" fill="#b8b8b8"/>
<rect x="337.30" y="92.86" width="10.00" height="4.7" fill="#fff" stroke="#d8dae0" stroke-width="0.3"/>
<rect x="337.30" y="92.86" width="10.00" height="4.7" fill="url(#m4)"/>
<rect x="351.30" y="92.86" width="12.00" height="4.7" fill="#fff" stroke="#d8dae0" stroke-width="0.3"/>
<rect x="351.30" y="92.86" width="12.00" height="4.7" fill="url(#m1)"/>
<rect x="363.30" y="92.86" width="7.10" height="4.7" fill="#fff" stroke="#d8dae0" stroke-width="0.3"/>
<rect x="363.30" y="92.86" width="7.10" height="4.7" fill="url(#m5)"/>
<rect x="381.80" y="92.86" width="8.60" height="4.7" fill="#fff" stroke="#d8dae0" stroke-width="0.3"/>
<rect x="381.80" y="92.86" width="8.60" height="4.7" fill="url(#m3)"/>
<rect x="390.40" y="92.86" width="2.00" height="4.7" fill="#fff" stroke="#d8dae0" stroke-width="0.3"/>
<rect x="390.40" y="92.86" width="2.00" height="4.7" fill="url(#m8)"/>
<rect x="394.10" y="92.86" width="4.60" height="4.7" fill="#fff" stroke="#d8dae0" stroke-width="0.3"/>
<rect x="394.10" y="92.86" width="4.60" height="4.7" fill="url(#m2)"/>
<rect x="334.20" y="100.29" width="170.70" height="1.6" fill="#b8b8b8"/>
<rect x="337.30" y="98.79" width="10.00" height="4.7" fill="#fff" stroke="#d8dae0" stroke-width="0.3"/>
<rect x="337.30" y="98.79" width="10.00" height="4.7" fill="url(#m4)"/>
<rect x="351.30" y="98.79" width="12.00" height="4.7" fill="#fff" stroke="#d8dae0" stroke-width="0.3"/>
<rect x="351.30" y="98.79" width="12.00" height="4.7" fill="url(#m1)"/>
<rect x="363.30" y="98.79" width="7.10" height="4.7" fill="#fff" stroke="#d8dae0" stroke-width="0.3"/>
<rect x="363.30" y="98.79" width="7.10" height="4.7" fill="url(#m5)"/>
<rect x="381.80" y="98.79" width="8.60" height="4.7" fill="#fff" stroke="#d8dae0" stroke-width="0.3"/>
<rect x="381.80" y="98.79" width="8.60" height="4.7" fill="url(#m3)"/>
<rect x="390.40" y="98.79" width="2.00" height="4.7" fill="#fff" stroke="#d8dae0" stroke-width="0.3"/>
<rect x="390.40" y="98.79" width="2.00" height="4.7" fill="url(#m8)"/>
<rect x="394.10" y="98.79" width="4.60" height="4.7" fill="#fff" stroke="#d8dae0" stroke-width="0.3"/>
<rect x="394.10" y="98.79" width="4.60" height="4.7" fill="url(#m2)"/>
<rect x="334.20" y="106.21" width="147.30" height="1.6" fill="#b8b8b8"/>
<rect x="335.80" y="104.71" width="10.20" height="4.7" fill="#fff" stroke="#d8dae0" stroke-width="0.3"/>
<rect x="335.80" y="104.71" width="10.20" height="4.7" fill="url(#m4)"/>
<rect x="349.60" y="104.71" width="12.60" height="4.7" fill="#fff" stroke="#d8dae0" stroke-width="0.3"/>
<rect x="349.60" y="104.71" width="12.60" height="4.7" fill="url(#m1)"/>
<rect x="362.20" y="104.71" width="6.90" height="4.7" fill="#fff" stroke="#d8dae0" stroke-width="0.3"/>
<rect x="362.20" y="104.71" width="6.90" height="4.7" fill="url(#m5)"/>
<rect x="378.70" y="104.71" width="9.10" height="4.7" fill="#fff" stroke="#d8dae0" stroke-width="0.3"/>
<rect x="378.70" y="104.71" width="9.10" height="4.7" fill="url(#m3)"/>
<rect x="387.80" y="104.71" width="2.00" height="4.7" fill="#fff" stroke="#d8dae0" stroke-width="0.3"/>
<rect x="387.80" y="104.71" width="2.00" height="4.7" fill="url(#m8)"/>
<rect x="391.30" y="104.71" width="4.50" height="4.7" fill="#fff" stroke="#d8dae0" stroke-width="0.3"/>
<rect x="391.30" y="104.71" width="4.50" height="4.7" fill="url(#m2)"/>
<rect x="334.20" y="112.14" width="147.30" height="1.6" fill="#b8b8b8"/>
<rect x="335.80" y="110.64" width="10.20" height="4.7" fill="#fff" stroke="#d8dae0" stroke-width="0.3"/>
<rect x="335.80" y="110.64" width="10.20" height="4.7" fill="url(#m4)"/>
<rect x="349.60" y="110.64" width="12.60" height="4.7" fill="#fff" stroke="#d8dae0" stroke-width="0.3"/>
<rect x="349.60" y="110.64" width="12.60" height="4.7" fill="url(#m1)"/>
<rect x="362.20" y="110.64" width="6.90" height="4.7" fill="#fff" stroke="#d8dae0" stroke-width="0.3"/>
<rect x="362.20" y="110.64" width="6.90" height="4.7" fill="url(#m5)"/>
<rect x="378.70" y="110.64" width="9.10" height="4.7" fill="#fff" stroke="#d8dae0" stroke-width="0.3"/>
<rect x="378.70" y="110.64" width="9.10" height="4.7" fill="url(#m3)"/>
<rect x="387.80" y="110.64" width="2.00" height="4.7" fill="#fff" stroke="#d8dae0" stroke-width="0.3"/>
<rect x="387.80" y="110.64" width="2.00" height="4.7" fill="url(#m8)"/>
<rect x="391.30" y="110.64" width="4.50" height="4.7" fill="#fff" stroke="#d8dae0" stroke-width="0.3"/>
<rect x="391.30" y="110.64" width="4.50" height="4.7" fill="url(#m2)"/>
<rect x="334.20" y="118.06" width="157.30" height="1.6" fill="#b8b8b8"/>
<rect x="336.00" y="116.56" width="9.80" height="4.7" fill="#fff" stroke="#d8dae0" stroke-width="0.3"/>
<rect x="336.00" y="116.56" width="9.80" height="4.7" fill="url(#m4)"/>
<rect x="359.60" y="116.56" width="12.60" height="4.7" fill="#fff" stroke="#d8dae0" stroke-width="0.3"/>
<rect x="359.60" y="116.56" width="12.60" height="4.7" fill="url(#m1)"/>
<rect x="372.20" y="116.56" width="6.90" height="4.7" fill="#fff" stroke="#d8dae0" stroke-width="0.3"/>
<rect x="372.20" y="116.56" width="6.90" height="4.7" fill="url(#m5)"/>
<rect x="388.50" y="116.56" width="9.10" height="4.7" fill="#fff" stroke="#d8dae0" stroke-width="0.3"/>
<rect x="388.50" y="116.56" width="9.10" height="4.7" fill="url(#m3)"/>
<rect x="397.60" y="116.56" width="2.00" height="4.7" fill="#fff" stroke="#d8dae0" stroke-width="0.3"/>
<rect x="397.60" y="116.56" width="2.00" height="4.7" fill="url(#m8)"/>
<rect x="400.90" y="116.56" width="4.90" height="4.7" fill="#fff" stroke="#d8dae0" stroke-width="0.3"/>
<rect x="400.90" y="116.56" width="4.90" height="4.7" fill="url(#m2)"/>
<rect x="334.20" y="123.98" width="156.70" height="1.6" fill="#b8b8b8"/>
<rect x="339.10" y="122.48" width="9.60" height="4.7" fill="#fff" stroke="#d8dae0" stroke-width="0.3"/>
<rect x="339.10" y="122.48" width="9.60" height="4.7" fill="url(#m4)"/>
<rect x="352.70" y="122.48" width="12.40" height="4.7" fill="#fff" stroke="#d8dae0" stroke-width="0.3"/>
<rect x="352.70" y="122.48" width="12.40" height="4.7" fill="url(#m1)"/>
<rect x="365.10" y="122.48" width="7.10" height="4.7" fill="#fff" stroke="#d8dae0" stroke-width="0.3"/>
<rect x="365.10" y="122.48" width="7.10" height="4.7" fill="url(#m5)"/>
<rect x="381.80" y="122.48" width="8.70" height="4.7" fill="#fff" stroke="#d8dae0" stroke-width="0.3"/>
<rect x="381.80" y="122.48" width="8.70" height="4.7" fill="url(#m3)"/>
<rect x="390.50" y="122.48" width="2.00" height="4.7" fill="#fff" stroke="#d8dae0" stroke-width="0.3"/>
<rect x="390.50" y="122.48" width="2.00" height="4.7" fill="url(#m8)"/>
<rect x="394.00" y="122.48" width="5.10" height="4.7" fill="#fff" stroke="#d8dae0" stroke-width="0.3"/>
<rect x="394.00" y="122.48" width="5.10" height="4.7" fill="url(#m2)"/>
<rect x="470.00" y="122.48" width="11.80" height="4.7" fill="#fff" stroke="#d8dae0" stroke-width="0.3"/>
<rect x="470.00" y="122.48" width="11.80" height="4.7" fill="url(#m6)"/>
<rect x="334.20" y="129.91" width="163.10" height="1.6" fill="#b8b8b8"/>
<rect x="339.10" y="128.41" width="9.60" height="4.7" fill="#fff" stroke="#d8dae0" stroke-width="0.3"/>
<rect x="339.10" y="128.41" width="9.60" height="4.7" fill="url(#m4)"/>
<rect x="352.70" y="128.41" width="12.40" height="4.7" fill="#fff" stroke="#d8dae0" stroke-width="0.3"/>
<rect x="352.70" y="128.41" width="12.40" height="4.7" fill="url(#m1)"/>
<rect x="365.10" y="128.41" width="7.10" height="4.7" fill="#fff" stroke="#d8dae0" stroke-width="0.3"/>
<rect x="365.10" y="128.41" width="7.10" height="4.7" fill="url(#m5)"/>
<rect x="381.80" y="128.41" width="8.70" height="4.7" fill="#fff" stroke="#d8dae0" stroke-width="0.3"/>
<rect x="381.80" y="128.41" width="8.70" height="4.7" fill="url(#m3)"/>
<rect x="390.50" y="128.41" width="2.00" height="4.7" fill="#fff" stroke="#d8dae0" stroke-width="0.3"/>
<rect x="390.50" y="128.41" width="2.00" height="4.7" fill="url(#m8)"/>
<rect x="394.00" y="128.41" width="5.10" height="4.7" fill="#fff" stroke="#d8dae0" stroke-width="0.3"/>
<rect x="394.00" y="128.41" width="5.10" height="4.7" fill="url(#m2)"/>
<rect x="470.00" y="128.41" width="11.80" height="4.7" fill="#fff" stroke="#d8dae0" stroke-width="0.3"/>
<rect x="470.00" y="128.41" width="11.80" height="4.7" fill="url(#m6)"/>
<rect x="334.20" y="135.83" width="161.30" height="1.6" fill="#b8b8b8"/>
<rect x="338.20" y="134.33" width="9.60" height="4.7" fill="#fff" stroke="#d8dae0" stroke-width="0.3"/>
<rect x="338.20" y="134.33" width="9.60" height="4.7" fill="url(#m4)"/>
<rect x="351.80" y="134.33" width="12.40" height="4.7" fill="#fff" stroke="#d8dae0" stroke-width="0.3"/>
<rect x="351.80" y="134.33" width="12.40" height="4.7" fill="url(#m1)"/>
<rect x="364.20" y="134.33" width="7.10" height="4.7" fill="#fff" stroke="#d8dae0" stroke-width="0.3"/>
<rect x="364.20" y="134.33" width="7.10" height="4.7" fill="url(#m5)"/>
<rect x="380.90" y="134.33" width="8.70" height="4.7" fill="#fff" stroke="#d8dae0" stroke-width="0.3"/>
<rect x="380.90" y="134.33" width="8.70" height="4.7" fill="url(#m3)"/>
<rect x="389.60" y="134.33" width="2.00" height="4.7" fill="#fff" stroke="#d8dae0" stroke-width="0.3"/>
<rect x="389.60" y="134.33" width="2.00" height="4.7" fill="url(#m8)"/>
<rect x="393.10" y="134.33" width="4.70" height="4.7" fill="#fff" stroke="#d8dae0" stroke-width="0.3"/>
<rect x="393.10" y="134.33" width="4.70" height="4.7" fill="url(#m2)"/>
<rect x="431.30" y="134.33" width="12.30" height="4.7" fill="#fff" stroke="#d8dae0" stroke-width="0.3"/>
<rect x="431.30" y="134.33" width="12.30" height="4.7" fill="url(#m10)"/>
<rect x="468.70" y="134.33" width="12.20" height="4.7" fill="#fff" stroke="#d8dae0" stroke-width="0.3"/>
<rect x="468.70" y="134.33" width="12.20" height="4.7" fill="url(#m6)"/>
<rect x="334.20" y="141.76" width="145.80" height="1.6" fill="#b8b8b8"/>
<rect x="339.50" y="140.26" width="9.60" height="4.7" fill="#fff" stroke="#d8dae0" stroke-width="0.3"/>
<rect x="339.50" y="140.26" width="9.60" height="4.7" fill="url(#m4)"/>
<rect x="353.10" y="140.26" width="12.40" height="4.7" fill="#fff" stroke="#d8dae0" stroke-width="0.3"/>
<rect x="353.10" y="140.26" width="12.40" height="4.7" fill="url(#m1)"/>
<rect x="365.50" y="140.26" width="6.90" height="4.7" fill="#fff" stroke="#d8dae0" stroke-width="0.3"/>
<rect x="365.50" y="140.26" width="6.90" height="4.7" fill="url(#m5)"/>
<rect x="381.50" y="140.26" width="9.00" height="4.7" fill="#fff" stroke="#d8dae0" stroke-width="0.3"/>
<rect x="381.50" y="140.26" width="9.00" height="4.7" fill="url(#m3)"/>
<rect x="390.50" y="140.26" width="2.00" height="4.7" fill="#fff" stroke="#d8dae0" stroke-width="0.3"/>
<rect x="390.50" y="140.26" width="2.00" height="4.7" fill="url(#m8)"/>
<rect x="393.80" y="140.26" width="4.90" height="4.7" fill="#fff" stroke="#d8dae0" stroke-width="0.3"/>
<rect x="393.80" y="140.26" width="4.90" height="4.7" fill="url(#m2)"/>
<rect x="404.50" y="140.26" width="10.60" height="4.7" fill="#fff" stroke="#d8dae0" stroke-width="0.3"/>
<rect x="404.50" y="140.26" width="10.60" height="4.7" fill="url(#m7)"/>
<rect x="422.70" y="140.26" width="11.80" height="4.7" fill="#fff" stroke="#d8dae0" stroke-width="0.3"/>
<rect x="422.70" y="140.26" width="11.80" height="4.7" fill="url(#m9)"/>
<rect x="450.40" y="140.26" width="11.80" height="4.7" fill="#fff" stroke="#d8dae0" stroke-width="0.3"/>
<rect x="450.40" y="140.26" width="11.80" height="4.7" fill="url(#m10)"/>
<rect x="462.20" y="140.26" width="12.70" height="4.7" fill="#fff" stroke="#d8dae0" stroke-width="0.3"/>
<rect x="462.20" y="140.26" width="12.70" height="4.7" fill="url(#m6)"/>
<rect x="334.20" y="147.68" width="64.00" height="1.6" fill="#b8b8b8"/>
<rect x="339.10" y="146.18" width="9.60" height="4.7" fill="#fff" stroke="#d8dae0" stroke-width="0.3"/>
<rect x="339.10" y="146.18" width="9.60" height="4.7" fill="url(#m4)"/>
<rect x="353.10" y="146.18" width="12.40" height="4.7" fill="#fff" stroke="#d8dae0" stroke-width="0.3"/>
<rect x="353.10" y="146.18" width="12.40" height="4.7" fill="url(#m1)"/>
<rect x="365.50" y="146.18" width="6.90" height="4.7" fill="#fff" stroke="#d8dae0" stroke-width="0.3"/>
<rect x="365.50" y="146.18" width="6.90" height="4.7" fill="url(#m5)"/>
<rect x="381.50" y="146.18" width="9.00" height="4.7" fill="#fff" stroke="#d8dae0" stroke-width="0.3"/>
<rect x="381.50" y="146.18" width="9.00" height="4.7" fill="url(#m3)"/>
<rect x="390.50" y="146.18" width="2.20" height="4.7" fill="#fff" stroke="#d8dae0" stroke-width="0.3"/>
<rect x="390.50" y="146.18" width="2.20" height="4.7" fill="url(#m8)"/>
<rect x="334.20" y="153.60" width="125.40" height="1.6" fill="#b8b8b8"/>
<rect x="338.20" y="152.10" width="10.00" height="4.7" fill="#fff" stroke="#d8dae0" stroke-width="0.3"/>
<rect x="338.20" y="152.10" width="10.00" height="4.7" fill="url(#m4)"/>
<rect x="352.20" y="152.10" width="12.30" height="4.7" fill="#fff" stroke="#d8dae0" stroke-width="0.3"/>
<rect x="352.20" y="152.10" width="12.30" height="4.7" fill="url(#m1)"/>
<rect x="364.50" y="152.10" width="7.00" height="4.7" fill="#fff" stroke="#d8dae0" stroke-width="0.3"/>
<rect x="364.50" y="152.10" width="7.00" height="4.7" fill="url(#m5)"/>
<rect x="377.80" y="152.10" width="8.90" height="4.7" fill="#fff" stroke="#d8dae0" stroke-width="0.3"/>
<rect x="377.80" y="152.10" width="8.90" height="4.7" fill="url(#m3)"/>
<rect x="386.70" y="152.10" width="2.00" height="4.7" fill="#fff" stroke="#d8dae0" stroke-width="0.3"/>
<rect x="386.70" y="152.10" width="2.00" height="4.7" fill="url(#m8)"/>
<rect x="390.00" y="152.10" width="4.90" height="4.7" fill="#fff" stroke="#d8dae0" stroke-width="0.3"/>
<rect x="390.00" y="152.10" width="4.90" height="4.7" fill="url(#m2)"/>
<rect x="400.40" y="152.10" width="10.50" height="4.7" fill="#fff" stroke="#d8dae0" stroke-width="0.3"/>
<rect x="400.40" y="152.10" width="10.50" height="4.7" fill="url(#m7)"/>
<rect x="430.00" y="152.10" width="12.20" height="4.7" fill="#fff" stroke="#d8dae0" stroke-width="0.3"/>
<rect x="430.00" y="152.10" width="12.20" height="4.7" fill="url(#m10)"/>
<rect x="442.20" y="152.10" width="12.70" height="4.7" fill="#fff" stroke="#d8dae0" stroke-width="0.3"/>
<rect x="442.20" y="152.10" width="12.70" height="4.7" fill="url(#m6)"/>
<rect x="334.20" y="159.53" width="126.20" height="1.6" fill="#b8b8b8"/>
<rect x="339.10" y="158.03" width="9.60" height="4.7" fill="#fff" stroke="#d8dae0" stroke-width="0.3"/>
<rect x="339.10" y="158.03" width="9.60" height="4.7" fill="url(#m4)"/>
<rect x="352.70" y="158.03" width="12.40" height="4.7" fill="#fff" stroke="#d8dae0" stroke-width="0.3"/>
<rect x="352.70" y="158.03" width="12.40" height="4.7" fill="url(#m1)"/>
<rect x="365.10" y="158.03" width="7.10" height="4.7" fill="#fff" stroke="#d8dae0" stroke-width="0.3"/>
<rect x="365.10" y="158.03" width="7.10" height="4.7" fill="url(#m5)"/>
<rect x="378.70" y="158.03" width="8.90" height="4.7" fill="#fff" stroke="#d8dae0" stroke-width="0.3"/>
<rect x="378.70" y="158.03" width="8.90" height="4.7" fill="url(#m3)"/>
<rect x="387.60" y="158.03" width="2.00" height="4.7" fill="#fff" stroke="#d8dae0" stroke-width="0.3"/>
<rect x="387.60" y="158.03" width="2.00" height="4.7" fill="url(#m8)"/>
<rect x="390.90" y="158.03" width="4.90" height="4.7" fill="#fff" stroke="#d8dae0" stroke-width="0.3"/>
<rect x="390.90" y="158.03" width="4.90" height="4.7" fill="url(#m2)"/>
<rect x="401.30" y="158.03" width="10.20" height="4.7" fill="#fff" stroke="#d8dae0" stroke-width="0.3"/>
<rect x="401.30" y="158.03" width="10.20" height="4.7" fill="url(#m7)"/>
<rect x="430.90" y="158.03" width="12.20" height="4.7" fill="#fff" stroke="#d8dae0" stroke-width="0.3"/>
<rect x="430.90" y="158.03" width="12.20" height="4.7" fill="url(#m10)"/>
<rect x="443.10" y="158.03" width="12.70" height="4.7" fill="#fff" stroke="#d8dae0" stroke-width="0.3"/>
<rect x="443.10" y="158.03" width="12.70" height="4.7" fill="url(#m6)"/>
<rect x="334.20" y="165.45" width="124.90" height="1.6" fill="#b8b8b8"/>
<rect x="339.10" y="163.95" width="9.60" height="4.7" fill="#fff" stroke="#d8dae0" stroke-width="0.3"/>
<rect x="339.10" y="163.95" width="9.60" height="4.7" fill="url(#m4)"/>
<rect x="352.70" y="163.95" width="12.40" height="4.7" fill="#fff" stroke="#d8dae0" stroke-width="0.3"/>
<rect x="352.70" y="163.95" width="12.40" height="4.7" fill="url(#m1)"/>
<rect x="365.10" y="163.95" width="7.10" height="4.7" fill="#fff" stroke="#d8dae0" stroke-width="0.3"/>
<rect x="365.10" y="163.95" width="7.10" height="4.7" fill="url(#m5)"/>
<rect x="378.70" y="163.95" width="8.90" height="4.7" fill="#fff" stroke="#d8dae0" stroke-width="0.3"/>
<rect x="378.70" y="163.95" width="8.90" height="4.7" fill="url(#m3)"/>
<rect x="387.60" y="163.95" width="2.00" height="4.7" fill="#fff" stroke="#d8dae0" stroke-width="0.3"/>
<rect x="387.60" y="163.95" width="2.00" height="4.7" fill="url(#m8)"/>
<rect x="390.90" y="163.95" width="4.90" height="4.7" fill="#fff" stroke="#d8dae0" stroke-width="0.3"/>
<rect x="390.90" y="163.95" width="4.90" height="4.7" fill="url(#m2)"/>
<rect x="401.30" y="163.95" width="10.20" height="4.7" fill="#fff" stroke="#d8dae0" stroke-width="0.3"/>
<rect x="401.30" y="163.95" width="10.20" height="4.7" fill="url(#m7)"/>
<rect x="430.90" y="163.95" width="12.20" height="4.7" fill="#fff" stroke="#d8dae0" stroke-width="0.3"/>
<rect x="430.90" y="163.95" width="12.20" height="4.7" fill="url(#m10)"/>
<rect x="443.10" y="163.95" width="12.70" height="4.7" fill="#fff" stroke="#d8dae0" stroke-width="0.3"/>
<rect x="443.10" y="163.95" width="12.70" height="4.7" fill="url(#m6)"/>
<rect x="334.20" y="171.38" width="126.70" height="1.6" fill="#b8b8b8"/>
<rect x="339.10" y="169.88" width="9.60" height="4.7" fill="#fff" stroke="#d8dae0" stroke-width="0.3"/>
<rect x="339.10" y="169.88" width="9.60" height="4.7" fill="url(#m4)"/>
<rect x="353.10" y="169.88" width="12.40" height="4.7" fill="#fff" stroke="#d8dae0" stroke-width="0.3"/>
<rect x="353.10" y="169.88" width="12.40" height="4.7" fill="url(#m1)"/>
<rect x="365.50" y="169.88" width="6.90" height="4.7" fill="#fff" stroke="#d8dae0" stroke-width="0.3"/>
<rect x="365.50" y="169.88" width="6.90" height="4.7" fill="url(#m5)"/>
<rect x="380.40" y="169.88" width="8.70" height="4.7" fill="#fff" stroke="#d8dae0" stroke-width="0.3"/>
<rect x="380.40" y="169.88" width="8.70" height="4.7" fill="url(#m3)"/>
<rect x="389.10" y="169.88" width="2.00" height="4.7" fill="#fff" stroke="#d8dae0" stroke-width="0.3"/>
<rect x="389.10" y="169.88" width="2.00" height="4.7" fill="url(#m8)"/>
<rect x="392.70" y="169.88" width="4.90" height="4.7" fill="#fff" stroke="#d8dae0" stroke-width="0.3"/>
<rect x="392.70" y="169.88" width="4.90" height="4.7" fill="url(#m2)"/>
<rect x="403.10" y="169.88" width="10.20" height="4.7" fill="#fff" stroke="#d8dae0" stroke-width="0.3"/>
<rect x="403.10" y="169.88" width="10.20" height="4.7" fill="url(#m7)"/>
<rect x="421.50" y="169.88" width="12.10" height="4.7" fill="#fff" stroke="#d8dae0" stroke-width="0.3"/>
<rect x="421.50" y="169.88" width="12.10" height="4.7" fill="url(#m9)"/>
<rect x="444.20" y="169.88" width="12.20" height="4.7" fill="#fff" stroke="#d8dae0" stroke-width="0.3"/>
<rect x="444.20" y="169.88" width="12.20" height="4.7" fill="url(#m6)"/>
<rect x="334.20" y="177.30" width="142.20" height="1.6" fill="#b8b8b8"/>
<rect x="339.10" y="175.80" width="9.60" height="4.7" fill="#fff" stroke="#d8dae0" stroke-width="0.3"/>
<rect x="339.10" y="175.80" width="9.60" height="4.7" fill="url(#m4)"/>
<rect x="353.10" y="175.80" width="12.40" height="4.7" fill="#fff" stroke="#d8dae0" stroke-width="0.3"/>
<rect x="353.10" y="175.80" width="12.40" height="4.7" fill="url(#m1)"/>
<rect x="365.50" y="175.80" width="6.90" height="4.7" fill="#fff" stroke="#d8dae0" stroke-width="0.3"/>
<rect x="365.50" y="175.80" width="6.90" height="4.7" fill="url(#m5)"/>
<rect x="380.40" y="175.80" width="8.70" height="4.7" fill="#fff" stroke="#d8dae0" stroke-width="0.3"/>
<rect x="380.40" y="175.80" width="8.70" height="4.7" fill="url(#m3)"/>
<rect x="389.10" y="175.80" width="2.00" height="4.7" fill="#fff" stroke="#d8dae0" stroke-width="0.3"/>
<rect x="389.10" y="175.80" width="2.00" height="4.7" fill="url(#m8)"/>
<rect x="392.70" y="175.80" width="4.90" height="4.7" fill="#fff" stroke="#d8dae0" stroke-width="0.3"/>
<rect x="392.70" y="175.80" width="4.90" height="4.7" fill="url(#m2)"/>
<rect x="403.10" y="175.80" width="10.20" height="4.7" fill="#fff" stroke="#d8dae0" stroke-width="0.3"/>
<rect x="403.10" y="175.80" width="10.20" height="4.7" fill="url(#m7)"/>
<rect x="421.50" y="175.80" width="12.10" height="4.7" fill="#fff" stroke="#d8dae0" stroke-width="0.3"/>
<rect x="421.50" y="175.80" width="12.10" height="4.7" fill="url(#m9)"/>
<rect x="464.20" y="175.80" width="12.20" height="4.7" fill="#fff" stroke="#d8dae0" stroke-width="0.3"/>
<rect x="464.20" y="175.80" width="12.20" height="4.7" fill="url(#m10)"/>
<rect x="334.20" y="183.22" width="158.90" height="1.6" fill="#b8b8b8"/>
<rect x="339.10" y="181.72" width="9.60" height="4.7" fill="#fff" stroke="#d8dae0" stroke-width="0.3"/>
<rect x="339.10" y="181.72" width="9.60" height="4.7" fill="url(#m4)"/>
<rect x="353.10" y="181.72" width="12.40" height="4.7" fill="#fff" stroke="#d8dae0" stroke-width="0.3"/>
<rect x="353.10" y="181.72" width="12.40" height="4.7" fill="url(#m1)"/>
<rect x="365.50" y="181.72" width="6.90" height="4.7" fill="#fff" stroke="#d8dae0" stroke-width="0.3"/>
<rect x="365.50" y="181.72" width="6.90" height="4.7" fill="url(#m5)"/>
<rect x="380.40" y="181.72" width="8.70" height="4.7" fill="#fff" stroke="#d8dae0" stroke-width="0.3"/>
<rect x="380.40" y="181.72" width="8.70" height="4.7" fill="url(#m3)"/>
<rect x="389.10" y="181.72" width="2.00" height="4.7" fill="#fff" stroke="#d8dae0" stroke-width="0.3"/>
<rect x="389.10" y="181.72" width="2.00" height="4.7" fill="url(#m8)"/>
<rect x="392.70" y="181.72" width="4.90" height="4.7" fill="#fff" stroke="#d8dae0" stroke-width="0.3"/>
<rect x="392.70" y="181.72" width="4.90" height="4.7" fill="url(#m2)"/>
<rect x="403.10" y="181.72" width="10.20" height="4.7" fill="#fff" stroke="#d8dae0" stroke-width="0.3"/>
<rect x="403.10" y="181.72" width="10.20" height="4.7" fill="url(#m7)"/>
<rect x="421.50" y="181.72" width="12.10" height="4.7" fill="#fff" stroke="#d8dae0" stroke-width="0.3"/>
<rect x="421.50" y="181.72" width="12.10" height="4.7" fill="url(#m9)"/>
<rect x="464.20" y="181.72" width="11.80" height="4.7" fill="#fff" stroke="#d8dae0" stroke-width="0.3"/>
<rect x="464.20" y="181.72" width="11.80" height="4.7" fill="url(#m10)"/>
<rect x="476.00" y="181.72" width="12.70" height="4.7" fill="#fff" stroke="#d8dae0" stroke-width="0.3"/>
<rect x="476.00" y="181.72" width="12.70" height="4.7" fill="url(#m6)"/>
<rect x="334.20" y="189.15" width="141.80" height="1.6" fill="#b8b8b8"/>
<rect x="339.10" y="187.65" width="9.60" height="4.7" fill="#fff" stroke="#d8dae0" stroke-width="0.3"/>
<rect x="339.10" y="187.65" width="9.60" height="4.7" fill="url(#m4)"/>
<rect x="353.10" y="187.65" width="12.40" height="4.7" fill="#fff" stroke="#d8dae0" stroke-width="0.3"/>
<rect x="353.10" y="187.65" width="12.40" height="4.7" fill="url(#m1)"/>
<rect x="365.50" y="187.65" width="6.90" height="4.7" fill="#fff" stroke="#d8dae0" stroke-width="0.3"/>
<rect x="365.50" y="187.65" width="6.90" height="4.7" fill="url(#m5)"/>
<rect x="380.40" y="187.65" width="8.70" height="4.7" fill="#fff" stroke="#d8dae0" stroke-width="0.3"/>
<rect x="380.40" y="187.65" width="8.70" height="4.7" fill="url(#m3)"/>
<rect x="389.10" y="187.65" width="2.00" height="4.7" fill="#fff" stroke="#d8dae0" stroke-width="0.3"/>
<rect x="389.10" y="187.65" width="2.00" height="4.7" fill="url(#m8)"/>
<rect x="392.70" y="187.65" width="4.90" height="4.7" fill="#fff" stroke="#d8dae0" stroke-width="0.3"/>
<rect x="392.70" y="187.65" width="4.90" height="4.7" fill="url(#m2)"/>
<rect x="403.10" y="187.65" width="10.20" height="4.7" fill="#fff" stroke="#d8dae0" stroke-width="0.3"/>
<rect x="403.10" y="187.65" width="10.20" height="4.7" fill="url(#m7)"/>
<rect x="421.50" y="187.65" width="12.50" height="4.7" fill="#fff" stroke="#d8dae0" stroke-width="0.3"/>
<rect x="421.50" y="187.65" width="12.50" height="4.7" fill="url(#m9)"/>
<rect x="446.40" y="187.65" width="11.80" height="4.7" fill="#fff" stroke="#d8dae0" stroke-width="0.3"/>
<rect x="446.40" y="187.65" width="11.80" height="4.7" fill="url(#m10)"/>
<rect x="458.20" y="187.65" width="13.10" height="4.7" fill="#fff" stroke="#d8dae0" stroke-width="0.3"/>
<rect x="458.20" y="187.65" width="13.10" height="4.7" fill="url(#m6)"/>
<rect x="334.20" y="195.07" width="144.00" height="1.6" fill="#b8b8b8"/>
<rect x="339.10" y="193.57" width="9.60" height="4.7" fill="#fff" stroke="#d8dae0" stroke-width="0.3"/>
<rect x="339.10" y="193.57" width="9.60" height="4.7" fill="url(#m4)"/>
<rect x="353.10" y="193.57" width="12.40" height="4.7" fill="#fff" stroke="#d8dae0" stroke-width="0.3"/>
<rect x="353.10" y="193.57" width="12.40" height="4.7" fill="url(#m1)"/>
<rect x="365.50" y="193.57" width="6.90" height="4.7" fill="#fff" stroke="#d8dae0" stroke-width="0.3"/>
<rect x="365.50" y="193.57" width="6.90" height="4.7" fill="url(#m5)"/>
<rect x="380.40" y="193.57" width="8.70" height="4.7" fill="#fff" stroke="#d8dae0" stroke-width="0.3"/>
<rect x="380.40" y="193.57" width="8.70" height="4.7" fill="url(#m3)"/>
<rect x="389.10" y="193.57" width="2.00" height="4.7" fill="#fff" stroke="#d8dae0" stroke-width="0.3"/>
<rect x="389.10" y="193.57" width="2.00" height="4.7" fill="url(#m8)"/>
<rect x="392.70" y="193.57" width="4.90" height="4.7" fill="#fff" stroke="#d8dae0" stroke-width="0.3"/>
<rect x="392.70" y="193.57" width="4.90" height="4.7" fill="url(#m2)"/>
<rect x="403.10" y="193.57" width="10.20" height="4.7" fill="#fff" stroke="#d8dae0" stroke-width="0.3"/>
<rect x="403.10" y="193.57" width="10.20" height="4.7" fill="url(#m7)"/>
<rect x="421.50" y="193.57" width="12.50" height="4.7" fill="#fff" stroke="#d8dae0" stroke-width="0.3"/>
<rect x="421.50" y="193.57" width="12.50" height="4.7" fill="url(#m9)"/>
<rect x="448.50" y="193.57" width="11.90" height="4.7" fill="#fff" stroke="#d8dae0" stroke-width="0.3"/>
<rect x="448.50" y="193.57" width="11.90" height="4.7" fill="url(#m10)"/>
<rect x="460.40" y="193.57" width="12.70" height="4.7" fill="#fff" stroke="#d8dae0" stroke-width="0.3"/>
<rect x="460.40" y="193.57" width="12.70" height="4.7" fill="url(#m6)"/>
<rect x="334.20" y="201.00" width="144.00" height="1.6" fill="#b8b8b8"/>
<rect x="339.10" y="199.50" width="9.60" height="4.7" fill="#fff" stroke="#d8dae0" stroke-width="0.3"/>
<rect x="339.10" y="199.50" width="9.60" height="4.7" fill="url(#m4)"/>
<rect x="353.10" y="199.50" width="12.40" height="4.7" fill="#fff" stroke="#d8dae0" stroke-width="0.3"/>
<rect x="353.10" y="199.50" width="12.40" height="4.7" fill="url(#m1)"/>
<rect x="365.50" y="199.50" width="6.90" height="4.7" fill="#fff" stroke="#d8dae0" stroke-width="0.3"/>
<rect x="365.50" y="199.50" width="6.90" height="4.7" fill="url(#m5)"/>
<rect x="380.40" y="199.50" width="8.70" height="4.7" fill="#fff" stroke="#d8dae0" stroke-width="0.3"/>
<rect x="380.40" y="199.50" width="8.70" height="4.7" fill="url(#m3)"/>
<rect x="389.10" y="199.50" width="2.00" height="4.7" fill="#fff" stroke="#d8dae0" stroke-width="0.3"/>
<rect x="389.10" y="199.50" width="2.00" height="4.7" fill="url(#m8)"/>
<rect x="392.70" y="199.50" width="4.90" height="4.7" fill="#fff" stroke="#d8dae0" stroke-width="0.3"/>
<rect x="392.70" y="199.50" width="4.90" height="4.7" fill="url(#m2)"/>
<rect x="403.10" y="199.50" width="10.20" height="4.7" fill="#fff" stroke="#d8dae0" stroke-width="0.3"/>
<rect x="403.10" y="199.50" width="10.20" height="4.7" fill="url(#m7)"/>
<rect x="421.50" y="199.50" width="12.50" height="4.7" fill="#fff" stroke="#d8dae0" stroke-width="0.3"/>
<rect x="421.50" y="199.50" width="12.50" height="4.7" fill="url(#m9)"/>
<rect x="448.50" y="199.50" width="11.90" height="4.7" fill="#fff" stroke="#d8dae0" stroke-width="0.3"/>
<rect x="448.50" y="199.50" width="11.90" height="4.7" fill="url(#m10)"/>
<rect x="460.40" y="199.50" width="12.70" height="4.7" fill="#fff" stroke="#d8dae0" stroke-width="0.3"/>
<rect x="460.40" y="199.50" width="12.70" height="4.7" fill="url(#m6)"/>
<rect x="334.20" y="206.92" width="144.00" height="1.6" fill="#b8b8b8"/>
<rect x="339.10" y="205.42" width="9.60" height="4.7" fill="#fff" stroke="#d8dae0" stroke-width="0.3"/>
<rect x="339.10" y="205.42" width="9.60" height="4.7" fill="url(#m4)"/>
<rect x="353.10" y="205.42" width="12.40" height="4.7" fill="#fff" stroke="#d8dae0" stroke-width="0.3"/>
<rect x="353.10" y="205.42" width="12.40" height="4.7" fill="url(#m1)"/>
<rect x="365.50" y="205.42" width="6.90" height="4.7" fill="#fff" stroke="#d8dae0" stroke-width="0.3"/>
<rect x="365.50" y="205.42" width="6.90" height="4.7" fill="url(#m5)"/>
<rect x="380.40" y="205.42" width="8.70" height="4.7" fill="#fff" stroke="#d8dae0" stroke-width="0.3"/>
<rect x="380.40" y="205.42" width="8.70" height="4.7" fill="url(#m3)"/>
<rect x="389.10" y="205.42" width="2.00" height="4.7" fill="#fff" stroke="#d8dae0" stroke-width="0.3"/>
<rect x="389.10" y="205.42" width="2.00" height="4.7" fill="url(#m8)"/>
<rect x="392.70" y="205.42" width="4.90" height="4.7" fill="#fff" stroke="#d8dae0" stroke-width="0.3"/>
<rect x="392.70" y="205.42" width="4.90" height="4.7" fill="url(#m2)"/>
<rect x="403.10" y="205.42" width="10.20" height="4.7" fill="#fff" stroke="#d8dae0" stroke-width="0.3"/>
<rect x="403.10" y="205.42" width="10.20" height="4.7" fill="url(#m7)"/>
<rect x="421.50" y="205.42" width="12.50" height="4.7" fill="#fff" stroke="#d8dae0" stroke-width="0.3"/>
<rect x="421.50" y="205.42" width="12.50" height="4.7" fill="url(#m9)"/>
<rect x="448.50" y="205.42" width="11.90" height="4.7" fill="#fff" stroke="#d8dae0" stroke-width="0.3"/>
<rect x="448.50" y="205.42" width="11.90" height="4.7" fill="url(#m10)"/>
<rect x="460.40" y="205.42" width="12.70" height="4.7" fill="#fff" stroke="#d8dae0" stroke-width="0.3"/>
<rect x="460.40" y="205.42" width="12.70" height="4.7" fill="url(#m6)"/>
<rect x="334.20" y="212.84" width="144.00" height="1.6" fill="#b8b8b8"/>
<rect x="339.10" y="211.34" width="9.60" height="4.7" fill="#fff" stroke="#d8dae0" stroke-width="0.3"/>
<rect x="339.10" y="211.34" width="9.60" height="4.7" fill="url(#m4)"/>
<rect x="353.10" y="211.34" width="12.40" height="4.7" fill="#fff" stroke="#d8dae0" stroke-width="0.3"/>
<rect x="353.10" y="211.34" width="12.40" height="4.7" fill="url(#m1)"/>
<rect x="365.50" y="211.34" width="6.90" height="4.7" fill="#fff" stroke="#d8dae0" stroke-width="0.3"/>
<rect x="365.50" y="211.34" width="6.90" height="4.7" fill="url(#m5)"/>
<rect x="380.40" y="211.34" width="8.70" height="4.7" fill="#fff" stroke="#d8dae0" stroke-width="0.3"/>
<rect x="380.40" y="211.34" width="8.70" height="4.7" fill="url(#m3)"/>
<rect x="389.10" y="211.34" width="2.00" height="4.7" fill="#fff" stroke="#d8dae0" stroke-width="0.3"/>
<rect x="389.10" y="211.34" width="2.00" height="4.7" fill="url(#m8)"/>
<rect x="392.70" y="211.34" width="4.90" height="4.7" fill="#fff" stroke="#d8dae0" stroke-width="0.3"/>
<rect x="392.70" y="211.34" width="4.90" height="4.7" fill="url(#m2)"/>
<rect x="403.10" y="211.34" width="10.20" height="4.7" fill="#fff" stroke="#d8dae0" stroke-width="0.3"/>
<rect x="403.10" y="211.34" width="10.20" height="4.7" fill="url(#m7)"/>
<rect x="421.50" y="211.34" width="12.50" height="4.7" fill="#fff" stroke="#d8dae0" stroke-width="0.3"/>
<rect x="421.50" y="211.34" width="12.50" height="4.7" fill="url(#m9)"/>
<rect x="448.50" y="211.34" width="11.90" height="4.7" fill="#fff" stroke="#d8dae0" stroke-width="0.3"/>
<rect x="448.50" y="211.34" width="11.90" height="4.7" fill="url(#m10)"/>
<rect x="460.40" y="211.34" width="12.70" height="4.7" fill="#fff" stroke="#d8dae0" stroke-width="0.3"/>
<rect x="460.40" y="211.34" width="12.70" height="4.7" fill="url(#m6)"/>
<rect x="334.20" y="218.77" width="131.30" height="1.6" fill="#b8b8b8"/>
<rect x="339.10" y="217.27" width="9.60" height="4.7" fill="#fff" stroke="#d8dae0" stroke-width="0.3"/>
<rect x="339.10" y="217.27" width="9.60" height="4.7" fill="url(#m4)"/>
<rect x="352.70" y="217.27" width="6.80" height="4.7" fill="#fff" stroke="#d8dae0" stroke-width="0.3"/>
<rect x="352.70" y="217.27" width="6.80" height="4.7" fill="url(#m5)"/>
<rect x="367.30" y="217.27" width="9.10" height="4.7" fill="#fff" stroke="#d8dae0" stroke-width="0.3"/>
<rect x="367.30" y="217.27" width="9.10" height="4.7" fill="url(#m3)"/>
<rect x="376.40" y="217.27" width="2.00" height="4.7" fill="#fff" stroke="#d8dae0" stroke-width="0.3"/>
<rect x="376.40" y="217.27" width="2.00" height="4.7" fill="url(#m8)"/>
<rect x="380.00" y="217.27" width="4.50" height="4.7" fill="#fff" stroke="#d8dae0" stroke-width="0.3"/>
<rect x="380.00" y="217.27" width="4.50" height="4.7" fill="url(#m2)"/>
<rect x="390.50" y="217.27" width="10.40" height="4.7" fill="#fff" stroke="#d8dae0" stroke-width="0.3"/>
<rect x="390.50" y="217.27" width="10.40" height="4.7" fill="url(#m7)"/>
<rect x="409.10" y="217.27" width="11.80" height="4.7" fill="#fff" stroke="#d8dae0" stroke-width="0.3"/>
<rect x="409.10" y="217.27" width="11.80" height="4.7" fill="url(#m9)"/>
<rect x="436.00" y="217.27" width="12.20" height="4.7" fill="#fff" stroke="#d8dae0" stroke-width="0.3"/>
<rect x="436.00" y="217.27" width="12.20" height="4.7" fill="url(#m10)"/>
<rect x="448.20" y="217.27" width="12.20" height="4.7" fill="#fff" stroke="#d8dae0" stroke-width="0.3"/>
<rect x="448.20" y="217.27" width="12.20" height="4.7" fill="url(#m6)"/>
<rect x="334.20" y="224.69" width="144.30" height="1.6" fill="#b8b8b8"/>
<rect x="339.10" y="223.19" width="9.60" height="4.7" fill="#fff" stroke="#d8dae0" stroke-width="0.3"/>
<rect x="339.10" y="223.19" width="9.60" height="4.7" fill="url(#m4)"/>
<rect x="353.10" y="223.19" width="12.40" height="4.7" fill="#fff" stroke="#d8dae0" stroke-width="0.3"/>
<rect x="353.10" y="223.19" width="12.40" height="4.7" fill="url(#m1)"/>
<rect x="365.50" y="223.19" width="6.90" height="4.7" fill="#fff" stroke="#d8dae0" stroke-width="0.3"/>
<rect x="365.50" y="223.19" width="6.90" height="4.7" fill="url(#m5)"/>
<rect x="380.40" y="223.19" width="8.70" height="4.7" fill="#fff" stroke="#d8dae0" stroke-width="0.3"/>
<rect x="380.40" y="223.19" width="8.70" height="4.7" fill="url(#m3)"/>
<rect x="389.10" y="223.19" width="2.00" height="4.7" fill="#fff" stroke="#d8dae0" stroke-width="0.3"/>
<rect x="389.10" y="223.19" width="2.00" height="4.7" fill="url(#m8)"/>
<rect x="392.70" y="223.19" width="4.90" height="4.7" fill="#fff" stroke="#d8dae0" stroke-width="0.3"/>
<rect x="392.70" y="223.19" width="4.90" height="4.7" fill="url(#m2)"/>
<rect x="403.10" y="223.19" width="10.20" height="4.7" fill="#fff" stroke="#d8dae0" stroke-width="0.3"/>
<rect x="403.10" y="223.19" width="10.20" height="4.7" fill="url(#m7)"/>
<rect x="421.50" y="223.19" width="12.50" height="4.7" fill="#fff" stroke="#d8dae0" stroke-width="0.3"/>
<rect x="421.50" y="223.19" width="12.50" height="4.7" fill="url(#m9)"/>
<rect x="448.50" y="223.19" width="11.90" height="4.7" fill="#fff" stroke="#d8dae0" stroke-width="0.3"/>
<rect x="448.50" y="223.19" width="11.90" height="4.7" fill="url(#m10)"/>
<rect x="460.40" y="223.19" width="12.70" height="4.7" fill="#fff" stroke="#d8dae0" stroke-width="0.3"/>
<rect x="460.40" y="223.19" width="12.70" height="4.7" fill="url(#m6)"/>
<rect x="334.20" y="230.62" width="144.00" height="1.6" fill="#b8b8b8"/>
<rect x="339.10" y="229.12" width="9.60" height="4.7" fill="#fff" stroke="#d8dae0" stroke-width="0.3"/>
<rect x="339.10" y="229.12" width="9.60" height="4.7" fill="url(#m4)"/>
<rect x="353.10" y="229.12" width="12.40" height="4.7" fill="#fff" stroke="#d8dae0" stroke-width="0.3"/>
<rect x="353.10" y="229.12" width="12.40" height="4.7" fill="url(#m1)"/>
<rect x="365.50" y="229.12" width="6.90" height="4.7" fill="#fff" stroke="#d8dae0" stroke-width="0.3"/>
<rect x="365.50" y="229.12" width="6.90" height="4.7" fill="url(#m5)"/>
<rect x="380.40" y="229.12" width="8.70" height="4.7" fill="#fff" stroke="#d8dae0" stroke-width="0.3"/>
<rect x="380.40" y="229.12" width="8.70" height="4.7" fill="url(#m3)"/>
<rect x="389.10" y="229.12" width="2.00" height="4.7" fill="#fff" stroke="#d8dae0" stroke-width="0.3"/>
<rect x="389.10" y="229.12" width="2.00" height="4.7" fill="url(#m8)"/>
<rect x="392.70" y="229.12" width="4.90" height="4.7" fill="#fff" stroke="#d8dae0" stroke-width="0.3"/>
<rect x="392.70" y="229.12" width="4.90" height="4.7" fill="url(#m2)"/>
<rect x="403.10" y="229.12" width="10.20" height="4.7" fill="#fff" stroke="#d8dae0" stroke-width="0.3"/>
<rect x="403.10" y="229.12" width="10.20" height="4.7" fill="url(#m7)"/>
<rect x="421.50" y="229.12" width="12.50" height="4.7" fill="#fff" stroke="#d8dae0" stroke-width="0.3"/>
<rect x="421.50" y="229.12" width="12.50" height="4.7" fill="url(#m9)"/>
<rect x="448.50" y="229.12" width="11.90" height="4.7" fill="#fff" stroke="#d8dae0" stroke-width="0.3"/>
<rect x="448.50" y="229.12" width="11.90" height="4.7" fill="url(#m10)"/>
<rect x="460.40" y="229.12" width="12.70" height="4.7" fill="#fff" stroke="#d8dae0" stroke-width="0.3"/>
<rect x="460.40" y="229.12" width="12.70" height="4.7" fill="url(#m6)"/>
<rect x="334.20" y="236.54" width="144.00" height="1.6" fill="#b8b8b8"/>
<rect x="339.10" y="235.04" width="9.60" height="4.7" fill="#fff" stroke="#d8dae0" stroke-width="0.3"/>
<rect x="339.10" y="235.04" width="9.60" height="4.7" fill="url(#m4)"/>
<rect x="353.10" y="235.04" width="12.40" height="4.7" fill="#fff" stroke="#d8dae0" stroke-width="0.3"/>
<rect x="353.10" y="235.04" width="12.40" height="4.7" fill="url(#m1)"/>
<rect x="365.50" y="235.04" width="6.90" height="4.7" fill="#fff" stroke="#d8dae0" stroke-width="0.3"/>
<rect x="365.50" y="235.04" width="6.90" height="4.7" fill="url(#m5)"/>
<rect x="380.40" y="235.04" width="8.70" height="4.7" fill="#fff" stroke="#d8dae0" stroke-width="0.3"/>
<rect x="380.40" y="235.04" width="8.70" height="4.7" fill="url(#m3)"/>
<rect x="389.10" y="235.04" width="2.00" height="4.7" fill="#fff" stroke="#d8dae0" stroke-width="0.3"/>
<rect x="389.10" y="235.04" width="2.00" height="4.7" fill="url(#m8)"/>
<rect x="392.70" y="235.04" width="4.90" height="4.7" fill="#fff" stroke="#d8dae0" stroke-width="0.3"/>
<rect x="392.70" y="235.04" width="4.90" height="4.7" fill="url(#m2)"/>
<rect x="403.10" y="235.04" width="10.20" height="4.7" fill="#fff" stroke="#d8dae0" stroke-width="0.3"/>
<rect x="403.10" y="235.04" width="10.20" height="4.7" fill="url(#m7)"/>
<rect x="421.50" y="235.04" width="12.50" height="4.7" fill="#fff" stroke="#d8dae0" stroke-width="0.3"/>
<rect x="421.50" y="235.04" width="12.50" height="4.7" fill="url(#m9)"/>
<rect x="448.50" y="235.04" width="11.90" height="4.7" fill="#fff" stroke="#d8dae0" stroke-width="0.3"/>
<rect x="448.50" y="235.04" width="11.90" height="4.7" fill="url(#m10)"/>
<rect x="460.40" y="235.04" width="12.70" height="4.7" fill="#fff" stroke="#d8dae0" stroke-width="0.3"/>
<rect x="460.40" y="235.04" width="12.70" height="4.7" fill="url(#m6)"/>
<rect x="334.20" y="242.46" width="95.80" height="1.6" fill="#b8b8b8"/>
<rect x="336.90" y="240.96" width="10.00" height="4.7" fill="#fff" stroke="#d8dae0" stroke-width="0.3"/>
<rect x="336.90" y="240.96" width="10.00" height="4.7" fill="url(#m4)"/>
<rect x="351.30" y="240.96" width="12.30" height="4.7" fill="#fff" stroke="#d8dae0" stroke-width="0.3"/>
<rect x="351.30" y="240.96" width="12.30" height="4.7" fill="url(#m1)"/>
<rect x="379.10" y="240.96" width="9.10" height="4.7" fill="#fff" stroke="#d8dae0" stroke-width="0.3"/>
<rect x="379.10" y="240.96" width="9.10" height="4.7" fill="url(#m3)"/>
<rect x="388.20" y="240.96" width="2.00" height="4.7" fill="#fff" stroke="#d8dae0" stroke-width="0.3"/>
<rect x="388.20" y="240.96" width="2.00" height="4.7" fill="url(#m8)"/>
<rect x="391.80" y="240.96" width="5.10" height="4.7" fill="#fff" stroke="#d8dae0" stroke-width="0.3"/>
<rect x="391.80" y="240.96" width="5.10" height="4.7" fill="url(#m2)"/>
<rect x="334.20" y="248.39" width="134.50" height="1.6" fill="#b8b8b8"/>
<rect x="336.00" y="246.89" width="10.40" height="4.7" fill="#fff" stroke="#d8dae0" stroke-width="0.3"/>
<rect x="336.00" y="246.89" width="10.40" height="4.7" fill="url(#m4)"/>
<rect x="386.00" y="246.89" width="8.50" height="4.7" fill="#fff" stroke="#d8dae0" stroke-width="0.3"/>
<rect x="386.00" y="246.89" width="8.50" height="4.7" fill="url(#m3)"/>
<rect x="397.80" y="246.89" width="4.90" height="4.7" fill="#fff" stroke="#d8dae0" stroke-width="0.3"/>
<rect x="397.80" y="246.89" width="4.90" height="4.7" fill="url(#m2)"/>
<rect x="456.40" y="246.89" width="11.20" height="4.7" fill="#fff" stroke="#d8dae0" stroke-width="0.3"/>
<rect x="456.40" y="246.89" width="11.20" height="4.7" fill="url(#m7)"/>
<rect x="334.20" y="254.31" width="101.80" height="1.6" fill="#b8b8b8"/>
<rect x="388.20" y="252.81" width="9.10" height="4.7" fill="#fff" stroke="#d8dae0" stroke-width="0.3"/>
<rect x="388.20" y="252.81" width="9.10" height="4.7" fill="url(#m3)"/>
<rect x="397.30" y="252.81" width="2.00" height="4.7" fill="#fff" stroke="#d8dae0" stroke-width="0.3"/>
<rect x="397.30" y="252.81" width="2.00" height="4.7" fill="url(#m8)"/>
<rect x="400.90" y="252.81" width="5.10" height="4.7" fill="#fff" stroke="#d8dae0" stroke-width="0.3"/>
<rect x="400.90" y="252.81" width="5.10" height="4.7" fill="url(#m2)"/>
<rect x="334.20" y="260.24" width="120.00" height="1.6" fill="#b8b8b8"/>
<rect x="407.30" y="258.74" width="9.10" height="4.7" fill="#fff" stroke="#d8dae0" stroke-width="0.3"/>
<rect x="407.30" y="258.74" width="9.10" height="4.7" fill="url(#m3)"/>
<rect x="416.40" y="258.74" width="2.00" height="4.7" fill="#fff" stroke="#d8dae0" stroke-width="0.3"/>
<rect x="416.40" y="258.74" width="2.00" height="4.7" fill="url(#m8)"/>
<rect x="420.00" y="258.74" width="5.10" height="4.7" fill="#fff" stroke="#d8dae0" stroke-width="0.3"/>
<rect x="420.00" y="258.74" width="5.10" height="4.7" fill="url(#m2)"/>
<rect x="334.20" y="266.16" width="127.30" height="1.6" fill="#b8b8b8"/>
<rect x="366.40" y="264.66" width="6.90" height="4.7" fill="#fff" stroke="#d8dae0" stroke-width="0.3"/>
<rect x="366.40" y="264.66" width="6.90" height="4.7" fill="url(#m5)"/>
<rect x="381.80" y="264.66" width="8.70" height="4.7" fill="#fff" stroke="#d8dae0" stroke-width="0.3"/>
<rect x="381.80" y="264.66" width="8.70" height="4.7" fill="url(#m3)"/>
<rect x="390.50" y="264.66" width="2.00" height="4.7" fill="#fff" stroke="#d8dae0" stroke-width="0.3"/>
<rect x="390.50" y="264.66" width="2.00" height="4.7" fill="url(#m8)"/>
<rect x="394.20" y="264.66" width="4.90" height="4.7" fill="#fff" stroke="#d8dae0" stroke-width="0.3"/>
<rect x="394.20" y="264.66" width="4.90" height="4.7" fill="url(#m2)"/>
<rect x="334.20" y="272.08" width="128.50" height="1.6" fill="#b8b8b8"/>
<rect x="382.70" y="270.58" width="9.10" height="4.7" fill="#fff" stroke="#d8dae0" stroke-width="0.3"/>
<rect x="382.70" y="270.58" width="9.10" height="4.7" fill="url(#m3)"/>
<rect x="391.80" y="270.58" width="2.00" height="4.7" fill="#fff" stroke="#d8dae0" stroke-width="0.3"/>
<rect x="391.80" y="270.58" width="2.00" height="4.7" fill="url(#m8)"/>
<rect x="395.80" y="270.58" width="5.10" height="4.7" fill="#fff" stroke="#d8dae0" stroke-width="0.3"/>
<rect x="395.80" y="270.58" width="5.10" height="4.7" fill="url(#m2)"/>
<rect x="334.20" y="278.01" width="127.30" height="1.6" fill="#b8b8b8"/>
<rect x="366.40" y="276.51" width="6.90" height="4.7" fill="#fff" stroke="#d8dae0" stroke-width="0.3"/>
<rect x="366.40" y="276.51" width="6.90" height="4.7" fill="url(#m5)"/>
<rect x="381.80" y="276.51" width="9.10" height="4.7" fill="#fff" stroke="#d8dae0" stroke-width="0.3"/>
<rect x="381.80" y="276.51" width="9.10" height="4.7" fill="url(#m3)"/>
<rect x="390.90" y="276.51" width="2.00" height="4.7" fill="#fff" stroke="#d8dae0" stroke-width="0.3"/>
<rect x="390.90" y="276.51" width="2.00" height="4.7" fill="url(#m8)"/>
<rect x="394.50" y="276.51" width="5.00" height="4.7" fill="#fff" stroke="#d8dae0" stroke-width="0.3"/>
<rect x="394.50" y="276.51" width="5.00" height="4.7" fill="url(#m2)"/>
<rect x="334.20" y="283.93" width="116.30" height="1.6" fill="#b8b8b8"/>
<rect x="376.00" y="282.43" width="9.10" height="4.7" fill="#fff" stroke="#d8dae0" stroke-width="0.3"/>
<rect x="376.00" y="282.43" width="9.10" height="4.7" fill="url(#m3)"/>
<rect x="385.10" y="282.43" width="2.00" height="4.7" fill="#fff" stroke="#d8dae0" stroke-width="0.3"/>
<rect x="385.10" y="282.43" width="2.00" height="4.7" fill="url(#m8)"/>
<rect x="388.50" y="282.43" width="5.10" height="4.7" fill="#fff" stroke="#d8dae0" stroke-width="0.3"/>
<rect x="388.50" y="282.43" width="5.10" height="4.7" fill="url(#m2)"/>
<rect x="334.20" y="289.86" width="115.80" height="1.6" fill="#b8b8b8"/>
<rect x="376.00" y="288.36" width="9.10" height="4.7" fill="#fff" stroke="#d8dae0" stroke-width="0.3"/>
<rect x="376.00" y="288.36" width="9.10" height="4.7" fill="url(#m3)"/>
<rect x="385.10" y="288.36" width="2.00" height="4.7" fill="#fff" stroke="#d8dae0" stroke-width="0.3"/>
<rect x="385.10" y="288.36" width="2.00" height="4.7" fill="url(#m8)"/>
<rect x="388.50" y="288.36" width="5.10" height="4.7" fill="#fff" stroke="#d8dae0" stroke-width="0.3"/>
<rect x="388.50" y="288.36" width="5.10" height="4.7" fill="url(#m2)"/>
<rect x="334.20" y="295.78" width="115.80" height="1.6" fill="#b8b8b8"/>
<rect x="375.10" y="294.28" width="9.10" height="4.7" fill="#fff" stroke="#d8dae0" stroke-width="0.3"/>
<rect x="375.10" y="294.28" width="9.10" height="4.7" fill="url(#m3)"/>
<rect x="384.20" y="294.28" width="2.00" height="4.7" fill="#fff" stroke="#d8dae0" stroke-width="0.3"/>
<rect x="384.20" y="294.28" width="2.00" height="4.7" fill="url(#m8)"/>
<rect x="388.20" y="294.28" width="4.50" height="4.7" fill="#fff" stroke="#d8dae0" stroke-width="0.3"/>
<rect x="388.20" y="294.28" width="4.50" height="4.7" fill="url(#m2)"/>
<rect x="334.20" y="301.70" width="57.60" height="1.6" fill="#b8b8b8"/>
<rect x="361.30" y="300.20" width="9.10" height="4.7" fill="#fff" stroke="#d8dae0" stroke-width="0.3"/>
<rect x="361.30" y="300.20" width="9.10" height="4.7" fill="url(#m3)"/>
<rect x="370.40" y="300.20" width="2.00" height="4.7" fill="#fff" stroke="#d8dae0" stroke-width="0.3"/>
<rect x="370.40" y="300.20" width="2.00" height="4.7" fill="url(#m8)"/>
<rect x="374.00" y="300.20" width="4.70" height="4.7" fill="#fff" stroke="#d8dae0" stroke-width="0.3"/>
<rect x="374.00" y="300.20" width="4.70" height="4.7" fill="url(#m2)"/>
<rect x="334.20" y="307.63" width="57.30" height="1.6" fill="#b8b8b8"/>
<rect x="360.90" y="306.13" width="9.10" height="4.7" fill="#fff" stroke="#d8dae0" stroke-width="0.3"/>
<rect x="360.90" y="306.13" width="9.10" height="4.7" fill="url(#m3)"/>
<rect x="370.00" y="306.13" width="2.00" height="4.7" fill="#fff" stroke="#d8dae0" stroke-width="0.3"/>
<rect x="370.00" y="306.13" width="2.00" height="4.7" fill="url(#m8)"/>
<rect x="373.60" y="306.13" width="4.90" height="4.7" fill="#fff" stroke="#d8dae0" stroke-width="0.3"/>
<rect x="373.60" y="306.13" width="4.90" height="4.7" fill="url(#m2)"/>
<rect x="334.20" y="313.55" width="57.30" height="1.6" fill="#b8b8b8"/>
<rect x="360.90" y="312.05" width="9.10" height="4.7" fill="#fff" stroke="#d8dae0" stroke-width="0.3"/>
<rect x="360.90" y="312.05" width="9.10" height="4.7" fill="url(#m3)"/>
<rect x="370.00" y="312.05" width="2.00" height="4.7" fill="#fff" stroke="#d8dae0" stroke-width="0.3"/>
<rect x="370.00" y="312.05" width="2.00" height="4.7" fill="url(#m8)"/>
<rect x="373.60" y="312.05" width="4.90" height="4.7" fill="#fff" stroke="#d8dae0" stroke-width="0.3"/>
<rect x="373.60" y="312.05" width="4.90" height="4.7" fill="url(#m2)"/>
<rect x="334.20" y="319.48" width="71.30" height="1.6" fill="#b8b8b8"/>
<rect x="364.00" y="317.98" width="9.10" height="4.7" fill="#fff" stroke="#d8dae0" stroke-width="0.3"/>
<rect x="364.00" y="317.98" width="9.10" height="4.7" fill="url(#m3)"/>
<rect x="373.10" y="317.98" width="2.00" height="4.7" fill="#fff" stroke="#d8dae0" stroke-width="0.3"/>
<rect x="373.10" y="317.98" width="2.00" height="4.7" fill="url(#m8)"/>
<rect x="376.70" y="317.98" width="4.80" height="4.7" fill="#fff" stroke="#d8dae0" stroke-width="0.3"/>
<rect x="376.70" y="317.98" width="4.80" height="4.7" fill="url(#m2)"/>
<rect x="334.20" y="325.40" width="72.20" height="1.6" fill="#b8b8b8"/>
<rect x="364.90" y="323.90" width="9.10" height="4.7" fill="#fff" stroke="#d8dae0" stroke-width="0.3"/>
<rect x="364.90" y="323.90" width="9.10" height="4.7" fill="url(#m3)"/>
<rect x="374.00" y="323.90" width="2.00" height="4.7" fill="#fff" stroke="#d8dae0" stroke-width="0.3"/>
<rect x="374.00" y="323.90" width="2.00" height="4.7" fill="url(#m8)"/>
<rect x="377.60" y="323.90" width="4.80" height="4.7" fill="#fff" stroke="#d8dae0" stroke-width="0.3"/>
<rect x="377.60" y="323.90" width="4.80" height="4.7" fill="url(#m2)"/>
<rect x="334.20" y="331.32" width="72.50" height="1.6" fill="#b8b8b8"/>
<rect x="364.90" y="329.82" width="9.10" height="4.7" fill="#fff" stroke="#d8dae0" stroke-width="0.3"/>
<rect x="364.90" y="329.82" width="9.10" height="4.7" fill="url(#m3)"/>
<rect x="374.00" y="329.82" width="2.00" height="4.7" fill="#fff" stroke="#d8dae0" stroke-width="0.3"/>
<rect x="374.00" y="329.82" width="2.00" height="4.7" fill="url(#m8)"/>
<rect x="377.60" y="329.82" width="4.80" height="4.7" fill="#fff" stroke="#d8dae0" stroke-width="0.3"/>
<rect x="377.60" y="329.82" width="4.80" height="4.7" fill="url(#m2)"/>
<rect x="334.20" y="337.25" width="78.00" height="1.6" fill="#b8b8b8"/>
<rect x="353.30" y="335.75" width="9.10" height="4.7" fill="#fff" stroke="#d8dae0" stroke-width="0.3"/>
<rect x="353.30" y="335.75" width="9.10" height="4.7" fill="url(#m3)"/>
<rect x="362.40" y="335.75" width="2.00" height="4.7" fill="#fff" stroke="#d8dae0" stroke-width="0.3"/>
<rect x="362.40" y="335.75" width="2.00" height="4.7" fill="url(#m8)"/>
<rect x="366.00" y="335.75" width="4.90" height="4.7" fill="#fff" stroke="#d8dae0" stroke-width="0.3"/>
<rect x="366.00" y="335.75" width="4.90" height="4.7" fill="url(#m2)"/>
<rect x="334.20" y="343.17" width="78.90" height="1.6" fill="#b8b8b8"/>
<rect x="354.20" y="341.67" width="9.10" height="4.7" fill="#fff" stroke="#d8dae0" stroke-width="0.3"/>
<rect x="354.20" y="341.67" width="9.10" height="4.7" fill="url(#m3)"/>
<rect x="363.30" y="341.67" width="2.00" height="4.7" fill="#fff" stroke="#d8dae0" stroke-width="0.3"/>
<rect x="363.30" y="341.67" width="2.00" height="4.7" fill="url(#m8)"/>
<rect x="366.90" y="341.67" width="4.90" height="4.7" fill="#fff" stroke="#d8dae0" stroke-width="0.3"/>
<rect x="366.90" y="341.67" width="4.90" height="4.7" fill="url(#m2)"/>
<rect x="334.20" y="349.10" width="78.50" height="1.6" fill="#b8b8b8"/>
<rect x="354.20" y="347.60" width="9.10" height="4.7" fill="#fff" stroke="#d8dae0" stroke-width="0.3"/>
<rect x="354.20" y="347.60" width="9.10" height="4.7" fill="url(#m3)"/>
<rect x="363.30" y="347.60" width="2.00" height="4.7" fill="#fff" stroke="#d8dae0" stroke-width="0.3"/>
<rect x="363.30" y="347.60" width="2.00" height="4.7" fill="url(#m8)"/>
<rect x="366.90" y="347.60" width="4.90" height="4.7" fill="#fff" stroke="#d8dae0" stroke-width="0.3"/>
<rect x="366.90" y="347.60" width="4.90" height="4.7" fill="url(#m2)"/>
<rect x="334.20" y="355.02" width="114.90" height="1.6" fill="#b8b8b8"/>
<rect x="399.60" y="353.52" width="8.90" height="4.7" fill="#fff" stroke="#d8dae0" stroke-width="0.3"/>
<rect x="399.60" y="353.52" width="8.90" height="4.7" fill="url(#m3)"/>
<rect x="408.50" y="353.52" width="2.00" height="4.7" fill="#fff" stroke="#d8dae0" stroke-width="0.3"/>
<rect x="408.50" y="353.52" width="2.00" height="4.7" fill="url(#m8)"/>
<rect x="412.40" y="353.52" width="4.90" height="4.7" fill="#fff" stroke="#d8dae0" stroke-width="0.3"/>
<rect x="412.40" y="353.52" width="4.90" height="4.7" fill="url(#m2)"/>
<rect x="334.20" y="360.94" width="114.90" height="1.6" fill="#b8b8b8"/>
<rect x="399.60" y="359.44" width="8.90" height="4.7" fill="#fff" stroke="#d8dae0" stroke-width="0.3"/>
<rect x="399.60" y="359.44" width="8.90" height="4.7" fill="url(#m3)"/>
<rect x="408.50" y="359.44" width="2.00" height="4.7" fill="#fff" stroke="#d8dae0" stroke-width="0.3"/>
<rect x="408.50" y="359.44" width="2.00" height="4.7" fill="url(#m8)"/>
<rect x="412.40" y="359.44" width="4.90" height="4.7" fill="#fff" stroke="#d8dae0" stroke-width="0.3"/>
<rect x="412.40" y="359.44" width="4.90" height="4.7" fill="url(#m2)"/>
<rect x="334.20" y="366.87" width="114.90" height="1.6" fill="#b8b8b8"/>
<rect x="399.60" y="365.37" width="8.90" height="4.7" fill="#fff" stroke="#d8dae0" stroke-width="0.3"/>
<rect x="399.60" y="365.37" width="8.90" height="4.7" fill="url(#m3)"/>
<rect x="408.50" y="365.37" width="2.00" height="4.7" fill="#fff" stroke="#d8dae0" stroke-width="0.3"/>
<rect x="408.50" y="365.37" width="2.00" height="4.7" fill="url(#m8)"/>
<rect x="412.40" y="365.37" width="4.90" height="4.7" fill="#fff" stroke="#d8dae0" stroke-width="0.3"/>
<rect x="412.40" y="365.37" width="4.90" height="4.7" fill="url(#m2)"/>
<rect x="334.20" y="372.79" width="85.80" height="1.6" fill="#b8b8b8"/>
<rect x="342.40" y="371.29" width="9.10" height="4.7" fill="#fff" stroke="#d8dae0" stroke-width="0.3"/>
<rect x="342.40" y="371.29" width="9.10" height="4.7" fill="url(#m3)"/>
<rect x="351.50" y="371.29" width="2.00" height="4.7" fill="#fff" stroke="#d8dae0" stroke-width="0.3"/>
<rect x="351.50" y="371.29" width="2.00" height="4.7" fill="url(#m8)"/>
<rect x="355.10" y="371.29" width="4.90" height="4.7" fill="#fff" stroke="#d8dae0" stroke-width="0.3"/>
<rect x="355.10" y="371.29" width="4.90" height="4.7" fill="url(#m2)"/>
<rect x="334.20" y="378.72" width="74.90" height="1.6" fill="#b8b8b8"/>
<rect x="335.50" y="377.22" width="9.00" height="4.7" fill="#fff" stroke="#d8dae0" stroke-width="0.3"/>
<rect x="335.50" y="377.22" width="9.00" height="4.7" fill="url(#m3)"/>
<rect x="344.50" y="377.22" width="2.00" height="4.7" fill="#fff" stroke="#d8dae0" stroke-width="0.3"/>
<rect x="344.50" y="377.22" width="2.00" height="4.7" fill="url(#m8)"/>
<rect x="348.20" y="377.22" width="5.10" height="4.7" fill="#fff" stroke="#d8dae0" stroke-width="0.3"/>
<rect x="348.20" y="377.22" width="5.10" height="4.7" fill="url(#m2)"/>
<rect x="334.20" y="384.64" width="74.10" height="1.6" fill="#b8b8b8"/>
<rect x="335.40" y="383.14" width="9.10" height="4.7" fill="#fff" stroke="#d8dae0" stroke-width="0.3"/>
<rect x="335.40" y="383.14" width="9.10" height="4.7" fill="url(#m3)"/>
<rect x="344.50" y="383.14" width="2.00" height="4.7" fill="#fff" stroke="#d8dae0" stroke-width="0.3"/>
<rect x="344.50" y="383.14" width="2.00" height="4.7" fill="url(#m8)"/>
<rect x="348.30" y="383.14" width="4.90" height="4.7" fill="#fff" stroke="#d8dae0" stroke-width="0.3"/>
<rect x="348.30" y="383.14" width="4.90" height="4.7" fill="url(#m2)"/>
<rect x="334.20" y="390.56" width="74.10" height="1.6" fill="#b8b8b8"/>
<rect x="335.40" y="389.06" width="9.10" height="4.7" fill="#fff" stroke="#d8dae0" stroke-width="0.3"/>
<rect x="335.40" y="389.06" width="9.10" height="4.7" fill="url(#m3)"/>
<rect x="344.50" y="389.06" width="2.00" height="4.7" fill="#fff" stroke="#d8dae0" stroke-width="0.3"/>
<rect x="344.50" y="389.06" width="2.00" height="4.7" fill="url(#m8)"/>
<rect x="348.30" y="389.06" width="4.90" height="4.7" fill="#fff" stroke="#d8dae0" stroke-width="0.3"/>
<rect x="348.30" y="389.06" width="4.90" height="4.7" fill="url(#m2)"/>
<rect x="334.20" y="396.49" width="82.80" height="1.6" fill="#b8b8b8"/>
<rect x="343.90" y="394.99" width="9.30" height="4.7" fill="#fff" stroke="#d8dae0" stroke-width="0.3"/>
<rect x="343.90" y="394.99" width="9.30" height="4.7" fill="url(#m3)"/>
<rect x="353.20" y="394.99" width="2.00" height="4.7" fill="#fff" stroke="#d8dae0" stroke-width="0.3"/>
<rect x="353.20" y="394.99" width="2.00" height="4.7" fill="url(#m8)"/>
<rect x="357.00" y="394.99" width="4.90" height="4.7" fill="#fff" stroke="#d8dae0" stroke-width="0.3"/>
<rect x="357.00" y="394.99" width="4.90" height="4.7" fill="url(#m2)"/>
<rect x="378.40" y="394.99" width="7.10" height="4.7" fill="#fff" stroke="#d8dae0" stroke-width="0.3"/>
<rect x="378.40" y="394.99" width="7.10" height="4.7" fill="url(#m5)"/>
<rect x="334.20" y="402.41" width="86.10" height="1.6" fill="#b8b8b8"/>
<rect x="342.20" y="400.91" width="9.10" height="4.7" fill="#fff" stroke="#d8dae0" stroke-width="0.3"/>
<rect x="342.20" y="400.91" width="9.10" height="4.7" fill="url(#m3)"/>
<rect x="351.30" y="400.91" width="2.00" height="4.7" fill="#fff" stroke="#d8dae0" stroke-width="0.3"/>
<rect x="351.30" y="400.91" width="2.00" height="4.7" fill="url(#m8)"/>
<rect x="355.10" y="400.91" width="5.30" height="4.7" fill="#fff" stroke="#d8dae0" stroke-width="0.3"/>
<rect x="355.10" y="400.91" width="5.30" height="4.7" fill="url(#m2)"/>
<rect x="334.20" y="408.34" width="86.10" height="1.6" fill="#b8b8b8"/>
<rect x="342.20" y="406.84" width="9.10" height="4.7" fill="#fff" stroke="#d8dae0" stroke-width="0.3"/>
<rect x="342.20" y="406.84" width="9.10" height="4.7" fill="url(#m3)"/>
<rect x="351.30" y="406.84" width="2.00" height="4.7" fill="#fff" stroke="#d8dae0" stroke-width="0.3"/>
<rect x="351.30" y="406.84" width="2.00" height="4.7" fill="url(#m8)"/>
<rect x="355.10" y="406.84" width="5.30" height="4.7" fill="#fff" stroke="#d8dae0" stroke-width="0.3"/>
<rect x="355.10" y="406.84" width="5.30" height="4.7" fill="url(#m2)"/>
<rect x="334.20" y="414.26" width="130.60" height="1.6" fill="#b8b8b8"/>
<rect x="357.70" y="412.76" width="9.10" height="4.7" fill="#fff" stroke="#d8dae0" stroke-width="0.3"/>
<rect x="357.70" y="412.76" width="9.10" height="4.7" fill="url(#m3)"/>
<rect x="366.80" y="412.76" width="2.00" height="4.7" fill="#fff" stroke="#d8dae0" stroke-width="0.3"/>
<rect x="366.80" y="412.76" width="2.00" height="4.7" fill="url(#m8)"/>
<rect x="370.60" y="412.76" width="4.90" height="4.7" fill="#fff" stroke="#d8dae0" stroke-width="0.3"/>
<rect x="370.60" y="412.76" width="4.90" height="4.7" fill="url(#m2)"/>
<rect x="334.20" y="420.18" width="108.40" height="1.6" fill="#b8b8b8"/>
<rect x="337.40" y="418.68" width="9.00" height="4.7" fill="#fff" stroke="#d8dae0" stroke-width="0.3"/>
<rect x="337.40" y="418.68" width="9.00" height="4.7" fill="url(#m3)"/>
<rect x="346.40" y="418.68" width="2.00" height="4.7" fill="#fff" stroke="#d8dae0" stroke-width="0.3"/>
<rect x="346.40" y="418.68" width="2.00" height="4.7" fill="url(#m8)"/>
<rect x="350.30" y="418.68" width="4.80" height="4.7" fill="#fff" stroke="#d8dae0" stroke-width="0.3"/>
<rect x="350.30" y="418.68" width="4.80" height="4.7" fill="url(#m2)"/>
<rect x="386.10" y="418.68" width="10.60" height="4.7" fill="#fff" stroke="#d8dae0" stroke-width="0.3"/>
<rect x="386.10" y="418.68" width="10.60" height="4.7" fill="url(#m7)"/>
<rect x="334.20" y="426.11" width="90.60" height="1.6" fill="#b8b8b8"/>
<rect x="348.00" y="424.61" width="9.10" height="4.7" fill="#fff" stroke="#d8dae0" stroke-width="0.3"/>
<rect x="348.00" y="424.61" width="9.10" height="4.7" fill="url(#m3)"/>
<rect x="357.10" y="424.61" width="2.00" height="4.7" fill="#fff" stroke="#d8dae0" stroke-width="0.3"/>
<rect x="357.10" y="424.61" width="2.00" height="4.7" fill="url(#m8)"/>
<rect x="361.00" y="424.61" width="4.80" height="4.7" fill="#fff" stroke="#d8dae0" stroke-width="0.3"/>
<rect x="361.00" y="424.61" width="4.80" height="4.7" fill="url(#m2)"/>
<rect x="334.20" y="432.03" width="70.10" height="1.6" fill="#b8b8b8"/>
<rect x="335.80" y="430.53" width="9.10" height="4.7" fill="#fff" stroke="#d8dae0" stroke-width="0.3"/>
<rect x="335.80" y="430.53" width="9.10" height="4.7" fill="url(#m3)"/>
<rect x="344.90" y="430.53" width="2.00" height="4.7" fill="#fff" stroke="#d8dae0" stroke-width="0.3"/>
<rect x="344.90" y="430.53" width="2.00" height="4.7" fill="url(#m8)"/>
<rect x="349.00" y="430.53" width="4.80" height="4.7" fill="#fff" stroke="#d8dae0" stroke-width="0.3"/>
<rect x="349.00" y="430.53" width="4.80" height="4.7" fill="url(#m2)"/>
<rect x="334.20" y="437.96" width="77.40" height="1.6" fill="#b8b8b8"/>
<rect x="335.80" y="436.46" width="9.10" height="4.7" fill="#fff" stroke="#d8dae0" stroke-width="0.3"/>
<rect x="335.80" y="436.46" width="9.10" height="4.7" fill="url(#m3)"/>
<rect x="344.90" y="436.46" width="2.00" height="4.7" fill="#fff" stroke="#d8dae0" stroke-width="0.3"/>
<rect x="344.90" y="436.46" width="2.00" height="4.7" fill="url(#m8)"/>
<rect x="349.00" y="436.46" width="4.80" height="4.7" fill="#fff" stroke="#d8dae0" stroke-width="0.3"/>
<rect x="349.00" y="436.46" width="4.80" height="4.7" fill="url(#m2)"/>
<rect x="334.20" y="443.88" width="71.00" height="1.6" fill="#b8b8b8"/>
<rect x="335.80" y="442.38" width="9.10" height="4.7" fill="#fff" stroke="#d8dae0" stroke-width="0.3"/>
<rect x="335.80" y="442.38" width="9.10" height="4.7" fill="url(#m3)"/>
<rect x="344.90" y="442.38" width="2.00" height="4.7" fill="#fff" stroke="#d8dae0" stroke-width="0.3"/>
<rect x="344.90" y="442.38" width="2.00" height="4.7" fill="url(#m8)"/>
<rect x="349.00" y="442.38" width="4.80" height="4.7" fill="#fff" stroke="#d8dae0" stroke-width="0.3"/>
<rect x="349.00" y="442.38" width="4.80" height="4.7" fill="url(#m2)"/>
<rect x="334.20" y="449.80" width="103.10" height="1.6" fill="#b8b8b8"/>
<rect x="341.60" y="448.30" width="9.30" height="4.7" fill="#fff" stroke="#d8dae0" stroke-width="0.3"/>
<rect x="341.60" y="448.30" width="9.30" height="4.7" fill="url(#m3)"/>
<rect x="350.90" y="448.30" width="2.00" height="4.7" fill="#fff" stroke="#d8dae0" stroke-width="0.3"/>
<rect x="350.90" y="448.30" width="2.00" height="4.7" fill="url(#m8)"/>
<rect x="354.80" y="448.30" width="4.80" height="4.7" fill="#fff" stroke="#d8dae0" stroke-width="0.3"/>
<rect x="354.80" y="448.30" width="4.80" height="4.7" fill="url(#m2)"/>
<rect x="334.20" y="455.73" width="102.90" height="1.6" fill="#b8b8b8"/>
<rect x="341.60" y="454.23" width="9.30" height="4.7" fill="#fff" stroke="#d8dae0" stroke-width="0.3"/>
<rect x="341.60" y="454.23" width="9.30" height="4.7" fill="url(#m3)"/>
<rect x="350.90" y="454.23" width="2.00" height="4.7" fill="#fff" stroke="#d8dae0" stroke-width="0.3"/>
<rect x="350.90" y="454.23" width="2.00" height="4.7" fill="url(#m8)"/>
<rect x="354.80" y="454.23" width="4.80" height="4.7" fill="#fff" stroke="#d8dae0" stroke-width="0.3"/>
<rect x="354.80" y="454.23" width="4.80" height="4.7" fill="url(#m2)"/>
<rect x="334.20" y="461.65" width="89.60" height="1.6" fill="#b8b8b8"/>
<rect x="342.20" y="460.15" width="9.10" height="4.7" fill="#fff" stroke="#d8dae0" stroke-width="0.3"/>
<rect x="342.20" y="460.15" width="9.10" height="4.7" fill="url(#m3)"/>
<rect x="351.30" y="460.15" width="2.00" height="4.7" fill="#fff" stroke="#d8dae0" stroke-width="0.3"/>
<rect x="351.30" y="460.15" width="2.00" height="4.7" fill="url(#m8)"/>
<rect x="355.10" y="460.15" width="4.80" height="4.7" fill="#fff" stroke="#d8dae0" stroke-width="0.3"/>
<rect x="355.10" y="460.15" width="4.80" height="4.7" fill="url(#m2)"/>
<rect x="334.20" y="467.58" width="89.60" height="1.6" fill="#b8b8b8"/>
<rect x="342.20" y="466.08" width="9.10" height="4.7" fill="#fff" stroke="#d8dae0" stroke-width="0.3"/>
<rect x="342.20" y="466.08" width="9.10" height="4.7" fill="url(#m3)"/>
<rect x="351.30" y="466.08" width="2.00" height="4.7" fill="#fff" stroke="#d8dae0" stroke-width="0.3"/>
<rect x="351.30" y="466.08" width="2.00" height="4.7" fill="url(#m8)"/>
<rect x="355.10" y="466.08" width="4.80" height="4.7" fill="#fff" stroke="#d8dae0" stroke-width="0.3"/>
<rect x="355.10" y="466.08" width="4.80" height="4.7" fill="url(#m2)"/>
<rect x="334.20" y="473.50" width="89.60" height="1.6" fill="#b8b8b8"/>
<rect x="342.20" y="472.00" width="9.10" height="4.7" fill="#fff" stroke="#d8dae0" stroke-width="0.3"/>
<rect x="342.20" y="472.00" width="9.10" height="4.7" fill="url(#m3)"/>
<rect x="351.30" y="472.00" width="2.00" height="4.7" fill="#fff" stroke="#d8dae0" stroke-width="0.3"/>
<rect x="351.30" y="472.00" width="2.00" height="4.7" fill="url(#m8)"/>
<rect x="355.10" y="472.00" width="4.80" height="4.7" fill="#fff" stroke="#d8dae0" stroke-width="0.3"/>
<rect x="355.10" y="472.00" width="4.80" height="4.7" fill="url(#m2)"/>
<rect x="333.8" y="479.9" width="177.0" height="1.0" fill="#8a8a8a"/>
<rect x="334.60" y="480.4" width="0.8" height="2.0" fill="#999"/>
<rect x="359.70" y="480.4" width="0.8" height="2.0" fill="#999"/>
<rect x="384.80" y="480.4" width="0.8" height="2.0" fill="#999"/>
<rect x="409.90" y="480.4" width="0.8" height="2.0" fill="#999"/>
<rect x="435.00" y="480.4" width="0.8" height="2.0" fill="#999"/>
<rect x="460.10" y="480.4" width="0.8" height="2.0" fill="#999"/>
<rect x="485.20" y="480.4" width="0.8" height="2.0" fill="#999"/>
<rect x="510.30" y="480.4" width="0.8" height="2.0" fill="#999"/>
<text x="336.50" y="492.0" font-size="6.1" font-weight="bold" fill="#222" stroke="#222" stroke-width="0.16" text-anchor="middle">0</text>
<text x="359.00" y="492.0" font-size="6.1" font-weight="bold" fill="#222" stroke="#222" stroke-width="0.16" text-anchor="middle">100</text>
<text x="384.00" y="492.0" font-size="6.1" font-weight="bold" fill="#222" stroke="#222" stroke-width="0.16" text-anchor="middle">200</text>
<text x="409.00" y="492.0" font-size="6.1" font-weight="bold" fill="#222" stroke="#222" stroke-width="0.16" text-anchor="middle">300</text>
<text x="436.30" y="492.0" font-size="6.1" font-weight="bold" fill="#222" stroke="#222" stroke-width="0.16" text-anchor="middle">400</text>
<text x="460.90" y="492.0" font-size="6.1" font-weight="bold" fill="#222" stroke="#222" stroke-width="0.16" text-anchor="middle">500</text>
<text x="485.20" y="492.0" font-size="6.1" font-weight="bold" fill="#222" stroke="#222" stroke-width="0.16" text-anchor="middle">600</text>
<text x="510.40" y="492.0" font-size="6.1" font-weight="bold" fill="#222" stroke="#222" stroke-width="0.16" text-anchor="middle">700</text>
<text x="328.6" y="481.6" font-size="7.6" fill="#333">5'</text>
<text x="511.0" y="481.6" font-size="7.6" fill="#333">3'</text>
<rect x="275.3" y="344.7" width="21.5" height="8.7" fill="#fff" stroke="#e4e4e4" stroke-width="0.5"/>
<rect x="275.3" y="344.7" width="21.5" height="8.7" fill="url(#lgG)"/>
<text x="298.6" y="349.90" font-size="6.3" fill="#333">UTR</text>
<rect x="275.3" y="355.1" width="21.5" height="8.7" fill="#fff" stroke="#e4e4e4" stroke-width="0.5"/>
<rect x="275.3" y="355.1" width="21.5" height="8.7" fill="url(#lgY)"/>
<text x="298.6" y="360.30" font-size="6.3" fill="#333">CDS</text>
<rect x="497" y="334.20" width="23" height="8.8" fill="#fff" stroke="#e4e4e4" stroke-width="0.5"/>
<rect x="497" y="334.20" width="23" height="8.8" fill="url(#l1)"/>
<text transform="translate(522.6,339.30) scale(0.86,1)" font-size="7.3" fill="#333" word-spacing="0.8">Motif 1</text>
<rect x="497" y="347.30" width="23" height="8.8" fill="#fff" stroke="#e4e4e4" stroke-width="0.5"/>
<rect x="497" y="347.30" width="23" height="8.8" fill="url(#l2)"/>
<text transform="translate(522.6,352.40) scale(0.86,1)" font-size="7.3" fill="#333" word-spacing="0.8">Motif 2</text>
<rect x="497" y="361.00" width="23" height="8.8" fill="#fff" stroke="#e4e4e4" stroke-width="0.5"/>
<rect x="497" y="361.00" width="23" height="8.8" fill="url(#l3)"/>
<text transform="translate(522.6,366.10) scale(0.86,1)" font-size="7.3" fill="#333" word-spacing="0.8">Motif 3</text>
<rect x="497" y="373.70" width="23" height="8.8" fill="#fff" stroke="#e4e4e4" stroke-width="0.5"/>
<rect x="497" y="373.70" width="23" height="8.8" fill="url(#l4)"/>
<text transform="translate(522.6,378.80) scale(0.86,1)" font-size="7.3" fill="#333" word-spacing="0.8">Motif 4</text>
<rect x="497" y="386.00" width="23" height="8.8" fill="#fff" stroke="#e4e4e4" stroke-width="0.5"/>
<rect x="497" y="386.00" width="23" height="8.8" fill="url(#l5)"/>
<text transform="translate(522.6,391.10) scale(0.86,1)" font-size="7.3" fill="#333" word-spacing="0.8">Motif 5</text>
<rect x="497" y="399.20" width="23" height="8.8" fill="#fff" stroke="#e4e4e4" stroke-width="0.5"/>
<rect x="497" y="399.20" width="23" height="8.8" fill="url(#l6)"/>
<text transform="translate(522.6,404.30) scale(0.86,1)" font-size="7.3" fill="#333" word-spacing="0.8">Motif 6</text>
<rect x="497" y="414.00" width="23" height="8.8" fill="#fff" stroke="#e4e4e4" stroke-width="0.5"/>
<rect x="497" y="414.00" width="23" height="8.8" fill="url(#l7)"/>
<text transform="translate(522.6,419.10) scale(0.86,1)" font-size="7.3" fill="#333" word-spacing="0.8">Motif 7</text>
<rect x="497" y="426.80" width="23" height="8.8" fill="#fff" stroke="#e4e4e4" stroke-width="0.5"/>
<rect x="497" y="426.80" width="23" height="8.8" fill="url(#l8)"/>
<text transform="translate(522.6,431.90) scale(0.86,1)" font-size="7.3" fill="#333" word-spacing="0.8">Motif 8</text>
<rect x="497" y="439.40" width="23" height="8.8" fill="#fff" stroke="#e4e4e4" stroke-width="0.5"/>
<rect x="497" y="439.40" width="23" height="8.8" fill="url(#l9)"/>
<text transform="translate(522.6,444.50) scale(0.86,1)" font-size="7.3" fill="#333" word-spacing="0.8">Motif 9</text>
<rect x="497" y="451.60" width="23" height="8.8" fill="#fff" stroke="#e4e4e4" stroke-width="0.5"/>
<rect x="497" y="451.60" width="23" height="8.8" fill="url(#l10)"/>
<text transform="translate(522.6,456.70) scale(0.86,1)" font-size="7.3" fill="#333" word-spacing="0.8">Motif 10</text>
</svg></body></html>
